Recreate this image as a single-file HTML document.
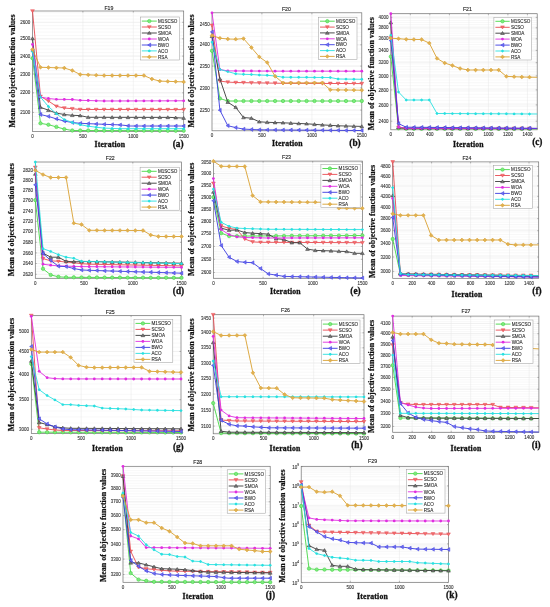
<!DOCTYPE html>
<html><head><meta charset="utf-8"><style>
html,body{margin:0;padding:0;background:#fff;width:550px;height:607px;overflow:hidden}
svg{display:block;filter:blur(0.3px)}
.tk{font-family:"Liberation Sans",Arial,sans-serif;font-size:4.5px;fill:#333;stroke:#333;stroke-width:0.1px}
.tt{font-family:"Liberation Sans",Arial,sans-serif;font-size:5.2px;fill:#222;stroke:#222;stroke-width:0.12px}
.lg{font-family:"Liberation Sans",Arial,sans-serif;font-size:4.6px;fill:#222;stroke:#222;stroke-width:0.08px}
.yl{font-family:"Liberation Serif","Times New Roman",serif;font-weight:bold;font-size:7.9px;fill:#111;stroke:#111;stroke-width:0.2px}
.xl{font-family:"Liberation Serif","Times New Roman",serif;font-weight:bold;font-size:7.7px;letter-spacing:0.2px;fill:#111;stroke:#111;stroke-width:0.3px}
.tag{font-family:"Liberation Serif","Times New Roman",serif;font-weight:bold;font-size:9.3px;fill:#111;stroke:#111;stroke-width:0.3px}
</style></head><body>
<svg width="550" height="607" viewBox="0 0 550 607">
<rect width="550" height="607" fill="#fff"/>
<line x1="32.5" x2="183.7" y1="128.8" y2="128.8" stroke="#f1f1f1" stroke-width="0.5"/>
<line x1="32.5" x2="183.7" y1="124.6" y2="124.6" stroke="#f1f1f1" stroke-width="0.5"/>
<line x1="32.5" x2="183.7" y1="120.5" y2="120.5" stroke="#f1f1f1" stroke-width="0.5"/>
<line x1="32.5" x2="183.7" y1="116.4" y2="116.4" stroke="#f1f1f1" stroke-width="0.5"/>
<line x1="32.5" x2="183.7" y1="112.4" y2="112.4" stroke="#f1f1f1" stroke-width="0.5"/>
<line x1="32.5" x2="183.7" y1="108.4" y2="108.4" stroke="#f1f1f1" stroke-width="0.5"/>
<line x1="32.5" x2="183.7" y1="104.4" y2="104.4" stroke="#f1f1f1" stroke-width="0.5"/>
<line x1="32.5" x2="183.7" y1="100.5" y2="100.5" stroke="#f1f1f1" stroke-width="0.5"/>
<line x1="32.5" x2="183.7" y1="96.6" y2="96.6" stroke="#f1f1f1" stroke-width="0.5"/>
<line x1="32.5" x2="183.7" y1="92.8" y2="92.8" stroke="#f1f1f1" stroke-width="0.5"/>
<line x1="32.5" x2="183.7" y1="89.0" y2="89.0" stroke="#f1f1f1" stroke-width="0.5"/>
<line x1="32.5" x2="183.7" y1="85.2" y2="85.2" stroke="#f1f1f1" stroke-width="0.5"/>
<line x1="32.5" x2="183.7" y1="81.4" y2="81.4" stroke="#f1f1f1" stroke-width="0.5"/>
<line x1="32.5" x2="183.7" y1="77.7" y2="77.7" stroke="#f1f1f1" stroke-width="0.5"/>
<line x1="32.5" x2="183.7" y1="74.0" y2="74.0" stroke="#f1f1f1" stroke-width="0.5"/>
<line x1="32.5" x2="183.7" y1="70.4" y2="70.4" stroke="#f1f1f1" stroke-width="0.5"/>
<line x1="32.5" x2="183.7" y1="66.7" y2="66.7" stroke="#f1f1f1" stroke-width="0.5"/>
<line x1="32.5" x2="183.7" y1="63.2" y2="63.2" stroke="#f1f1f1" stroke-width="0.5"/>
<line x1="32.5" x2="183.7" y1="59.6" y2="59.6" stroke="#f1f1f1" stroke-width="0.5"/>
<line x1="32.5" x2="183.7" y1="56.1" y2="56.1" stroke="#f1f1f1" stroke-width="0.5"/>
<line x1="32.5" x2="183.7" y1="52.6" y2="52.6" stroke="#f1f1f1" stroke-width="0.5"/>
<line x1="32.5" x2="183.7" y1="49.1" y2="49.1" stroke="#f1f1f1" stroke-width="0.5"/>
<line x1="32.5" x2="183.7" y1="45.7" y2="45.7" stroke="#f1f1f1" stroke-width="0.5"/>
<line x1="32.5" x2="183.7" y1="42.2" y2="42.2" stroke="#f1f1f1" stroke-width="0.5"/>
<line x1="32.5" x2="183.7" y1="38.8" y2="38.8" stroke="#f1f1f1" stroke-width="0.5"/>
<line x1="32.5" x2="183.7" y1="35.5" y2="35.5" stroke="#f1f1f1" stroke-width="0.5"/>
<line x1="32.5" x2="183.7" y1="32.1" y2="32.1" stroke="#f1f1f1" stroke-width="0.5"/>
<line x1="32.5" x2="183.7" y1="28.8" y2="28.8" stroke="#f1f1f1" stroke-width="0.5"/>
<line x1="32.5" x2="183.7" y1="25.6" y2="25.6" stroke="#f1f1f1" stroke-width="0.5"/>
<line x1="32.5" x2="183.7" y1="22.3" y2="22.3" stroke="#f1f1f1" stroke-width="0.5"/>
<line x1="32.5" x2="183.7" y1="19.1" y2="19.1" stroke="#f1f1f1" stroke-width="0.5"/>
<line x1="32.5" x2="183.7" y1="15.9" y2="15.9" stroke="#f1f1f1" stroke-width="0.5"/>
<line x1="32.5" x2="183.7" y1="12.7" y2="12.7" stroke="#f1f1f1" stroke-width="0.5"/>
<line x1="32.5" x2="183.7" y1="112.4" y2="112.4" stroke="#e6e6e6" stroke-width="0.5"/>
<line x1="32.5" x2="183.7" y1="92.8" y2="92.8" stroke="#e6e6e6" stroke-width="0.5"/>
<line x1="32.5" x2="183.7" y1="74.0" y2="74.0" stroke="#e6e6e6" stroke-width="0.5"/>
<line x1="32.5" x2="183.7" y1="56.1" y2="56.1" stroke="#e6e6e6" stroke-width="0.5"/>
<line x1="32.5" x2="183.7" y1="38.8" y2="38.8" stroke="#e6e6e6" stroke-width="0.5"/>
<line x1="32.5" x2="183.7" y1="22.3" y2="22.3" stroke="#e6e6e6" stroke-width="0.5"/>
<line x1="82.9" x2="82.9" y1="11" y2="131.5" stroke="#e6e6e6" stroke-width="0.5"/>
<line x1="133.3" x2="133.3" y1="11" y2="131.5" stroke="#e6e6e6" stroke-width="0.5"/>
<rect x="32.5" y="11" width="151.2" height="120.5" fill="none" stroke="#707070" stroke-width="0.7"/>
<line x1="32.5" x2="34.0" y1="112.4" y2="112.4" stroke="#777" stroke-width="0.5"/>
<line x1="182.2" x2="183.7" y1="112.4" y2="112.4" stroke="#777" stroke-width="0.5"/>
<text x="30.3" y="114.0" class="tk" text-anchor="end">2100</text>
<line x1="32.5" x2="34.0" y1="92.8" y2="92.8" stroke="#777" stroke-width="0.5"/>
<line x1="182.2" x2="183.7" y1="92.8" y2="92.8" stroke="#777" stroke-width="0.5"/>
<text x="30.3" y="94.4" class="tk" text-anchor="end">2200</text>
<line x1="32.5" x2="34.0" y1="74.0" y2="74.0" stroke="#777" stroke-width="0.5"/>
<line x1="182.2" x2="183.7" y1="74.0" y2="74.0" stroke="#777" stroke-width="0.5"/>
<text x="30.3" y="75.6" class="tk" text-anchor="end">2300</text>
<line x1="32.5" x2="34.0" y1="56.1" y2="56.1" stroke="#777" stroke-width="0.5"/>
<line x1="182.2" x2="183.7" y1="56.1" y2="56.1" stroke="#777" stroke-width="0.5"/>
<text x="30.3" y="57.7" class="tk" text-anchor="end">2400</text>
<line x1="32.5" x2="34.0" y1="38.8" y2="38.8" stroke="#777" stroke-width="0.5"/>
<line x1="182.2" x2="183.7" y1="38.8" y2="38.8" stroke="#777" stroke-width="0.5"/>
<text x="30.3" y="40.4" class="tk" text-anchor="end">2500</text>
<line x1="32.5" x2="34.0" y1="22.3" y2="22.3" stroke="#777" stroke-width="0.5"/>
<line x1="182.2" x2="183.7" y1="22.3" y2="22.3" stroke="#777" stroke-width="0.5"/>
<text x="30.3" y="23.9" class="tk" text-anchor="end">2600</text>
<text x="32.5" y="137.7" class="tk" text-anchor="middle">0</text>
<line x1="82.9" x2="82.9" y1="130.0" y2="131.5" stroke="#777" stroke-width="0.5"/>
<line x1="82.9" x2="82.9" y1="11" y2="12.5" stroke="#777" stroke-width="0.5"/>
<text x="82.9" y="137.7" class="tk" text-anchor="middle">500</text>
<line x1="133.3" x2="133.3" y1="130.0" y2="131.5" stroke="#777" stroke-width="0.5"/>
<line x1="133.3" x2="133.3" y1="11" y2="12.5" stroke="#777" stroke-width="0.5"/>
<text x="133.3" y="137.7" class="tk" text-anchor="middle">1000</text>
<text x="183.7" y="137.7" class="tk" text-anchor="middle">1500</text>
<clipPath id="clipa"><rect x="29.5" y="8" width="157.2" height="126.5"/></clipPath>
<g clip-path="url(#clipa)">
<path d="M32.5,58.2L40.5,123.3L48.4,124.7L56.4,126.9L64.3,129.1L72.3,130.5L183.7,130.7" fill="none" stroke="#45d845" stroke-width="0.9" stroke-linejoin="round"/>
<circle cx="32.5" cy="58.2" r="1.7" fill="#7ee87e" stroke="#45d845" stroke-width="0.6"/>
<circle cx="40.5" cy="123.3" r="1.7" fill="#7ee87e" stroke="#45d845" stroke-width="0.6"/>
<circle cx="48.4" cy="124.7" r="1.7" fill="#7ee87e" stroke="#45d845" stroke-width="0.6"/>
<circle cx="56.4" cy="126.9" r="1.7" fill="#7ee87e" stroke="#45d845" stroke-width="0.6"/>
<circle cx="64.3" cy="129.1" r="1.7" fill="#7ee87e" stroke="#45d845" stroke-width="0.6"/>
<circle cx="72.3" cy="130.5" r="1.7" fill="#7ee87e" stroke="#45d845" stroke-width="0.6"/>
<circle cx="80.2" cy="130.5" r="1.7" fill="#7ee87e" stroke="#45d845" stroke-width="0.6"/>
<circle cx="88.2" cy="130.5" r="1.7" fill="#7ee87e" stroke="#45d845" stroke-width="0.6"/>
<circle cx="96.2" cy="130.5" r="1.7" fill="#7ee87e" stroke="#45d845" stroke-width="0.6"/>
<circle cx="104.1" cy="130.6" r="1.7" fill="#7ee87e" stroke="#45d845" stroke-width="0.6"/>
<circle cx="112.1" cy="130.6" r="1.7" fill="#7ee87e" stroke="#45d845" stroke-width="0.6"/>
<circle cx="120.0" cy="130.6" r="1.7" fill="#7ee87e" stroke="#45d845" stroke-width="0.6"/>
<circle cx="128.0" cy="130.6" r="1.7" fill="#7ee87e" stroke="#45d845" stroke-width="0.6"/>
<circle cx="136.0" cy="130.6" r="1.7" fill="#7ee87e" stroke="#45d845" stroke-width="0.6"/>
<circle cx="143.9" cy="130.6" r="1.7" fill="#7ee87e" stroke="#45d845" stroke-width="0.6"/>
<circle cx="151.9" cy="130.6" r="1.7" fill="#7ee87e" stroke="#45d845" stroke-width="0.6"/>
<circle cx="159.8" cy="130.7" r="1.7" fill="#7ee87e" stroke="#45d845" stroke-width="0.6"/>
<circle cx="167.8" cy="130.7" r="1.7" fill="#7ee87e" stroke="#45d845" stroke-width="0.6"/>
<circle cx="175.7" cy="130.7" r="1.7" fill="#7ee87e" stroke="#45d845" stroke-width="0.6"/>
<circle cx="183.7" cy="130.7" r="1.7" fill="#7ee87e" stroke="#45d845" stroke-width="0.6"/>
<path d="M32.5,11.0L40.5,96.4L48.4,101.0L56.4,106.3L64.3,108.0L72.3,108.7L80.2,109.5L183.7,109.6" fill="none" stroke="#e84850" stroke-width="0.9" stroke-linejoin="round"/>
<path d="M30.6,9.7L34.4,9.7L32.5,12.7Z" fill="#f07070" stroke="#e84850" stroke-width="0.5"/>
<path d="M38.6,95.1L42.4,95.1L40.5,98.1Z" fill="#f07070" stroke="#e84850" stroke-width="0.5"/>
<path d="M46.5,99.7L50.3,99.7L48.4,102.7Z" fill="#f07070" stroke="#e84850" stroke-width="0.5"/>
<path d="M54.5,105.0L58.3,105.0L56.4,108.0Z" fill="#f07070" stroke="#e84850" stroke-width="0.5"/>
<path d="M62.4,106.7L66.2,106.7L64.3,109.7Z" fill="#f07070" stroke="#e84850" stroke-width="0.5"/>
<path d="M70.4,107.4L74.2,107.4L72.3,110.4Z" fill="#f07070" stroke="#e84850" stroke-width="0.5"/>
<path d="M78.3,108.2L82.1,108.2L80.2,111.2Z" fill="#f07070" stroke="#e84850" stroke-width="0.5"/>
<path d="M86.3,108.2L90.1,108.2L88.2,111.2Z" fill="#f07070" stroke="#e84850" stroke-width="0.5"/>
<path d="M94.3,108.2L98.1,108.2L96.2,111.2Z" fill="#f07070" stroke="#e84850" stroke-width="0.5"/>
<path d="M102.2,108.2L106.0,108.2L104.1,111.2Z" fill="#f07070" stroke="#e84850" stroke-width="0.5"/>
<path d="M110.2,108.2L114.0,108.2L112.1,111.2Z" fill="#f07070" stroke="#e84850" stroke-width="0.5"/>
<path d="M118.1,108.2L121.9,108.2L120.0,111.2Z" fill="#f07070" stroke="#e84850" stroke-width="0.5"/>
<path d="M126.1,108.2L129.9,108.2L128.0,111.3Z" fill="#f07070" stroke="#e84850" stroke-width="0.5"/>
<path d="M134.1,108.2L137.9,108.2L136.0,111.3Z" fill="#f07070" stroke="#e84850" stroke-width="0.5"/>
<path d="M142.0,108.2L145.8,108.2L143.9,111.3Z" fill="#f07070" stroke="#e84850" stroke-width="0.5"/>
<path d="M150.0,108.2L153.8,108.2L151.9,111.3Z" fill="#f07070" stroke="#e84850" stroke-width="0.5"/>
<path d="M157.9,108.2L161.7,108.2L159.8,111.3Z" fill="#f07070" stroke="#e84850" stroke-width="0.5"/>
<path d="M165.9,108.3L169.7,108.3L167.8,111.3Z" fill="#f07070" stroke="#e84850" stroke-width="0.5"/>
<path d="M173.8,108.3L177.6,108.3L175.7,111.3Z" fill="#f07070" stroke="#e84850" stroke-width="0.5"/>
<path d="M181.8,108.3L185.6,108.3L183.7,111.3Z" fill="#f07070" stroke="#e84850" stroke-width="0.5"/>
<path d="M32.5,38.5L40.5,107.3L48.4,110.2L56.4,113.1L64.3,114.5L72.3,115.3L80.2,115.6L88.2,117.3L170.0,117.4L183.7,118.1" fill="none" stroke="#3a3a3a" stroke-width="0.9" stroke-linejoin="round"/>
<path d="M30.6,39.8L34.4,39.8L32.5,36.8Z" fill="#777777" stroke="#3a3a3a" stroke-width="0.5"/>
<path d="M38.6,108.6L42.4,108.6L40.5,105.6Z" fill="#777777" stroke="#3a3a3a" stroke-width="0.5"/>
<path d="M46.5,111.5L50.3,111.5L48.4,108.5Z" fill="#777777" stroke="#3a3a3a" stroke-width="0.5"/>
<path d="M54.5,114.4L58.3,114.4L56.4,111.4Z" fill="#777777" stroke="#3a3a3a" stroke-width="0.5"/>
<path d="M62.4,115.8L66.2,115.8L64.3,112.8Z" fill="#777777" stroke="#3a3a3a" stroke-width="0.5"/>
<path d="M70.4,116.6L74.2,116.6L72.3,113.6Z" fill="#777777" stroke="#3a3a3a" stroke-width="0.5"/>
<path d="M78.3,116.9L82.1,116.9L80.2,113.9Z" fill="#777777" stroke="#3a3a3a" stroke-width="0.5"/>
<path d="M86.3,118.6L90.1,118.6L88.2,115.6Z" fill="#777777" stroke="#3a3a3a" stroke-width="0.5"/>
<path d="M94.3,118.6L98.1,118.6L96.2,115.6Z" fill="#777777" stroke="#3a3a3a" stroke-width="0.5"/>
<path d="M102.2,118.6L106.0,118.6L104.1,115.6Z" fill="#777777" stroke="#3a3a3a" stroke-width="0.5"/>
<path d="M110.2,118.7L114.0,118.7L112.1,115.6Z" fill="#777777" stroke="#3a3a3a" stroke-width="0.5"/>
<path d="M118.1,118.7L121.9,118.7L120.0,115.6Z" fill="#777777" stroke="#3a3a3a" stroke-width="0.5"/>
<path d="M126.1,118.7L129.9,118.7L128.0,115.6Z" fill="#777777" stroke="#3a3a3a" stroke-width="0.5"/>
<path d="M134.1,118.7L137.9,118.7L136.0,115.6Z" fill="#777777" stroke="#3a3a3a" stroke-width="0.5"/>
<path d="M142.0,118.7L145.8,118.7L143.9,115.7Z" fill="#777777" stroke="#3a3a3a" stroke-width="0.5"/>
<path d="M150.0,118.7L153.8,118.7L151.9,115.7Z" fill="#777777" stroke="#3a3a3a" stroke-width="0.5"/>
<path d="M157.9,118.7L161.7,118.7L159.8,115.7Z" fill="#777777" stroke="#3a3a3a" stroke-width="0.5"/>
<path d="M165.9,118.7L169.7,118.7L167.8,115.7Z" fill="#777777" stroke="#3a3a3a" stroke-width="0.5"/>
<path d="M173.8,119.0L177.6,119.0L175.7,116.0Z" fill="#777777" stroke="#3a3a3a" stroke-width="0.5"/>
<path d="M181.8,119.4L185.6,119.4L183.7,116.4Z" fill="#777777" stroke="#3a3a3a" stroke-width="0.5"/>
<path d="M32.5,44.4L40.5,97.1L48.4,98.5L56.4,99.3L72.3,99.5L80.2,100.3L104.1,101.0L183.7,100.8" fill="none" stroke="#e02ee0" stroke-width="0.9" stroke-linejoin="round"/>
<circle cx="32.5" cy="44.4" r="1.4" fill="#e02ee0"/>
<circle cx="40.5" cy="97.1" r="1.4" fill="#e02ee0"/>
<circle cx="48.4" cy="98.5" r="1.4" fill="#e02ee0"/>
<circle cx="56.4" cy="99.3" r="1.4" fill="#e02ee0"/>
<circle cx="64.3" cy="99.4" r="1.4" fill="#e02ee0"/>
<circle cx="72.3" cy="99.5" r="1.4" fill="#e02ee0"/>
<circle cx="80.2" cy="100.3" r="1.4" fill="#e02ee0"/>
<circle cx="88.2" cy="100.5" r="1.4" fill="#e02ee0"/>
<circle cx="96.2" cy="100.8" r="1.4" fill="#e02ee0"/>
<circle cx="104.1" cy="101.0" r="1.4" fill="#e02ee0"/>
<circle cx="112.1" cy="101.0" r="1.4" fill="#e02ee0"/>
<circle cx="120.0" cy="101.0" r="1.4" fill="#e02ee0"/>
<circle cx="128.0" cy="100.9" r="1.4" fill="#e02ee0"/>
<circle cx="136.0" cy="100.9" r="1.4" fill="#e02ee0"/>
<circle cx="143.9" cy="100.9" r="1.4" fill="#e02ee0"/>
<circle cx="151.9" cy="100.9" r="1.4" fill="#e02ee0"/>
<circle cx="159.8" cy="100.9" r="1.4" fill="#e02ee0"/>
<circle cx="167.8" cy="100.8" r="1.4" fill="#e02ee0"/>
<circle cx="175.7" cy="100.8" r="1.4" fill="#e02ee0"/>
<circle cx="183.7" cy="100.8" r="1.4" fill="#e02ee0"/>
<path d="M32.5,51.0L40.5,114.5L48.4,116.4L56.4,118.9L64.3,121.1L72.3,122.5L80.2,123.3L104.1,124.3L120.0,124.9L130.0,126.0L183.7,126.0" fill="none" stroke="#3a3ae0" stroke-width="0.9" stroke-linejoin="round"/>
<path d="M30.8,51.0L33.8,49.1L33.8,52.9Z" fill="#7070f0" stroke="#3a3ae0" stroke-width="0.5"/>
<path d="M38.7,114.5L41.8,112.6L41.8,116.4Z" fill="#7070f0" stroke="#3a3ae0" stroke-width="0.5"/>
<path d="M46.7,116.4L49.7,114.5L49.7,118.3Z" fill="#7070f0" stroke="#3a3ae0" stroke-width="0.5"/>
<path d="M54.7,118.9L57.7,117.0L57.7,120.8Z" fill="#7070f0" stroke="#3a3ae0" stroke-width="0.5"/>
<path d="M62.6,121.1L65.7,119.2L65.7,123.0Z" fill="#7070f0" stroke="#3a3ae0" stroke-width="0.5"/>
<path d="M70.6,122.5L73.6,120.6L73.6,124.4Z" fill="#7070f0" stroke="#3a3ae0" stroke-width="0.5"/>
<path d="M78.5,123.3L81.6,121.4L81.6,125.2Z" fill="#7070f0" stroke="#3a3ae0" stroke-width="0.5"/>
<path d="M86.5,123.6L89.5,121.7L89.5,125.5Z" fill="#7070f0" stroke="#3a3ae0" stroke-width="0.5"/>
<path d="M94.5,124.0L97.5,122.1L97.5,125.9Z" fill="#7070f0" stroke="#3a3ae0" stroke-width="0.5"/>
<path d="M102.4,124.3L105.5,122.4L105.5,126.2Z" fill="#7070f0" stroke="#3a3ae0" stroke-width="0.5"/>
<path d="M110.4,124.6L113.4,122.7L113.4,126.5Z" fill="#7070f0" stroke="#3a3ae0" stroke-width="0.5"/>
<path d="M118.3,124.9L121.4,123.0L121.4,126.8Z" fill="#7070f0" stroke="#3a3ae0" stroke-width="0.5"/>
<path d="M126.3,125.8L129.3,123.9L129.3,127.7Z" fill="#7070f0" stroke="#3a3ae0" stroke-width="0.5"/>
<path d="M134.2,126.0L137.3,124.1L137.3,127.9Z" fill="#7070f0" stroke="#3a3ae0" stroke-width="0.5"/>
<path d="M142.2,126.0L145.2,124.1L145.2,127.9Z" fill="#7070f0" stroke="#3a3ae0" stroke-width="0.5"/>
<path d="M150.2,126.0L153.2,124.1L153.2,127.9Z" fill="#7070f0" stroke="#3a3ae0" stroke-width="0.5"/>
<path d="M158.1,126.0L161.2,124.1L161.2,127.9Z" fill="#7070f0" stroke="#3a3ae0" stroke-width="0.5"/>
<path d="M166.1,126.0L169.1,124.1L169.1,127.9Z" fill="#7070f0" stroke="#3a3ae0" stroke-width="0.5"/>
<path d="M174.0,126.0L177.1,124.1L177.1,127.9Z" fill="#7070f0" stroke="#3a3ae0" stroke-width="0.5"/>
<path d="M182.0,126.0L185.0,124.1L185.0,127.9Z" fill="#7070f0" stroke="#3a3ae0" stroke-width="0.5"/>
<path d="M32.5,51.6L40.5,97.1L48.4,106.5L56.4,113.8L64.3,119.6L72.3,122.5L80.2,124.7L88.2,126.2L96.2,127.2L104.1,128.1L120.0,128.7L183.7,128.7" fill="none" stroke="#28e0e0" stroke-width="0.9" stroke-linejoin="round"/>
<circle cx="32.5" cy="51.6" r="1.2" fill="#28e0e0"/><path d="M31.0,51.6H34.0M32.5,50.1V53.1" stroke="#28e0e0" stroke-width="0.5"/>
<circle cx="40.5" cy="97.1" r="1.2" fill="#28e0e0"/><path d="M39.0,97.1H42.0M40.5,95.6V98.6" stroke="#28e0e0" stroke-width="0.5"/>
<circle cx="48.4" cy="106.5" r="1.2" fill="#28e0e0"/><path d="M46.9,106.5H49.9M48.4,105.0V108.0" stroke="#28e0e0" stroke-width="0.5"/>
<circle cx="56.4" cy="113.8" r="1.2" fill="#28e0e0"/><path d="M54.9,113.8H57.9M56.4,112.3V115.3" stroke="#28e0e0" stroke-width="0.5"/>
<circle cx="64.3" cy="119.6" r="1.2" fill="#28e0e0"/><path d="M62.8,119.6H65.8M64.3,118.1V121.1" stroke="#28e0e0" stroke-width="0.5"/>
<circle cx="72.3" cy="122.5" r="1.2" fill="#28e0e0"/><path d="M70.8,122.5H73.8M72.3,121.0V124.0" stroke="#28e0e0" stroke-width="0.5"/>
<circle cx="80.2" cy="124.7" r="1.2" fill="#28e0e0"/><path d="M78.7,124.7H81.7M80.2,123.2V126.2" stroke="#28e0e0" stroke-width="0.5"/>
<circle cx="88.2" cy="126.2" r="1.2" fill="#28e0e0"/><path d="M86.7,126.2H89.7M88.2,124.7V127.7" stroke="#28e0e0" stroke-width="0.5"/>
<circle cx="96.2" cy="127.2" r="1.2" fill="#28e0e0"/><path d="M94.7,127.2H97.7M96.2,125.7V128.7" stroke="#28e0e0" stroke-width="0.5"/>
<circle cx="104.1" cy="128.1" r="1.2" fill="#28e0e0"/><path d="M102.6,128.1H105.6M104.1,126.6V129.6" stroke="#28e0e0" stroke-width="0.5"/>
<circle cx="112.1" cy="128.4" r="1.2" fill="#28e0e0"/><path d="M110.6,128.4H113.6M112.1,126.9V129.9" stroke="#28e0e0" stroke-width="0.5"/>
<circle cx="120.0" cy="128.7" r="1.2" fill="#28e0e0"/><path d="M118.5,128.7H121.5M120.0,127.2V130.2" stroke="#28e0e0" stroke-width="0.5"/>
<circle cx="128.0" cy="128.7" r="1.2" fill="#28e0e0"/><path d="M126.5,128.7H129.5M128.0,127.2V130.2" stroke="#28e0e0" stroke-width="0.5"/>
<circle cx="136.0" cy="128.7" r="1.2" fill="#28e0e0"/><path d="M134.5,128.7H137.5M136.0,127.2V130.2" stroke="#28e0e0" stroke-width="0.5"/>
<circle cx="143.9" cy="128.7" r="1.2" fill="#28e0e0"/><path d="M142.4,128.7H145.4M143.9,127.2V130.2" stroke="#28e0e0" stroke-width="0.5"/>
<circle cx="151.9" cy="128.7" r="1.2" fill="#28e0e0"/><path d="M150.4,128.7H153.4M151.9,127.2V130.2" stroke="#28e0e0" stroke-width="0.5"/>
<circle cx="159.8" cy="128.7" r="1.2" fill="#28e0e0"/><path d="M158.3,128.7H161.3M159.8,127.2V130.2" stroke="#28e0e0" stroke-width="0.5"/>
<circle cx="167.8" cy="128.7" r="1.2" fill="#28e0e0"/><path d="M166.3,128.7H169.3M167.8,127.2V130.2" stroke="#28e0e0" stroke-width="0.5"/>
<circle cx="175.7" cy="128.7" r="1.2" fill="#28e0e0"/><path d="M174.2,128.7H177.2M175.7,127.2V130.2" stroke="#28e0e0" stroke-width="0.5"/>
<circle cx="183.7" cy="128.7" r="1.2" fill="#28e0e0"/><path d="M182.2,128.7H185.2M183.7,127.2V130.2" stroke="#28e0e0" stroke-width="0.5"/>
<path d="M32.5,49.5L40.5,67.3L64.3,68.0L72.3,70.5L80.2,74.5L104.1,75.5L143.9,75.5L151.9,79.0L159.8,81.1L183.7,81.9" fill="none" stroke="#d9a030" stroke-width="0.9" stroke-linejoin="round"/>
<path d="M30.6,49.5L32.5,47.6L34.4,49.5L32.5,51.4Z" fill="#e0b050" stroke="#d9a030" stroke-width="0.5"/>
<path d="M38.6,67.3L40.5,65.4L42.4,67.3L40.5,69.2Z" fill="#e0b050" stroke="#d9a030" stroke-width="0.5"/>
<path d="M46.5,67.5L48.4,65.6L50.3,67.5L48.4,69.4Z" fill="#e0b050" stroke="#d9a030" stroke-width="0.5"/>
<path d="M54.5,67.8L56.4,65.9L58.3,67.8L56.4,69.7Z" fill="#e0b050" stroke="#d9a030" stroke-width="0.5"/>
<path d="M62.4,68.0L64.3,66.1L66.2,68.0L64.3,69.9Z" fill="#e0b050" stroke="#d9a030" stroke-width="0.5"/>
<path d="M70.4,70.5L72.3,68.6L74.2,70.5L72.3,72.4Z" fill="#e0b050" stroke="#d9a030" stroke-width="0.5"/>
<path d="M78.3,74.5L80.2,72.6L82.1,74.5L80.2,76.4Z" fill="#e0b050" stroke="#d9a030" stroke-width="0.5"/>
<path d="M86.3,74.8L88.2,72.9L90.1,74.8L88.2,76.7Z" fill="#e0b050" stroke="#d9a030" stroke-width="0.5"/>
<path d="M94.3,75.2L96.2,73.3L98.1,75.2L96.2,77.1Z" fill="#e0b050" stroke="#d9a030" stroke-width="0.5"/>
<path d="M102.2,75.5L104.1,73.6L106.0,75.5L104.1,77.4Z" fill="#e0b050" stroke="#d9a030" stroke-width="0.5"/>
<path d="M110.2,75.5L112.1,73.6L114.0,75.5L112.1,77.4Z" fill="#e0b050" stroke="#d9a030" stroke-width="0.5"/>
<path d="M118.1,75.5L120.0,73.6L121.9,75.5L120.0,77.4Z" fill="#e0b050" stroke="#d9a030" stroke-width="0.5"/>
<path d="M126.1,75.5L128.0,73.6L129.9,75.5L128.0,77.4Z" fill="#e0b050" stroke="#d9a030" stroke-width="0.5"/>
<path d="M134.1,75.5L136.0,73.6L137.9,75.5L136.0,77.4Z" fill="#e0b050" stroke="#d9a030" stroke-width="0.5"/>
<path d="M142.0,75.5L143.9,73.6L145.8,75.5L143.9,77.4Z" fill="#e0b050" stroke="#d9a030" stroke-width="0.5"/>
<path d="M150.0,79.0L151.9,77.1L153.8,79.0L151.9,80.9Z" fill="#e0b050" stroke="#d9a030" stroke-width="0.5"/>
<path d="M157.9,81.1L159.8,79.2L161.7,81.1L159.8,83.0Z" fill="#e0b050" stroke="#d9a030" stroke-width="0.5"/>
<path d="M165.9,81.4L167.8,79.5L169.7,81.4L167.8,83.3Z" fill="#e0b050" stroke="#d9a030" stroke-width="0.5"/>
<path d="M173.8,81.6L175.7,79.7L177.6,81.6L175.7,83.5Z" fill="#e0b050" stroke="#d9a030" stroke-width="0.5"/>
<path d="M181.8,81.9L183.7,80.0L185.6,81.9L183.7,83.8Z" fill="#e0b050" stroke="#d9a030" stroke-width="0.5"/>
</g>
<text x="108.9" y="10.0" class="tt" text-anchor="middle">F19</text>
<rect x="140.3" y="17" width="39.39999999999998" height="43" fill="#fff" stroke="#9a9a9a" stroke-width="0.5"/>
<line x1="141.8" x2="156.8" y1="21.1" y2="21.1" stroke="#45d845" stroke-width="0.9"/>
<circle cx="149.3" cy="21.1" r="1.7" fill="#7ee87e" stroke="#45d845" stroke-width="0.6"/>
<text x="158.0" y="22.8" class="lg">M1SCSO</text>
<line x1="141.8" x2="156.8" y1="27.0" y2="27.0" stroke="#e84850" stroke-width="0.9"/>
<path d="M147.4,25.7L151.2,25.7L149.3,28.7Z" fill="#f07070" stroke="#e84850" stroke-width="0.5"/>
<text x="158.0" y="28.7" class="lg">SCSO</text>
<line x1="141.8" x2="156.8" y1="33.0" y2="33.0" stroke="#3a3a3a" stroke-width="0.9"/>
<path d="M147.4,34.3L151.2,34.3L149.3,31.3Z" fill="#777777" stroke="#3a3a3a" stroke-width="0.5"/>
<text x="158.0" y="34.7" class="lg">SMOA</text>
<line x1="141.8" x2="156.8" y1="39.0" y2="39.0" stroke="#e02ee0" stroke-width="0.9"/>
<circle cx="149.3" cy="39.0" r="1.4" fill="#e02ee0"/>
<text x="158.0" y="40.7" class="lg">WOA</text>
<line x1="141.8" x2="156.8" y1="45.0" y2="45.0" stroke="#3a3ae0" stroke-width="0.9"/>
<path d="M147.6,45.0L150.7,43.1L150.7,46.9Z" fill="#7070f0" stroke="#3a3ae0" stroke-width="0.5"/>
<text x="158.0" y="46.7" class="lg">BWO</text>
<line x1="141.8" x2="156.8" y1="50.9" y2="50.9" stroke="#28e0e0" stroke-width="0.9"/>
<circle cx="149.3" cy="50.9" r="1.2" fill="#28e0e0"/><path d="M147.8,50.9H150.8M149.3,49.4V52.4" stroke="#28e0e0" stroke-width="0.5"/>
<text x="158.0" y="52.6" class="lg">ACO</text>
<line x1="141.8" x2="156.8" y1="56.9" y2="56.9" stroke="#d9a030" stroke-width="0.9"/>
<path d="M147.4,56.9L149.3,55.0L151.2,56.9L149.3,58.8Z" fill="#e0b050" stroke="#d9a030" stroke-width="0.5"/>
<text x="158.0" y="58.6" class="lg">RSA</text>
<text transform="translate(15.2,70.9) scale(1.08,1) rotate(-90)" class="yl" text-anchor="middle">Mean of objective function values</text>
<text x="109.9" y="146.6" class="xl" text-anchor="middle">Iteration</text>
<text x="178.2" y="147.2" class="tag" text-anchor="middle">(a)</text>
<line x1="212" x2="361.8" y1="128.2" y2="128.2" stroke="#f1f1f1" stroke-width="0.5"/>
<line x1="212" x2="361.8" y1="123.7" y2="123.7" stroke="#f1f1f1" stroke-width="0.5"/>
<line x1="212" x2="361.8" y1="119.1" y2="119.1" stroke="#f1f1f1" stroke-width="0.5"/>
<line x1="212" x2="361.8" y1="114.6" y2="114.6" stroke="#f1f1f1" stroke-width="0.5"/>
<line x1="212" x2="361.8" y1="110.1" y2="110.1" stroke="#f1f1f1" stroke-width="0.5"/>
<line x1="212" x2="361.8" y1="105.6" y2="105.6" stroke="#f1f1f1" stroke-width="0.5"/>
<line x1="212" x2="361.8" y1="101.2" y2="101.2" stroke="#f1f1f1" stroke-width="0.5"/>
<line x1="212" x2="361.8" y1="96.7" y2="96.7" stroke="#f1f1f1" stroke-width="0.5"/>
<line x1="212" x2="361.8" y1="92.3" y2="92.3" stroke="#f1f1f1" stroke-width="0.5"/>
<line x1="212" x2="361.8" y1="87.9" y2="87.9" stroke="#f1f1f1" stroke-width="0.5"/>
<line x1="212" x2="361.8" y1="83.5" y2="83.5" stroke="#f1f1f1" stroke-width="0.5"/>
<line x1="212" x2="361.8" y1="79.1" y2="79.1" stroke="#f1f1f1" stroke-width="0.5"/>
<line x1="212" x2="361.8" y1="74.8" y2="74.8" stroke="#f1f1f1" stroke-width="0.5"/>
<line x1="212" x2="361.8" y1="70.4" y2="70.4" stroke="#f1f1f1" stroke-width="0.5"/>
<line x1="212" x2="361.8" y1="66.1" y2="66.1" stroke="#f1f1f1" stroke-width="0.5"/>
<line x1="212" x2="361.8" y1="61.8" y2="61.8" stroke="#f1f1f1" stroke-width="0.5"/>
<line x1="212" x2="361.8" y1="57.6" y2="57.6" stroke="#f1f1f1" stroke-width="0.5"/>
<line x1="212" x2="361.8" y1="53.3" y2="53.3" stroke="#f1f1f1" stroke-width="0.5"/>
<line x1="212" x2="361.8" y1="49.1" y2="49.1" stroke="#f1f1f1" stroke-width="0.5"/>
<line x1="212" x2="361.8" y1="44.8" y2="44.8" stroke="#f1f1f1" stroke-width="0.5"/>
<line x1="212" x2="361.8" y1="40.6" y2="40.6" stroke="#f1f1f1" stroke-width="0.5"/>
<line x1="212" x2="361.8" y1="36.5" y2="36.5" stroke="#f1f1f1" stroke-width="0.5"/>
<line x1="212" x2="361.8" y1="32.3" y2="32.3" stroke="#f1f1f1" stroke-width="0.5"/>
<line x1="212" x2="361.8" y1="28.1" y2="28.1" stroke="#f1f1f1" stroke-width="0.5"/>
<line x1="212" x2="361.8" y1="24.0" y2="24.0" stroke="#f1f1f1" stroke-width="0.5"/>
<line x1="212" x2="361.8" y1="19.9" y2="19.9" stroke="#f1f1f1" stroke-width="0.5"/>
<line x1="212" x2="361.8" y1="15.8" y2="15.8" stroke="#f1f1f1" stroke-width="0.5"/>
<line x1="212" x2="361.8" y1="110.1" y2="110.1" stroke="#e6e6e6" stroke-width="0.5"/>
<line x1="212" x2="361.8" y1="87.9" y2="87.9" stroke="#e6e6e6" stroke-width="0.5"/>
<line x1="212" x2="361.8" y1="66.1" y2="66.1" stroke="#e6e6e6" stroke-width="0.5"/>
<line x1="212" x2="361.8" y1="44.8" y2="44.8" stroke="#e6e6e6" stroke-width="0.5"/>
<line x1="212" x2="361.8" y1="24.0" y2="24.0" stroke="#e6e6e6" stroke-width="0.5"/>
<line x1="261.9" x2="261.9" y1="12.8" y2="130.8" stroke="#e6e6e6" stroke-width="0.5"/>
<line x1="311.9" x2="311.9" y1="12.8" y2="130.8" stroke="#e6e6e6" stroke-width="0.5"/>
<rect x="212" y="12.8" width="149.8" height="118.00000000000001" fill="none" stroke="#707070" stroke-width="0.7"/>
<line x1="212" x2="213.5" y1="110.1" y2="110.1" stroke="#777" stroke-width="0.5"/>
<line x1="360.3" x2="361.8" y1="110.1" y2="110.1" stroke="#777" stroke-width="0.5"/>
<text x="209.8" y="111.7" class="tk" text-anchor="end">2250</text>
<line x1="212" x2="213.5" y1="87.9" y2="87.9" stroke="#777" stroke-width="0.5"/>
<line x1="360.3" x2="361.8" y1="87.9" y2="87.9" stroke="#777" stroke-width="0.5"/>
<text x="209.8" y="89.5" class="tk" text-anchor="end">2300</text>
<line x1="212" x2="213.5" y1="66.1" y2="66.1" stroke="#777" stroke-width="0.5"/>
<line x1="360.3" x2="361.8" y1="66.1" y2="66.1" stroke="#777" stroke-width="0.5"/>
<text x="209.8" y="67.7" class="tk" text-anchor="end">2350</text>
<line x1="212" x2="213.5" y1="44.8" y2="44.8" stroke="#777" stroke-width="0.5"/>
<line x1="360.3" x2="361.8" y1="44.8" y2="44.8" stroke="#777" stroke-width="0.5"/>
<text x="209.8" y="46.4" class="tk" text-anchor="end">2400</text>
<line x1="212" x2="213.5" y1="24.0" y2="24.0" stroke="#777" stroke-width="0.5"/>
<line x1="360.3" x2="361.8" y1="24.0" y2="24.0" stroke="#777" stroke-width="0.5"/>
<text x="209.8" y="25.6" class="tk" text-anchor="end">2450</text>
<text x="212.0" y="137.0" class="tk" text-anchor="middle">0</text>
<line x1="261.9" x2="261.9" y1="129.3" y2="130.8" stroke="#777" stroke-width="0.5"/>
<line x1="261.9" x2="261.9" y1="12.8" y2="14.3" stroke="#777" stroke-width="0.5"/>
<text x="261.9" y="137.0" class="tk" text-anchor="middle">500</text>
<line x1="311.9" x2="311.9" y1="129.3" y2="130.8" stroke="#777" stroke-width="0.5"/>
<line x1="311.9" x2="311.9" y1="12.8" y2="14.3" stroke="#777" stroke-width="0.5"/>
<text x="311.9" y="137.0" class="tk" text-anchor="middle">1000</text>
<text x="361.8" y="137.0" class="tk" text-anchor="middle">1500</text>
<clipPath id="clipb"><rect x="209" y="9.8" width="155.8" height="124.00000000000001"/></clipPath>
<g clip-path="url(#clipb)">
<path d="M212.0,50.8L219.9,98.5L227.8,101.0L361.8,101.0" fill="none" stroke="#45d845" stroke-width="0.9" stroke-linejoin="round"/>
<circle cx="212.0" cy="50.8" r="1.7" fill="#7ee87e" stroke="#45d845" stroke-width="0.6"/>
<circle cx="219.9" cy="98.5" r="1.7" fill="#7ee87e" stroke="#45d845" stroke-width="0.6"/>
<circle cx="227.8" cy="101.0" r="1.7" fill="#7ee87e" stroke="#45d845" stroke-width="0.6"/>
<circle cx="235.7" cy="101.0" r="1.7" fill="#7ee87e" stroke="#45d845" stroke-width="0.6"/>
<circle cx="243.5" cy="101.0" r="1.7" fill="#7ee87e" stroke="#45d845" stroke-width="0.6"/>
<circle cx="251.4" cy="101.0" r="1.7" fill="#7ee87e" stroke="#45d845" stroke-width="0.6"/>
<circle cx="259.3" cy="101.0" r="1.7" fill="#7ee87e" stroke="#45d845" stroke-width="0.6"/>
<circle cx="267.2" cy="101.0" r="1.7" fill="#7ee87e" stroke="#45d845" stroke-width="0.6"/>
<circle cx="275.1" cy="101.0" r="1.7" fill="#7ee87e" stroke="#45d845" stroke-width="0.6"/>
<circle cx="283.0" cy="101.0" r="1.7" fill="#7ee87e" stroke="#45d845" stroke-width="0.6"/>
<circle cx="290.8" cy="101.0" r="1.7" fill="#7ee87e" stroke="#45d845" stroke-width="0.6"/>
<circle cx="298.7" cy="101.0" r="1.7" fill="#7ee87e" stroke="#45d845" stroke-width="0.6"/>
<circle cx="306.6" cy="101.0" r="1.7" fill="#7ee87e" stroke="#45d845" stroke-width="0.6"/>
<circle cx="314.5" cy="101.0" r="1.7" fill="#7ee87e" stroke="#45d845" stroke-width="0.6"/>
<circle cx="322.4" cy="101.0" r="1.7" fill="#7ee87e" stroke="#45d845" stroke-width="0.6"/>
<circle cx="330.3" cy="101.0" r="1.7" fill="#7ee87e" stroke="#45d845" stroke-width="0.6"/>
<circle cx="338.1" cy="101.0" r="1.7" fill="#7ee87e" stroke="#45d845" stroke-width="0.6"/>
<circle cx="346.0" cy="101.0" r="1.7" fill="#7ee87e" stroke="#45d845" stroke-width="0.6"/>
<circle cx="353.9" cy="101.0" r="1.7" fill="#7ee87e" stroke="#45d845" stroke-width="0.6"/>
<circle cx="361.8" cy="101.0" r="1.7" fill="#7ee87e" stroke="#45d845" stroke-width="0.6"/>
<path d="M212.0,25.4L219.9,81.1L227.8,82.1L235.7,82.5L283.0,83.3L361.8,83.6" fill="none" stroke="#e84850" stroke-width="0.9" stroke-linejoin="round"/>
<path d="M210.1,24.1L213.9,24.1L212.0,27.1Z" fill="#f07070" stroke="#e84850" stroke-width="0.5"/>
<path d="M218.0,79.8L221.8,79.8L219.9,82.8Z" fill="#f07070" stroke="#e84850" stroke-width="0.5"/>
<path d="M225.9,80.8L229.7,80.8L227.8,83.8Z" fill="#f07070" stroke="#e84850" stroke-width="0.5"/>
<path d="M233.8,81.2L237.6,81.2L235.7,84.2Z" fill="#f07070" stroke="#e84850" stroke-width="0.5"/>
<path d="M241.6,81.3L245.4,81.3L243.5,84.3Z" fill="#f07070" stroke="#e84850" stroke-width="0.5"/>
<path d="M249.5,81.4L253.3,81.4L251.4,84.5Z" fill="#f07070" stroke="#e84850" stroke-width="0.5"/>
<path d="M257.4,81.6L261.2,81.6L259.3,84.6Z" fill="#f07070" stroke="#e84850" stroke-width="0.5"/>
<path d="M265.3,81.7L269.1,81.7L267.2,84.7Z" fill="#f07070" stroke="#e84850" stroke-width="0.5"/>
<path d="M273.2,81.8L277.0,81.8L275.1,84.9Z" fill="#f07070" stroke="#e84850" stroke-width="0.5"/>
<path d="M281.1,82.0L284.9,82.0L283.0,85.0Z" fill="#f07070" stroke="#e84850" stroke-width="0.5"/>
<path d="M288.9,82.0L292.7,82.0L290.8,85.0Z" fill="#f07070" stroke="#e84850" stroke-width="0.5"/>
<path d="M296.8,82.0L300.6,82.0L298.7,85.1Z" fill="#f07070" stroke="#e84850" stroke-width="0.5"/>
<path d="M304.7,82.1L308.5,82.1L306.6,85.1Z" fill="#f07070" stroke="#e84850" stroke-width="0.5"/>
<path d="M312.6,82.1L316.4,82.1L314.5,85.1Z" fill="#f07070" stroke="#e84850" stroke-width="0.5"/>
<path d="M320.5,82.1L324.3,82.1L322.4,85.2Z" fill="#f07070" stroke="#e84850" stroke-width="0.5"/>
<path d="M328.4,82.1L332.2,82.1L330.3,85.2Z" fill="#f07070" stroke="#e84850" stroke-width="0.5"/>
<path d="M336.2,82.2L340.0,82.2L338.1,85.2Z" fill="#f07070" stroke="#e84850" stroke-width="0.5"/>
<path d="M344.1,82.2L347.9,82.2L346.0,85.2Z" fill="#f07070" stroke="#e84850" stroke-width="0.5"/>
<path d="M352.0,82.2L355.8,82.2L353.9,85.3Z" fill="#f07070" stroke="#e84850" stroke-width="0.5"/>
<path d="M359.9,82.3L363.7,82.3L361.8,85.3Z" fill="#f07070" stroke="#e84850" stroke-width="0.5"/>
<path d="M212.0,36.3L219.9,78.9L227.8,102.2L235.7,107.3L243.5,117.5L251.4,118.2L259.3,121.8L267.2,122.3L283.0,122.8L306.6,123.8L322.4,124.9L338.1,125.8L361.8,126.4" fill="none" stroke="#3a3a3a" stroke-width="0.9" stroke-linejoin="round"/>
<path d="M210.1,37.6L213.9,37.6L212.0,34.6Z" fill="#777777" stroke="#3a3a3a" stroke-width="0.5"/>
<path d="M218.0,80.2L221.8,80.2L219.9,77.2Z" fill="#777777" stroke="#3a3a3a" stroke-width="0.5"/>
<path d="M225.9,103.5L229.7,103.5L227.8,100.5Z" fill="#777777" stroke="#3a3a3a" stroke-width="0.5"/>
<path d="M233.8,108.6L237.6,108.6L235.7,105.6Z" fill="#777777" stroke="#3a3a3a" stroke-width="0.5"/>
<path d="M241.6,118.8L245.4,118.8L243.5,115.8Z" fill="#777777" stroke="#3a3a3a" stroke-width="0.5"/>
<path d="M249.5,119.5L253.3,119.5L251.4,116.5Z" fill="#777777" stroke="#3a3a3a" stroke-width="0.5"/>
<path d="M257.4,123.1L261.2,123.1L259.3,120.1Z" fill="#777777" stroke="#3a3a3a" stroke-width="0.5"/>
<path d="M265.3,123.6L269.1,123.6L267.2,120.6Z" fill="#777777" stroke="#3a3a3a" stroke-width="0.5"/>
<path d="M273.2,123.9L277.0,123.9L275.1,120.8Z" fill="#777777" stroke="#3a3a3a" stroke-width="0.5"/>
<path d="M281.1,124.1L284.9,124.1L283.0,121.1Z" fill="#777777" stroke="#3a3a3a" stroke-width="0.5"/>
<path d="M288.9,124.5L292.7,124.5L290.8,121.4Z" fill="#777777" stroke="#3a3a3a" stroke-width="0.5"/>
<path d="M296.8,124.8L300.6,124.8L298.7,121.8Z" fill="#777777" stroke="#3a3a3a" stroke-width="0.5"/>
<path d="M304.7,125.1L308.5,125.1L306.6,122.1Z" fill="#777777" stroke="#3a3a3a" stroke-width="0.5"/>
<path d="M312.6,125.7L316.4,125.7L314.5,122.6Z" fill="#777777" stroke="#3a3a3a" stroke-width="0.5"/>
<path d="M320.5,126.2L324.3,126.2L322.4,123.2Z" fill="#777777" stroke="#3a3a3a" stroke-width="0.5"/>
<path d="M328.4,126.7L332.2,126.7L330.3,123.6Z" fill="#777777" stroke="#3a3a3a" stroke-width="0.5"/>
<path d="M336.2,127.1L340.0,127.1L338.1,124.1Z" fill="#777777" stroke="#3a3a3a" stroke-width="0.5"/>
<path d="M344.1,127.3L347.9,127.3L346.0,124.3Z" fill="#777777" stroke="#3a3a3a" stroke-width="0.5"/>
<path d="M352.0,127.5L355.8,127.5L353.9,124.5Z" fill="#777777" stroke="#3a3a3a" stroke-width="0.5"/>
<path d="M359.9,127.7L363.7,127.7L361.8,124.7Z" fill="#777777" stroke="#3a3a3a" stroke-width="0.5"/>
<path d="M212.0,12.8L219.9,69.5L227.8,70.9L283.0,71.2L361.8,71.2" fill="none" stroke="#e02ee0" stroke-width="0.9" stroke-linejoin="round"/>
<circle cx="212.0" cy="12.8" r="1.4" fill="#e02ee0"/>
<circle cx="219.9" cy="69.5" r="1.4" fill="#e02ee0"/>
<circle cx="227.8" cy="70.9" r="1.4" fill="#e02ee0"/>
<circle cx="235.7" cy="70.9" r="1.4" fill="#e02ee0"/>
<circle cx="243.5" cy="71.0" r="1.4" fill="#e02ee0"/>
<circle cx="251.4" cy="71.0" r="1.4" fill="#e02ee0"/>
<circle cx="259.3" cy="71.1" r="1.4" fill="#e02ee0"/>
<circle cx="267.2" cy="71.1" r="1.4" fill="#e02ee0"/>
<circle cx="275.1" cy="71.2" r="1.4" fill="#e02ee0"/>
<circle cx="283.0" cy="71.2" r="1.4" fill="#e02ee0"/>
<circle cx="290.8" cy="71.2" r="1.4" fill="#e02ee0"/>
<circle cx="298.7" cy="71.2" r="1.4" fill="#e02ee0"/>
<circle cx="306.6" cy="71.2" r="1.4" fill="#e02ee0"/>
<circle cx="314.5" cy="71.2" r="1.4" fill="#e02ee0"/>
<circle cx="322.4" cy="71.2" r="1.4" fill="#e02ee0"/>
<circle cx="330.3" cy="71.2" r="1.4" fill="#e02ee0"/>
<circle cx="338.1" cy="71.2" r="1.4" fill="#e02ee0"/>
<circle cx="346.0" cy="71.2" r="1.4" fill="#e02ee0"/>
<circle cx="353.9" cy="71.2" r="1.4" fill="#e02ee0"/>
<circle cx="361.8" cy="71.2" r="1.4" fill="#e02ee0"/>
<path d="M212.0,31.9L219.9,110.2L227.8,125.7L235.7,127.6L243.5,129.1L251.4,129.5L259.3,129.8L361.8,130.5" fill="none" stroke="#3a3ae0" stroke-width="0.9" stroke-linejoin="round"/>
<path d="M210.3,31.9L213.3,30.0L213.3,33.8Z" fill="#7070f0" stroke="#3a3ae0" stroke-width="0.5"/>
<path d="M218.2,110.2L221.2,108.3L221.2,112.1Z" fill="#7070f0" stroke="#3a3ae0" stroke-width="0.5"/>
<path d="M226.1,125.7L229.1,123.8L229.1,127.6Z" fill="#7070f0" stroke="#3a3ae0" stroke-width="0.5"/>
<path d="M233.9,127.6L237.0,125.7L237.0,129.5Z" fill="#7070f0" stroke="#3a3ae0" stroke-width="0.5"/>
<path d="M241.8,129.1L244.9,127.2L244.9,131.0Z" fill="#7070f0" stroke="#3a3ae0" stroke-width="0.5"/>
<path d="M249.7,129.5L252.8,127.6L252.8,131.4Z" fill="#7070f0" stroke="#3a3ae0" stroke-width="0.5"/>
<path d="M257.6,129.8L260.6,127.9L260.6,131.7Z" fill="#7070f0" stroke="#3a3ae0" stroke-width="0.5"/>
<path d="M265.5,129.9L268.5,128.0L268.5,131.8Z" fill="#7070f0" stroke="#3a3ae0" stroke-width="0.5"/>
<path d="M273.4,129.9L276.4,128.0L276.4,131.8Z" fill="#7070f0" stroke="#3a3ae0" stroke-width="0.5"/>
<path d="M281.2,130.0L284.3,128.1L284.3,131.9Z" fill="#7070f0" stroke="#3a3ae0" stroke-width="0.5"/>
<path d="M289.1,130.0L292.2,128.1L292.2,131.9Z" fill="#7070f0" stroke="#3a3ae0" stroke-width="0.5"/>
<path d="M297.0,130.1L300.1,128.2L300.1,132.0Z" fill="#7070f0" stroke="#3a3ae0" stroke-width="0.5"/>
<path d="M304.9,130.1L307.9,128.2L307.9,132.0Z" fill="#7070f0" stroke="#3a3ae0" stroke-width="0.5"/>
<path d="M312.8,130.2L315.8,128.3L315.8,132.1Z" fill="#7070f0" stroke="#3a3ae0" stroke-width="0.5"/>
<path d="M320.7,130.2L323.7,128.3L323.7,132.1Z" fill="#7070f0" stroke="#3a3ae0" stroke-width="0.5"/>
<path d="M328.6,130.3L331.6,128.4L331.6,132.2Z" fill="#7070f0" stroke="#3a3ae0" stroke-width="0.5"/>
<path d="M336.4,130.3L339.5,128.4L339.5,132.2Z" fill="#7070f0" stroke="#3a3ae0" stroke-width="0.5"/>
<path d="M344.3,130.4L347.4,128.5L347.4,132.3Z" fill="#7070f0" stroke="#3a3ae0" stroke-width="0.5"/>
<path d="M352.2,130.4L355.2,128.5L355.2,132.3Z" fill="#7070f0" stroke="#3a3ae0" stroke-width="0.5"/>
<path d="M360.1,130.5L363.1,128.6L363.1,132.4Z" fill="#7070f0" stroke="#3a3ae0" stroke-width="0.5"/>
<path d="M212.0,42.1L219.9,69.5L227.8,71.6L235.7,73.8L243.5,74.3L251.4,74.5L259.3,75.0L267.2,75.3L275.1,76.0L283.0,77.2L330.3,77.5L338.1,79.0L361.8,79.3" fill="none" stroke="#28e0e0" stroke-width="0.9" stroke-linejoin="round"/>
<circle cx="212.0" cy="42.1" r="1.2" fill="#28e0e0"/><path d="M210.5,42.1H213.5M212.0,40.6V43.6" stroke="#28e0e0" stroke-width="0.5"/>
<circle cx="219.9" cy="69.5" r="1.2" fill="#28e0e0"/><path d="M218.4,69.5H221.4M219.9,68.0V71.0" stroke="#28e0e0" stroke-width="0.5"/>
<circle cx="227.8" cy="71.6" r="1.2" fill="#28e0e0"/><path d="M226.3,71.6H229.3M227.8,70.1V73.1" stroke="#28e0e0" stroke-width="0.5"/>
<circle cx="235.7" cy="73.8" r="1.2" fill="#28e0e0"/><path d="M234.2,73.8H237.2M235.7,72.3V75.3" stroke="#28e0e0" stroke-width="0.5"/>
<circle cx="243.5" cy="74.3" r="1.2" fill="#28e0e0"/><path d="M242.0,74.3H245.0M243.5,72.8V75.8" stroke="#28e0e0" stroke-width="0.5"/>
<circle cx="251.4" cy="74.5" r="1.2" fill="#28e0e0"/><path d="M249.9,74.5H252.9M251.4,73.0V76.0" stroke="#28e0e0" stroke-width="0.5"/>
<circle cx="259.3" cy="75.0" r="1.2" fill="#28e0e0"/><path d="M257.8,75.0H260.8M259.3,73.5V76.5" stroke="#28e0e0" stroke-width="0.5"/>
<circle cx="267.2" cy="75.3" r="1.2" fill="#28e0e0"/><path d="M265.7,75.3H268.7M267.2,73.8V76.8" stroke="#28e0e0" stroke-width="0.5"/>
<circle cx="275.1" cy="76.0" r="1.2" fill="#28e0e0"/><path d="M273.6,76.0H276.6M275.1,74.5V77.5" stroke="#28e0e0" stroke-width="0.5"/>
<circle cx="283.0" cy="77.2" r="1.2" fill="#28e0e0"/><path d="M281.5,77.2H284.5M283.0,75.7V78.7" stroke="#28e0e0" stroke-width="0.5"/>
<circle cx="290.8" cy="77.2" r="1.2" fill="#28e0e0"/><path d="M289.3,77.2H292.3M290.8,75.8V78.8" stroke="#28e0e0" stroke-width="0.5"/>
<circle cx="298.7" cy="77.3" r="1.2" fill="#28e0e0"/><path d="M297.2,77.3H300.2M298.7,75.8V78.8" stroke="#28e0e0" stroke-width="0.5"/>
<circle cx="306.6" cy="77.3" r="1.2" fill="#28e0e0"/><path d="M305.1,77.3H308.1M306.6,75.8V78.8" stroke="#28e0e0" stroke-width="0.5"/>
<circle cx="314.5" cy="77.4" r="1.2" fill="#28e0e0"/><path d="M313.0,77.4H316.0M314.5,75.9V78.9" stroke="#28e0e0" stroke-width="0.5"/>
<circle cx="322.4" cy="77.5" r="1.2" fill="#28e0e0"/><path d="M320.9,77.5H323.9M322.4,76.0V79.0" stroke="#28e0e0" stroke-width="0.5"/>
<circle cx="330.3" cy="77.5" r="1.2" fill="#28e0e0"/><path d="M328.8,77.5H331.8M330.3,76.0V79.0" stroke="#28e0e0" stroke-width="0.5"/>
<circle cx="338.1" cy="79.0" r="1.2" fill="#28e0e0"/><path d="M336.6,79.0H339.6M338.1,77.5V80.5" stroke="#28e0e0" stroke-width="0.5"/>
<circle cx="346.0" cy="79.1" r="1.2" fill="#28e0e0"/><path d="M344.5,79.1H347.5M346.0,77.6V80.6" stroke="#28e0e0" stroke-width="0.5"/>
<circle cx="353.9" cy="79.2" r="1.2" fill="#28e0e0"/><path d="M352.4,79.2H355.4M353.9,77.7V80.7" stroke="#28e0e0" stroke-width="0.5"/>
<circle cx="361.8" cy="79.3" r="1.2" fill="#28e0e0"/><path d="M360.3,79.3H363.3M361.8,77.8V80.8" stroke="#28e0e0" stroke-width="0.5"/>
<path d="M212.0,35.5L219.9,38.2L227.8,39.0L235.7,39.2L243.5,38.6L251.4,47.5L259.3,56.9L267.2,62.5L275.1,76.3L283.0,83.0L322.4,82.8L330.3,89.8L361.8,90.2" fill="none" stroke="#d9a030" stroke-width="0.9" stroke-linejoin="round"/>
<path d="M210.1,35.5L212.0,33.6L213.9,35.5L212.0,37.4Z" fill="#e0b050" stroke="#d9a030" stroke-width="0.5"/>
<path d="M218.0,38.2L219.9,36.3L221.8,38.2L219.9,40.1Z" fill="#e0b050" stroke="#d9a030" stroke-width="0.5"/>
<path d="M225.9,39.0L227.8,37.1L229.7,39.0L227.8,40.9Z" fill="#e0b050" stroke="#d9a030" stroke-width="0.5"/>
<path d="M233.8,39.2L235.7,37.3L237.6,39.2L235.7,41.1Z" fill="#e0b050" stroke="#d9a030" stroke-width="0.5"/>
<path d="M241.6,38.6L243.5,36.7L245.4,38.6L243.5,40.5Z" fill="#e0b050" stroke="#d9a030" stroke-width="0.5"/>
<path d="M249.5,47.5L251.4,45.6L253.3,47.5L251.4,49.4Z" fill="#e0b050" stroke="#d9a030" stroke-width="0.5"/>
<path d="M257.4,56.9L259.3,55.0L261.2,56.9L259.3,58.8Z" fill="#e0b050" stroke="#d9a030" stroke-width="0.5"/>
<path d="M265.3,62.5L267.2,60.6L269.1,62.5L267.2,64.4Z" fill="#e0b050" stroke="#d9a030" stroke-width="0.5"/>
<path d="M273.2,76.3L275.1,74.4L277.0,76.3L275.1,78.2Z" fill="#e0b050" stroke="#d9a030" stroke-width="0.5"/>
<path d="M281.1,83.0L283.0,81.1L284.9,83.0L283.0,84.9Z" fill="#e0b050" stroke="#d9a030" stroke-width="0.5"/>
<path d="M288.9,83.0L290.8,81.1L292.7,83.0L290.8,84.9Z" fill="#e0b050" stroke="#d9a030" stroke-width="0.5"/>
<path d="M296.8,82.9L298.7,81.0L300.6,82.9L298.7,84.8Z" fill="#e0b050" stroke="#d9a030" stroke-width="0.5"/>
<path d="M304.7,82.9L306.6,81.0L308.5,82.9L306.6,84.8Z" fill="#e0b050" stroke="#d9a030" stroke-width="0.5"/>
<path d="M312.6,82.8L314.5,80.9L316.4,82.8L314.5,84.7Z" fill="#e0b050" stroke="#d9a030" stroke-width="0.5"/>
<path d="M320.5,82.8L322.4,80.9L324.3,82.8L322.4,84.7Z" fill="#e0b050" stroke="#d9a030" stroke-width="0.5"/>
<path d="M328.4,89.8L330.3,87.9L332.2,89.8L330.3,91.7Z" fill="#e0b050" stroke="#d9a030" stroke-width="0.5"/>
<path d="M336.2,89.9L338.1,88.0L340.0,89.9L338.1,91.8Z" fill="#e0b050" stroke="#d9a030" stroke-width="0.5"/>
<path d="M344.1,90.0L346.0,88.1L347.9,90.0L346.0,91.9Z" fill="#e0b050" stroke="#d9a030" stroke-width="0.5"/>
<path d="M352.0,90.1L353.9,88.2L355.8,90.1L353.9,92.0Z" fill="#e0b050" stroke="#d9a030" stroke-width="0.5"/>
<path d="M359.9,90.2L361.8,88.3L363.7,90.2L361.8,92.1Z" fill="#e0b050" stroke="#d9a030" stroke-width="0.5"/>
</g>
<text x="286.4" y="10.6" class="tt" text-anchor="middle">F20</text>
<rect x="318.5" y="17.2" width="38.5" height="42.3" fill="#fff" stroke="#9a9a9a" stroke-width="0.5"/>
<line x1="320.0" x2="334.7" y1="21.2" y2="21.2" stroke="#45d845" stroke-width="0.9"/>
<circle cx="327.3" cy="21.2" r="1.7" fill="#7ee87e" stroke="#45d845" stroke-width="0.6"/>
<text x="335.9" y="22.9" class="lg">M1SCSO</text>
<line x1="320.0" x2="334.7" y1="27.1" y2="27.1" stroke="#e84850" stroke-width="0.9"/>
<path d="M325.4,25.7L329.2,25.7L327.3,28.8Z" fill="#f07070" stroke="#e84850" stroke-width="0.5"/>
<text x="335.9" y="28.8" class="lg">SCSO</text>
<line x1="320.0" x2="334.7" y1="32.9" y2="32.9" stroke="#3a3a3a" stroke-width="0.9"/>
<path d="M325.4,34.3L329.2,34.3L327.3,31.2Z" fill="#777777" stroke="#3a3a3a" stroke-width="0.5"/>
<text x="335.9" y="34.6" class="lg">SMOA</text>
<line x1="320.0" x2="334.7" y1="38.8" y2="38.8" stroke="#e02ee0" stroke-width="0.9"/>
<circle cx="327.3" cy="38.8" r="1.4" fill="#e02ee0"/>
<text x="335.9" y="40.5" class="lg">WOA</text>
<line x1="320.0" x2="334.7" y1="44.7" y2="44.7" stroke="#3a3ae0" stroke-width="0.9"/>
<path d="M325.6,44.7L328.7,42.8L328.7,46.6Z" fill="#7070f0" stroke="#3a3ae0" stroke-width="0.5"/>
<text x="335.9" y="46.4" class="lg">BWO</text>
<line x1="320.0" x2="334.7" y1="50.6" y2="50.6" stroke="#28e0e0" stroke-width="0.9"/>
<circle cx="327.3" cy="50.6" r="1.2" fill="#28e0e0"/><path d="M325.8,50.6H328.8M327.3,49.1V52.1" stroke="#28e0e0" stroke-width="0.5"/>
<text x="335.9" y="52.3" class="lg">ACO</text>
<line x1="320.0" x2="334.7" y1="56.4" y2="56.4" stroke="#d9a030" stroke-width="0.9"/>
<path d="M325.4,56.4L327.3,54.5L329.2,56.4L327.3,58.3Z" fill="#e0b050" stroke="#d9a030" stroke-width="0.5"/>
<text x="335.9" y="58.1" class="lg">RSA</text>
<text transform="translate(194.0,70.9) scale(1.08,1) rotate(-90)" class="yl" text-anchor="middle">Mean of objective function values</text>
<text x="287.4" y="146.4" class="xl" text-anchor="middle">Iteration</text>
<text x="355" y="146" class="tag" text-anchor="middle">(b)</text>
<line x1="390.8" x2="537.2" y1="126.3" y2="126.3" stroke="#f1f1f1" stroke-width="0.5"/>
<line x1="390.8" x2="537.2" y1="122.9" y2="122.9" stroke="#f1f1f1" stroke-width="0.5"/>
<line x1="390.8" x2="537.2" y1="119.5" y2="119.5" stroke="#f1f1f1" stroke-width="0.5"/>
<line x1="390.8" x2="537.2" y1="116.2" y2="116.2" stroke="#f1f1f1" stroke-width="0.5"/>
<line x1="390.8" x2="537.2" y1="112.9" y2="112.9" stroke="#f1f1f1" stroke-width="0.5"/>
<line x1="390.8" x2="537.2" y1="109.7" y2="109.7" stroke="#f1f1f1" stroke-width="0.5"/>
<line x1="390.8" x2="537.2" y1="106.5" y2="106.5" stroke="#f1f1f1" stroke-width="0.5"/>
<line x1="390.8" x2="537.2" y1="103.4" y2="103.4" stroke="#f1f1f1" stroke-width="0.5"/>
<line x1="390.8" x2="537.2" y1="100.3" y2="100.3" stroke="#f1f1f1" stroke-width="0.5"/>
<line x1="390.8" x2="537.2" y1="97.3" y2="97.3" stroke="#f1f1f1" stroke-width="0.5"/>
<line x1="390.8" x2="537.2" y1="94.3" y2="94.3" stroke="#f1f1f1" stroke-width="0.5"/>
<line x1="390.8" x2="537.2" y1="91.3" y2="91.3" stroke="#f1f1f1" stroke-width="0.5"/>
<line x1="390.8" x2="537.2" y1="88.4" y2="88.4" stroke="#f1f1f1" stroke-width="0.5"/>
<line x1="390.8" x2="537.2" y1="85.6" y2="85.6" stroke="#f1f1f1" stroke-width="0.5"/>
<line x1="390.8" x2="537.2" y1="82.7" y2="82.7" stroke="#f1f1f1" stroke-width="0.5"/>
<line x1="390.8" x2="537.2" y1="80.0" y2="80.0" stroke="#f1f1f1" stroke-width="0.5"/>
<line x1="390.8" x2="537.2" y1="77.2" y2="77.2" stroke="#f1f1f1" stroke-width="0.5"/>
<line x1="390.8" x2="537.2" y1="74.5" y2="74.5" stroke="#f1f1f1" stroke-width="0.5"/>
<line x1="390.8" x2="537.2" y1="71.8" y2="71.8" stroke="#f1f1f1" stroke-width="0.5"/>
<line x1="390.8" x2="537.2" y1="69.2" y2="69.2" stroke="#f1f1f1" stroke-width="0.5"/>
<line x1="390.8" x2="537.2" y1="66.6" y2="66.6" stroke="#f1f1f1" stroke-width="0.5"/>
<line x1="390.8" x2="537.2" y1="64.0" y2="64.0" stroke="#f1f1f1" stroke-width="0.5"/>
<line x1="390.8" x2="537.2" y1="61.5" y2="61.5" stroke="#f1f1f1" stroke-width="0.5"/>
<line x1="390.8" x2="537.2" y1="59.0" y2="59.0" stroke="#f1f1f1" stroke-width="0.5"/>
<line x1="390.8" x2="537.2" y1="56.5" y2="56.5" stroke="#f1f1f1" stroke-width="0.5"/>
<line x1="390.8" x2="537.2" y1="54.0" y2="54.0" stroke="#f1f1f1" stroke-width="0.5"/>
<line x1="390.8" x2="537.2" y1="51.6" y2="51.6" stroke="#f1f1f1" stroke-width="0.5"/>
<line x1="390.8" x2="537.2" y1="49.2" y2="49.2" stroke="#f1f1f1" stroke-width="0.5"/>
<line x1="390.8" x2="537.2" y1="46.9" y2="46.9" stroke="#f1f1f1" stroke-width="0.5"/>
<line x1="390.8" x2="537.2" y1="44.5" y2="44.5" stroke="#f1f1f1" stroke-width="0.5"/>
<line x1="390.8" x2="537.2" y1="42.2" y2="42.2" stroke="#f1f1f1" stroke-width="0.5"/>
<line x1="390.8" x2="537.2" y1="39.9" y2="39.9" stroke="#f1f1f1" stroke-width="0.5"/>
<line x1="390.8" x2="537.2" y1="37.7" y2="37.7" stroke="#f1f1f1" stroke-width="0.5"/>
<line x1="390.8" x2="537.2" y1="35.5" y2="35.5" stroke="#f1f1f1" stroke-width="0.5"/>
<line x1="390.8" x2="537.2" y1="33.2" y2="33.2" stroke="#f1f1f1" stroke-width="0.5"/>
<line x1="390.8" x2="537.2" y1="31.1" y2="31.1" stroke="#f1f1f1" stroke-width="0.5"/>
<line x1="390.8" x2="537.2" y1="28.9" y2="28.9" stroke="#f1f1f1" stroke-width="0.5"/>
<line x1="390.8" x2="537.2" y1="26.8" y2="26.8" stroke="#f1f1f1" stroke-width="0.5"/>
<line x1="390.8" x2="537.2" y1="24.6" y2="24.6" stroke="#f1f1f1" stroke-width="0.5"/>
<line x1="390.8" x2="537.2" y1="22.5" y2="22.5" stroke="#f1f1f1" stroke-width="0.5"/>
<line x1="390.8" x2="537.2" y1="20.5" y2="20.5" stroke="#f1f1f1" stroke-width="0.5"/>
<line x1="390.8" x2="537.2" y1="18.4" y2="18.4" stroke="#f1f1f1" stroke-width="0.5"/>
<line x1="390.8" x2="537.2" y1="16.4" y2="16.4" stroke="#f1f1f1" stroke-width="0.5"/>
<line x1="390.8" x2="537.2" y1="14.4" y2="14.4" stroke="#f1f1f1" stroke-width="0.5"/>
<line x1="390.8" x2="537.2" y1="121.2" y2="121.2" stroke="#e6e6e6" stroke-width="0.5"/>
<line x1="390.8" x2="537.2" y1="104.9" y2="104.9" stroke="#e6e6e6" stroke-width="0.5"/>
<line x1="390.8" x2="537.2" y1="89.9" y2="89.9" stroke="#e6e6e6" stroke-width="0.5"/>
<line x1="390.8" x2="537.2" y1="75.9" y2="75.9" stroke="#e6e6e6" stroke-width="0.5"/>
<line x1="390.8" x2="537.2" y1="62.7" y2="62.7" stroke="#e6e6e6" stroke-width="0.5"/>
<line x1="390.8" x2="537.2" y1="50.4" y2="50.4" stroke="#e6e6e6" stroke-width="0.5"/>
<line x1="390.8" x2="537.2" y1="38.8" y2="38.8" stroke="#e6e6e6" stroke-width="0.5"/>
<line x1="390.8" x2="537.2" y1="27.8" y2="27.8" stroke="#e6e6e6" stroke-width="0.5"/>
<line x1="390.8" x2="537.2" y1="17.4" y2="17.4" stroke="#e6e6e6" stroke-width="0.5"/>
<line x1="410.3" x2="410.3" y1="13.7" y2="129.8" stroke="#e6e6e6" stroke-width="0.5"/>
<line x1="429.8" x2="429.8" y1="13.7" y2="129.8" stroke="#e6e6e6" stroke-width="0.5"/>
<line x1="449.4" x2="449.4" y1="13.7" y2="129.8" stroke="#e6e6e6" stroke-width="0.5"/>
<line x1="468.9" x2="468.9" y1="13.7" y2="129.8" stroke="#e6e6e6" stroke-width="0.5"/>
<line x1="488.4" x2="488.4" y1="13.7" y2="129.8" stroke="#e6e6e6" stroke-width="0.5"/>
<line x1="507.9" x2="507.9" y1="13.7" y2="129.8" stroke="#e6e6e6" stroke-width="0.5"/>
<line x1="527.4" x2="527.4" y1="13.7" y2="129.8" stroke="#e6e6e6" stroke-width="0.5"/>
<rect x="390.8" y="13.7" width="146.40000000000003" height="116.10000000000001" fill="none" stroke="#707070" stroke-width="0.7"/>
<line x1="390.8" x2="392.3" y1="121.2" y2="121.2" stroke="#777" stroke-width="0.5"/>
<line x1="535.7" x2="537.2" y1="121.2" y2="121.2" stroke="#777" stroke-width="0.5"/>
<text x="388.6" y="122.8" class="tk" text-anchor="end">2400</text>
<line x1="390.8" x2="392.3" y1="104.9" y2="104.9" stroke="#777" stroke-width="0.5"/>
<line x1="535.7" x2="537.2" y1="104.9" y2="104.9" stroke="#777" stroke-width="0.5"/>
<text x="388.6" y="106.5" class="tk" text-anchor="end">2600</text>
<line x1="390.8" x2="392.3" y1="89.9" y2="89.9" stroke="#777" stroke-width="0.5"/>
<line x1="535.7" x2="537.2" y1="89.9" y2="89.9" stroke="#777" stroke-width="0.5"/>
<text x="388.6" y="91.5" class="tk" text-anchor="end">2800</text>
<line x1="390.8" x2="392.3" y1="75.9" y2="75.9" stroke="#777" stroke-width="0.5"/>
<line x1="535.7" x2="537.2" y1="75.9" y2="75.9" stroke="#777" stroke-width="0.5"/>
<text x="388.6" y="77.5" class="tk" text-anchor="end">3000</text>
<line x1="390.8" x2="392.3" y1="62.7" y2="62.7" stroke="#777" stroke-width="0.5"/>
<line x1="535.7" x2="537.2" y1="62.7" y2="62.7" stroke="#777" stroke-width="0.5"/>
<text x="388.6" y="64.3" class="tk" text-anchor="end">3200</text>
<line x1="390.8" x2="392.3" y1="50.4" y2="50.4" stroke="#777" stroke-width="0.5"/>
<line x1="535.7" x2="537.2" y1="50.4" y2="50.4" stroke="#777" stroke-width="0.5"/>
<text x="388.6" y="52.0" class="tk" text-anchor="end">3400</text>
<line x1="390.8" x2="392.3" y1="38.8" y2="38.8" stroke="#777" stroke-width="0.5"/>
<line x1="535.7" x2="537.2" y1="38.8" y2="38.8" stroke="#777" stroke-width="0.5"/>
<text x="388.6" y="40.4" class="tk" text-anchor="end">3600</text>
<line x1="390.8" x2="392.3" y1="27.8" y2="27.8" stroke="#777" stroke-width="0.5"/>
<line x1="535.7" x2="537.2" y1="27.8" y2="27.8" stroke="#777" stroke-width="0.5"/>
<text x="388.6" y="29.4" class="tk" text-anchor="end">3800</text>
<line x1="390.8" x2="392.3" y1="17.4" y2="17.4" stroke="#777" stroke-width="0.5"/>
<line x1="535.7" x2="537.2" y1="17.4" y2="17.4" stroke="#777" stroke-width="0.5"/>
<text x="388.6" y="19.0" class="tk" text-anchor="end">4000</text>
<text x="390.8" y="136.0" class="tk" text-anchor="middle">0</text>
<line x1="410.3" x2="410.3" y1="128.3" y2="129.8" stroke="#777" stroke-width="0.5"/>
<line x1="410.3" x2="410.3" y1="13.7" y2="15.2" stroke="#777" stroke-width="0.5"/>
<text x="410.3" y="136.0" class="tk" text-anchor="middle">200</text>
<line x1="429.8" x2="429.8" y1="128.3" y2="129.8" stroke="#777" stroke-width="0.5"/>
<line x1="429.8" x2="429.8" y1="13.7" y2="15.2" stroke="#777" stroke-width="0.5"/>
<text x="429.8" y="136.0" class="tk" text-anchor="middle">400</text>
<line x1="449.4" x2="449.4" y1="128.3" y2="129.8" stroke="#777" stroke-width="0.5"/>
<line x1="449.4" x2="449.4" y1="13.7" y2="15.2" stroke="#777" stroke-width="0.5"/>
<text x="449.4" y="136.0" class="tk" text-anchor="middle">600</text>
<line x1="468.9" x2="468.9" y1="128.3" y2="129.8" stroke="#777" stroke-width="0.5"/>
<line x1="468.9" x2="468.9" y1="13.7" y2="15.2" stroke="#777" stroke-width="0.5"/>
<text x="468.9" y="136.0" class="tk" text-anchor="middle">800</text>
<line x1="488.4" x2="488.4" y1="128.3" y2="129.8" stroke="#777" stroke-width="0.5"/>
<line x1="488.4" x2="488.4" y1="13.7" y2="15.2" stroke="#777" stroke-width="0.5"/>
<text x="488.4" y="136.0" class="tk" text-anchor="middle">1000</text>
<line x1="507.9" x2="507.9" y1="128.3" y2="129.8" stroke="#777" stroke-width="0.5"/>
<line x1="507.9" x2="507.9" y1="13.7" y2="15.2" stroke="#777" stroke-width="0.5"/>
<text x="507.9" y="136.0" class="tk" text-anchor="middle">1200</text>
<line x1="527.4" x2="527.4" y1="128.3" y2="129.8" stroke="#777" stroke-width="0.5"/>
<line x1="527.4" x2="527.4" y1="13.7" y2="15.2" stroke="#777" stroke-width="0.5"/>
<text x="527.4" y="136.0" class="tk" text-anchor="middle">1400</text>
<clipPath id="clipc"><rect x="387.8" y="10.7" width="152.40000000000003" height="122.10000000000001"/></clipPath>
<g clip-path="url(#clipc)">
<path d="M390.8,56.6L398.5,128.3L406.2,128.7L537.2,128.8" fill="none" stroke="#45d845" stroke-width="0.9" stroke-linejoin="round"/>
<circle cx="390.8" cy="56.6" r="1.7" fill="#7ee87e" stroke="#45d845" stroke-width="0.6"/>
<circle cx="398.5" cy="128.3" r="1.7" fill="#7ee87e" stroke="#45d845" stroke-width="0.6"/>
<circle cx="406.2" cy="128.7" r="1.7" fill="#7ee87e" stroke="#45d845" stroke-width="0.6"/>
<circle cx="413.9" cy="128.7" r="1.7" fill="#7ee87e" stroke="#45d845" stroke-width="0.6"/>
<circle cx="421.6" cy="128.7" r="1.7" fill="#7ee87e" stroke="#45d845" stroke-width="0.6"/>
<circle cx="429.3" cy="128.7" r="1.7" fill="#7ee87e" stroke="#45d845" stroke-width="0.6"/>
<circle cx="437.0" cy="128.7" r="1.7" fill="#7ee87e" stroke="#45d845" stroke-width="0.6"/>
<circle cx="444.7" cy="128.7" r="1.7" fill="#7ee87e" stroke="#45d845" stroke-width="0.6"/>
<circle cx="452.4" cy="128.7" r="1.7" fill="#7ee87e" stroke="#45d845" stroke-width="0.6"/>
<circle cx="460.1" cy="128.7" r="1.7" fill="#7ee87e" stroke="#45d845" stroke-width="0.6"/>
<circle cx="467.9" cy="128.7" r="1.7" fill="#7ee87e" stroke="#45d845" stroke-width="0.6"/>
<circle cx="475.6" cy="128.8" r="1.7" fill="#7ee87e" stroke="#45d845" stroke-width="0.6"/>
<circle cx="483.3" cy="128.8" r="1.7" fill="#7ee87e" stroke="#45d845" stroke-width="0.6"/>
<circle cx="491.0" cy="128.8" r="1.7" fill="#7ee87e" stroke="#45d845" stroke-width="0.6"/>
<circle cx="498.7" cy="128.8" r="1.7" fill="#7ee87e" stroke="#45d845" stroke-width="0.6"/>
<circle cx="506.4" cy="128.8" r="1.7" fill="#7ee87e" stroke="#45d845" stroke-width="0.6"/>
<circle cx="514.1" cy="128.8" r="1.7" fill="#7ee87e" stroke="#45d845" stroke-width="0.6"/>
<circle cx="521.8" cy="128.8" r="1.7" fill="#7ee87e" stroke="#45d845" stroke-width="0.6"/>
<circle cx="529.5" cy="128.8" r="1.7" fill="#7ee87e" stroke="#45d845" stroke-width="0.6"/>
<path d="M390.8,38.0L398.5,127.5L406.2,128.3L537.2,128.5" fill="none" stroke="#e84850" stroke-width="0.9" stroke-linejoin="round"/>
<path d="M388.9,36.7L392.7,36.7L390.8,39.7Z" fill="#f07070" stroke="#e84850" stroke-width="0.5"/>
<path d="M396.6,126.2L400.4,126.2L398.5,129.2Z" fill="#f07070" stroke="#e84850" stroke-width="0.5"/>
<path d="M404.3,127.0L408.1,127.0L406.2,130.0Z" fill="#f07070" stroke="#e84850" stroke-width="0.5"/>
<path d="M412.0,127.0L415.8,127.0L413.9,130.0Z" fill="#f07070" stroke="#e84850" stroke-width="0.5"/>
<path d="M419.7,127.0L423.5,127.0L421.6,130.0Z" fill="#f07070" stroke="#e84850" stroke-width="0.5"/>
<path d="M427.4,127.0L431.2,127.0L429.3,130.0Z" fill="#f07070" stroke="#e84850" stroke-width="0.5"/>
<path d="M435.1,127.0L438.9,127.0L437.0,130.1Z" fill="#f07070" stroke="#e84850" stroke-width="0.5"/>
<path d="M442.8,127.0L446.6,127.0L444.7,130.1Z" fill="#f07070" stroke="#e84850" stroke-width="0.5"/>
<path d="M450.5,127.0L454.3,127.0L452.4,130.1Z" fill="#f07070" stroke="#e84850" stroke-width="0.5"/>
<path d="M458.2,127.1L462.0,127.1L460.1,130.1Z" fill="#f07070" stroke="#e84850" stroke-width="0.5"/>
<path d="M466.0,127.1L469.8,127.1L467.9,130.1Z" fill="#f07070" stroke="#e84850" stroke-width="0.5"/>
<path d="M473.7,127.1L477.5,127.1L475.6,130.1Z" fill="#f07070" stroke="#e84850" stroke-width="0.5"/>
<path d="M481.4,127.1L485.2,127.1L483.3,130.1Z" fill="#f07070" stroke="#e84850" stroke-width="0.5"/>
<path d="M489.1,127.1L492.9,127.1L491.0,130.1Z" fill="#f07070" stroke="#e84850" stroke-width="0.5"/>
<path d="M496.8,127.1L500.6,127.1L498.7,130.2Z" fill="#f07070" stroke="#e84850" stroke-width="0.5"/>
<path d="M504.5,127.1L508.3,127.1L506.4,130.2Z" fill="#f07070" stroke="#e84850" stroke-width="0.5"/>
<path d="M512.2,127.1L516.0,127.1L514.1,130.2Z" fill="#f07070" stroke="#e84850" stroke-width="0.5"/>
<path d="M519.9,127.1L523.7,127.1L521.8,130.2Z" fill="#f07070" stroke="#e84850" stroke-width="0.5"/>
<path d="M527.6,127.2L531.4,127.2L529.5,130.2Z" fill="#f07070" stroke="#e84850" stroke-width="0.5"/>
<path d="M390.8,22.5L398.5,127.5L406.2,128.3L537.2,128.5" fill="none" stroke="#3a3a3a" stroke-width="0.9" stroke-linejoin="round"/>
<path d="M388.9,23.8L392.7,23.8L390.8,20.8Z" fill="#777777" stroke="#3a3a3a" stroke-width="0.5"/>
<path d="M396.6,128.8L400.4,128.8L398.5,125.8Z" fill="#777777" stroke="#3a3a3a" stroke-width="0.5"/>
<path d="M404.3,129.6L408.1,129.6L406.2,126.6Z" fill="#777777" stroke="#3a3a3a" stroke-width="0.5"/>
<path d="M412.0,129.6L415.8,129.6L413.9,126.6Z" fill="#777777" stroke="#3a3a3a" stroke-width="0.5"/>
<path d="M419.7,129.7L423.5,129.7L421.6,126.6Z" fill="#777777" stroke="#3a3a3a" stroke-width="0.5"/>
<path d="M427.4,129.7L431.2,129.7L429.3,126.6Z" fill="#777777" stroke="#3a3a3a" stroke-width="0.5"/>
<path d="M435.1,129.7L438.9,129.7L437.0,126.6Z" fill="#777777" stroke="#3a3a3a" stroke-width="0.5"/>
<path d="M442.8,129.7L446.6,129.7L444.7,126.6Z" fill="#777777" stroke="#3a3a3a" stroke-width="0.5"/>
<path d="M450.5,129.7L454.3,129.7L452.4,126.7Z" fill="#777777" stroke="#3a3a3a" stroke-width="0.5"/>
<path d="M458.2,129.7L462.0,129.7L460.1,126.7Z" fill="#777777" stroke="#3a3a3a" stroke-width="0.5"/>
<path d="M466.0,129.7L469.8,129.7L467.9,126.7Z" fill="#777777" stroke="#3a3a3a" stroke-width="0.5"/>
<path d="M473.7,129.7L477.5,129.7L475.6,126.7Z" fill="#777777" stroke="#3a3a3a" stroke-width="0.5"/>
<path d="M481.4,129.7L485.2,129.7L483.3,126.7Z" fill="#777777" stroke="#3a3a3a" stroke-width="0.5"/>
<path d="M489.1,129.8L492.9,129.8L491.0,126.7Z" fill="#777777" stroke="#3a3a3a" stroke-width="0.5"/>
<path d="M496.8,129.8L500.6,129.8L498.7,126.7Z" fill="#777777" stroke="#3a3a3a" stroke-width="0.5"/>
<path d="M504.5,129.8L508.3,129.8L506.4,126.7Z" fill="#777777" stroke="#3a3a3a" stroke-width="0.5"/>
<path d="M512.2,129.8L516.0,129.8L514.1,126.8Z" fill="#777777" stroke="#3a3a3a" stroke-width="0.5"/>
<path d="M519.9,129.8L523.7,129.8L521.8,126.8Z" fill="#777777" stroke="#3a3a3a" stroke-width="0.5"/>
<path d="M527.6,129.8L531.4,129.8L529.5,126.8Z" fill="#777777" stroke="#3a3a3a" stroke-width="0.5"/>
<path d="M390.8,13.7L398.5,127.2L406.2,128.3L537.2,128.5" fill="none" stroke="#e02ee0" stroke-width="0.9" stroke-linejoin="round"/>
<circle cx="390.8" cy="13.7" r="1.4" fill="#e02ee0"/>
<circle cx="398.5" cy="127.2" r="1.4" fill="#e02ee0"/>
<circle cx="406.2" cy="128.3" r="1.4" fill="#e02ee0"/>
<circle cx="413.9" cy="128.3" r="1.4" fill="#e02ee0"/>
<circle cx="421.6" cy="128.3" r="1.4" fill="#e02ee0"/>
<circle cx="429.3" cy="128.3" r="1.4" fill="#e02ee0"/>
<circle cx="437.0" cy="128.3" r="1.4" fill="#e02ee0"/>
<circle cx="444.7" cy="128.4" r="1.4" fill="#e02ee0"/>
<circle cx="452.4" cy="128.4" r="1.4" fill="#e02ee0"/>
<circle cx="460.1" cy="128.4" r="1.4" fill="#e02ee0"/>
<circle cx="467.9" cy="128.4" r="1.4" fill="#e02ee0"/>
<circle cx="475.6" cy="128.4" r="1.4" fill="#e02ee0"/>
<circle cx="483.3" cy="128.4" r="1.4" fill="#e02ee0"/>
<circle cx="491.0" cy="128.4" r="1.4" fill="#e02ee0"/>
<circle cx="498.7" cy="128.4" r="1.4" fill="#e02ee0"/>
<circle cx="506.4" cy="128.5" r="1.4" fill="#e02ee0"/>
<circle cx="514.1" cy="128.5" r="1.4" fill="#e02ee0"/>
<circle cx="521.8" cy="128.5" r="1.4" fill="#e02ee0"/>
<circle cx="529.5" cy="128.5" r="1.4" fill="#e02ee0"/>
<path d="M390.8,40.6L398.5,123.6L406.2,127.2L537.2,128.3" fill="none" stroke="#3a3ae0" stroke-width="0.9" stroke-linejoin="round"/>
<path d="M389.1,40.6L392.1,38.7L392.1,42.5Z" fill="#7070f0" stroke="#3a3ae0" stroke-width="0.5"/>
<path d="M396.8,123.6L399.8,121.7L399.8,125.5Z" fill="#7070f0" stroke="#3a3ae0" stroke-width="0.5"/>
<path d="M404.5,127.2L407.5,125.3L407.5,129.1Z" fill="#7070f0" stroke="#3a3ae0" stroke-width="0.5"/>
<path d="M412.2,127.3L415.2,125.4L415.2,129.2Z" fill="#7070f0" stroke="#3a3ae0" stroke-width="0.5"/>
<path d="M419.9,127.3L423.0,125.4L423.0,129.2Z" fill="#7070f0" stroke="#3a3ae0" stroke-width="0.5"/>
<path d="M427.6,127.4L430.7,125.5L430.7,129.3Z" fill="#7070f0" stroke="#3a3ae0" stroke-width="0.5"/>
<path d="M435.3,127.5L438.4,125.6L438.4,129.4Z" fill="#7070f0" stroke="#3a3ae0" stroke-width="0.5"/>
<path d="M443.0,127.5L446.1,125.6L446.1,129.4Z" fill="#7070f0" stroke="#3a3ae0" stroke-width="0.5"/>
<path d="M450.7,127.6L453.8,125.7L453.8,129.5Z" fill="#7070f0" stroke="#3a3ae0" stroke-width="0.5"/>
<path d="M458.4,127.7L461.5,125.8L461.5,129.6Z" fill="#7070f0" stroke="#3a3ae0" stroke-width="0.5"/>
<path d="M466.1,127.7L469.2,125.8L469.2,129.6Z" fill="#7070f0" stroke="#3a3ae0" stroke-width="0.5"/>
<path d="M473.8,127.8L476.9,125.9L476.9,129.7Z" fill="#7070f0" stroke="#3a3ae0" stroke-width="0.5"/>
<path d="M481.6,127.8L484.6,125.9L484.6,129.7Z" fill="#7070f0" stroke="#3a3ae0" stroke-width="0.5"/>
<path d="M489.3,127.9L492.3,126.0L492.3,129.8Z" fill="#7070f0" stroke="#3a3ae0" stroke-width="0.5"/>
<path d="M497.0,128.0L500.0,126.1L500.0,129.9Z" fill="#7070f0" stroke="#3a3ae0" stroke-width="0.5"/>
<path d="M504.7,128.0L507.7,126.1L507.7,129.9Z" fill="#7070f0" stroke="#3a3ae0" stroke-width="0.5"/>
<path d="M512.4,128.1L515.4,126.2L515.4,130.0Z" fill="#7070f0" stroke="#3a3ae0" stroke-width="0.5"/>
<path d="M520.1,128.2L523.1,126.3L523.1,130.1Z" fill="#7070f0" stroke="#3a3ae0" stroke-width="0.5"/>
<path d="M527.8,128.2L530.8,126.3L530.8,130.1Z" fill="#7070f0" stroke="#3a3ae0" stroke-width="0.5"/>
<path d="M390.8,35.3L398.5,92.0L406.2,100.0L429.3,100.0L437.0,113.5L537.2,114.0" fill="none" stroke="#28e0e0" stroke-width="0.9" stroke-linejoin="round"/>
<circle cx="390.8" cy="35.3" r="1.2" fill="#28e0e0"/><path d="M389.3,35.3H392.3M390.8,33.8V36.8" stroke="#28e0e0" stroke-width="0.5"/>
<circle cx="398.5" cy="92.0" r="1.2" fill="#28e0e0"/><path d="M397.0,92.0H400.0M398.5,90.5V93.5" stroke="#28e0e0" stroke-width="0.5"/>
<circle cx="406.2" cy="100.0" r="1.2" fill="#28e0e0"/><path d="M404.7,100.0H407.7M406.2,98.5V101.5" stroke="#28e0e0" stroke-width="0.5"/>
<circle cx="413.9" cy="100.0" r="1.2" fill="#28e0e0"/><path d="M412.4,100.0H415.4M413.9,98.5V101.5" stroke="#28e0e0" stroke-width="0.5"/>
<circle cx="421.6" cy="100.0" r="1.2" fill="#28e0e0"/><path d="M420.1,100.0H423.1M421.6,98.5V101.5" stroke="#28e0e0" stroke-width="0.5"/>
<circle cx="429.3" cy="100.0" r="1.2" fill="#28e0e0"/><path d="M427.8,100.0H430.8M429.3,98.5V101.5" stroke="#28e0e0" stroke-width="0.5"/>
<circle cx="437.0" cy="113.5" r="1.2" fill="#28e0e0"/><path d="M435.5,113.5H438.5M437.0,112.0V115.0" stroke="#28e0e0" stroke-width="0.5"/>
<circle cx="444.7" cy="113.5" r="1.2" fill="#28e0e0"/><path d="M443.2,113.5H446.2M444.7,112.0V115.0" stroke="#28e0e0" stroke-width="0.5"/>
<circle cx="452.4" cy="113.6" r="1.2" fill="#28e0e0"/><path d="M450.9,113.6H453.9M452.4,112.1V115.1" stroke="#28e0e0" stroke-width="0.5"/>
<circle cx="460.1" cy="113.6" r="1.2" fill="#28e0e0"/><path d="M458.6,113.6H461.6M460.1,112.1V115.1" stroke="#28e0e0" stroke-width="0.5"/>
<circle cx="467.9" cy="113.7" r="1.2" fill="#28e0e0"/><path d="M466.4,113.7H469.4M467.9,112.2V115.2" stroke="#28e0e0" stroke-width="0.5"/>
<circle cx="475.6" cy="113.7" r="1.2" fill="#28e0e0"/><path d="M474.1,113.7H477.1M475.6,112.2V115.2" stroke="#28e0e0" stroke-width="0.5"/>
<circle cx="483.3" cy="113.7" r="1.2" fill="#28e0e0"/><path d="M481.8,113.7H484.8M483.3,112.2V115.2" stroke="#28e0e0" stroke-width="0.5"/>
<circle cx="491.0" cy="113.8" r="1.2" fill="#28e0e0"/><path d="M489.5,113.8H492.5M491.0,112.3V115.3" stroke="#28e0e0" stroke-width="0.5"/>
<circle cx="498.7" cy="113.8" r="1.2" fill="#28e0e0"/><path d="M497.2,113.8H500.2M498.7,112.3V115.3" stroke="#28e0e0" stroke-width="0.5"/>
<circle cx="506.4" cy="113.8" r="1.2" fill="#28e0e0"/><path d="M504.9,113.8H507.9M506.4,112.3V115.3" stroke="#28e0e0" stroke-width="0.5"/>
<circle cx="514.1" cy="113.9" r="1.2" fill="#28e0e0"/><path d="M512.6,113.9H515.6M514.1,112.4V115.4" stroke="#28e0e0" stroke-width="0.5"/>
<circle cx="521.8" cy="113.9" r="1.2" fill="#28e0e0"/><path d="M520.3,113.9H523.3M521.8,112.4V115.4" stroke="#28e0e0" stroke-width="0.5"/>
<circle cx="529.5" cy="114.0" r="1.2" fill="#28e0e0"/><path d="M528.0,114.0H531.0M529.5,112.5V115.5" stroke="#28e0e0" stroke-width="0.5"/>
<path d="M390.8,38.2L398.5,38.7L406.2,39.3L413.9,39.5L421.6,39.5L429.3,43.1L437.0,58.4L444.7,63.0L452.4,65.5L460.1,68.5L467.9,70.0L498.7,70.0L506.4,76.4L514.1,76.7L521.8,77.0L537.2,77.3" fill="none" stroke="#d9a030" stroke-width="0.9" stroke-linejoin="round"/>
<path d="M388.9,38.2L390.8,36.3L392.7,38.2L390.8,40.1Z" fill="#e0b050" stroke="#d9a030" stroke-width="0.5"/>
<path d="M396.6,38.7L398.5,36.8L400.4,38.7L398.5,40.6Z" fill="#e0b050" stroke="#d9a030" stroke-width="0.5"/>
<path d="M404.3,39.3L406.2,37.4L408.1,39.3L406.2,41.2Z" fill="#e0b050" stroke="#d9a030" stroke-width="0.5"/>
<path d="M412.0,39.5L413.9,37.6L415.8,39.5L413.9,41.4Z" fill="#e0b050" stroke="#d9a030" stroke-width="0.5"/>
<path d="M419.7,39.5L421.6,37.6L423.5,39.5L421.6,41.4Z" fill="#e0b050" stroke="#d9a030" stroke-width="0.5"/>
<path d="M427.4,43.1L429.3,41.2L431.2,43.1L429.3,45.0Z" fill="#e0b050" stroke="#d9a030" stroke-width="0.5"/>
<path d="M435.1,58.4L437.0,56.5L438.9,58.4L437.0,60.3Z" fill="#e0b050" stroke="#d9a030" stroke-width="0.5"/>
<path d="M442.8,63.0L444.7,61.1L446.6,63.0L444.7,64.9Z" fill="#e0b050" stroke="#d9a030" stroke-width="0.5"/>
<path d="M450.5,65.5L452.4,63.6L454.3,65.5L452.4,67.4Z" fill="#e0b050" stroke="#d9a030" stroke-width="0.5"/>
<path d="M458.2,68.5L460.1,66.6L462.0,68.5L460.1,70.4Z" fill="#e0b050" stroke="#d9a030" stroke-width="0.5"/>
<path d="M466.0,70.0L467.9,68.1L469.8,70.0L467.9,71.9Z" fill="#e0b050" stroke="#d9a030" stroke-width="0.5"/>
<path d="M473.7,70.0L475.6,68.1L477.5,70.0L475.6,71.9Z" fill="#e0b050" stroke="#d9a030" stroke-width="0.5"/>
<path d="M481.4,70.0L483.3,68.1L485.2,70.0L483.3,71.9Z" fill="#e0b050" stroke="#d9a030" stroke-width="0.5"/>
<path d="M489.1,70.0L491.0,68.1L492.9,70.0L491.0,71.9Z" fill="#e0b050" stroke="#d9a030" stroke-width="0.5"/>
<path d="M496.8,70.0L498.7,68.1L500.6,70.0L498.7,71.9Z" fill="#e0b050" stroke="#d9a030" stroke-width="0.5"/>
<path d="M504.5,76.4L506.4,74.5L508.3,76.4L506.4,78.3Z" fill="#e0b050" stroke="#d9a030" stroke-width="0.5"/>
<path d="M512.2,76.7L514.1,74.8L516.0,76.7L514.1,78.6Z" fill="#e0b050" stroke="#d9a030" stroke-width="0.5"/>
<path d="M519.9,77.0L521.8,75.1L523.7,77.0L521.8,78.9Z" fill="#e0b050" stroke="#d9a030" stroke-width="0.5"/>
<path d="M527.6,77.2L529.5,75.2L531.4,77.2L529.5,79.1Z" fill="#e0b050" stroke="#d9a030" stroke-width="0.5"/>
</g>
<text x="467.4" y="10.9" class="tt" text-anchor="middle">F21</text>
<rect x="493.9" y="17.3" width="37.60000000000002" height="42.7" fill="#fff" stroke="#9a9a9a" stroke-width="0.5"/>
<line x1="495.4" x2="509.7" y1="21.3" y2="21.3" stroke="#45d845" stroke-width="0.9"/>
<circle cx="502.5" cy="21.3" r="1.7" fill="#7ee87e" stroke="#45d845" stroke-width="0.6"/>
<text x="510.9" y="23.0" class="lg">M1SCSO</text>
<line x1="495.4" x2="509.7" y1="27.3" y2="27.3" stroke="#e84850" stroke-width="0.9"/>
<path d="M500.6,25.9L504.4,25.9L502.5,29.0Z" fill="#f07070" stroke="#e84850" stroke-width="0.5"/>
<text x="510.9" y="29.0" class="lg">SCSO</text>
<line x1="495.4" x2="509.7" y1="33.2" y2="33.2" stroke="#3a3a3a" stroke-width="0.9"/>
<path d="M500.6,34.5L504.4,34.5L502.5,31.5Z" fill="#777777" stroke="#3a3a3a" stroke-width="0.5"/>
<text x="510.9" y="34.9" class="lg">SMOA</text>
<line x1="495.4" x2="509.7" y1="39.1" y2="39.1" stroke="#e02ee0" stroke-width="0.9"/>
<circle cx="502.5" cy="39.1" r="1.4" fill="#e02ee0"/>
<text x="510.9" y="40.8" class="lg">WOA</text>
<line x1="495.4" x2="509.7" y1="45.1" y2="45.1" stroke="#3a3ae0" stroke-width="0.9"/>
<path d="M500.8,45.1L503.9,43.2L503.9,47.0Z" fill="#7070f0" stroke="#3a3ae0" stroke-width="0.5"/>
<text x="510.9" y="46.8" class="lg">BWO</text>
<line x1="495.4" x2="509.7" y1="51.0" y2="51.0" stroke="#28e0e0" stroke-width="0.9"/>
<circle cx="502.5" cy="51.0" r="1.2" fill="#28e0e0"/><path d="M501.0,51.0H504.0M502.5,49.5V52.5" stroke="#28e0e0" stroke-width="0.5"/>
<text x="510.9" y="52.7" class="lg">ACO</text>
<line x1="495.4" x2="509.7" y1="56.9" y2="56.9" stroke="#d9a030" stroke-width="0.9"/>
<path d="M500.6,56.9L502.5,55.0L504.4,56.9L502.5,58.8Z" fill="#e0b050" stroke="#d9a030" stroke-width="0.5"/>
<text x="510.9" y="58.6" class="lg">RSA</text>
<text transform="translate(374.0,73.7) scale(1.08,1) rotate(-90)" class="yl" text-anchor="middle">Mean of objective function values</text>
<text x="468.4" y="147.2" class="xl" text-anchor="middle">Iteration</text>
<text x="537.3" y="145.2" class="tag" text-anchor="middle">(c)</text>
<line x1="35.3" x2="181.5" y1="277.0" y2="277.0" stroke="#f1f1f1" stroke-width="0.5"/>
<line x1="35.3" x2="181.5" y1="274.3" y2="274.3" stroke="#f1f1f1" stroke-width="0.5"/>
<line x1="35.3" x2="181.5" y1="271.6" y2="271.6" stroke="#f1f1f1" stroke-width="0.5"/>
<line x1="35.3" x2="181.5" y1="268.9" y2="268.9" stroke="#f1f1f1" stroke-width="0.5"/>
<line x1="35.3" x2="181.5" y1="266.2" y2="266.2" stroke="#f1f1f1" stroke-width="0.5"/>
<line x1="35.3" x2="181.5" y1="263.5" y2="263.5" stroke="#f1f1f1" stroke-width="0.5"/>
<line x1="35.3" x2="181.5" y1="260.9" y2="260.9" stroke="#f1f1f1" stroke-width="0.5"/>
<line x1="35.3" x2="181.5" y1="258.2" y2="258.2" stroke="#f1f1f1" stroke-width="0.5"/>
<line x1="35.3" x2="181.5" y1="255.5" y2="255.5" stroke="#f1f1f1" stroke-width="0.5"/>
<line x1="35.3" x2="181.5" y1="252.9" y2="252.9" stroke="#f1f1f1" stroke-width="0.5"/>
<line x1="35.3" x2="181.5" y1="250.2" y2="250.2" stroke="#f1f1f1" stroke-width="0.5"/>
<line x1="35.3" x2="181.5" y1="247.6" y2="247.6" stroke="#f1f1f1" stroke-width="0.5"/>
<line x1="35.3" x2="181.5" y1="244.9" y2="244.9" stroke="#f1f1f1" stroke-width="0.5"/>
<line x1="35.3" x2="181.5" y1="242.3" y2="242.3" stroke="#f1f1f1" stroke-width="0.5"/>
<line x1="35.3" x2="181.5" y1="239.7" y2="239.7" stroke="#f1f1f1" stroke-width="0.5"/>
<line x1="35.3" x2="181.5" y1="237.0" y2="237.0" stroke="#f1f1f1" stroke-width="0.5"/>
<line x1="35.3" x2="181.5" y1="234.4" y2="234.4" stroke="#f1f1f1" stroke-width="0.5"/>
<line x1="35.3" x2="181.5" y1="231.8" y2="231.8" stroke="#f1f1f1" stroke-width="0.5"/>
<line x1="35.3" x2="181.5" y1="229.2" y2="229.2" stroke="#f1f1f1" stroke-width="0.5"/>
<line x1="35.3" x2="181.5" y1="226.6" y2="226.6" stroke="#f1f1f1" stroke-width="0.5"/>
<line x1="35.3" x2="181.5" y1="223.9" y2="223.9" stroke="#f1f1f1" stroke-width="0.5"/>
<line x1="35.3" x2="181.5" y1="221.3" y2="221.3" stroke="#f1f1f1" stroke-width="0.5"/>
<line x1="35.3" x2="181.5" y1="218.7" y2="218.7" stroke="#f1f1f1" stroke-width="0.5"/>
<line x1="35.3" x2="181.5" y1="216.2" y2="216.2" stroke="#f1f1f1" stroke-width="0.5"/>
<line x1="35.3" x2="181.5" y1="213.6" y2="213.6" stroke="#f1f1f1" stroke-width="0.5"/>
<line x1="35.3" x2="181.5" y1="211.0" y2="211.0" stroke="#f1f1f1" stroke-width="0.5"/>
<line x1="35.3" x2="181.5" y1="208.4" y2="208.4" stroke="#f1f1f1" stroke-width="0.5"/>
<line x1="35.3" x2="181.5" y1="205.8" y2="205.8" stroke="#f1f1f1" stroke-width="0.5"/>
<line x1="35.3" x2="181.5" y1="203.3" y2="203.3" stroke="#f1f1f1" stroke-width="0.5"/>
<line x1="35.3" x2="181.5" y1="200.7" y2="200.7" stroke="#f1f1f1" stroke-width="0.5"/>
<line x1="35.3" x2="181.5" y1="198.1" y2="198.1" stroke="#f1f1f1" stroke-width="0.5"/>
<line x1="35.3" x2="181.5" y1="195.6" y2="195.6" stroke="#f1f1f1" stroke-width="0.5"/>
<line x1="35.3" x2="181.5" y1="193.0" y2="193.0" stroke="#f1f1f1" stroke-width="0.5"/>
<line x1="35.3" x2="181.5" y1="190.5" y2="190.5" stroke="#f1f1f1" stroke-width="0.5"/>
<line x1="35.3" x2="181.5" y1="188.0" y2="188.0" stroke="#f1f1f1" stroke-width="0.5"/>
<line x1="35.3" x2="181.5" y1="185.4" y2="185.4" stroke="#f1f1f1" stroke-width="0.5"/>
<line x1="35.3" x2="181.5" y1="182.9" y2="182.9" stroke="#f1f1f1" stroke-width="0.5"/>
<line x1="35.3" x2="181.5" y1="180.4" y2="180.4" stroke="#f1f1f1" stroke-width="0.5"/>
<line x1="35.3" x2="181.5" y1="177.8" y2="177.8" stroke="#f1f1f1" stroke-width="0.5"/>
<line x1="35.3" x2="181.5" y1="175.3" y2="175.3" stroke="#f1f1f1" stroke-width="0.5"/>
<line x1="35.3" x2="181.5" y1="172.8" y2="172.8" stroke="#f1f1f1" stroke-width="0.5"/>
<line x1="35.3" x2="181.5" y1="170.3" y2="170.3" stroke="#f1f1f1" stroke-width="0.5"/>
<line x1="35.3" x2="181.5" y1="167.8" y2="167.8" stroke="#f1f1f1" stroke-width="0.5"/>
<line x1="35.3" x2="181.5" y1="165.3" y2="165.3" stroke="#f1f1f1" stroke-width="0.5"/>
<line x1="35.3" x2="181.5" y1="162.8" y2="162.8" stroke="#f1f1f1" stroke-width="0.5"/>
<line x1="35.3" x2="181.5" y1="274.3" y2="274.3" stroke="#e6e6e6" stroke-width="0.5"/>
<line x1="35.3" x2="181.5" y1="263.5" y2="263.5" stroke="#e6e6e6" stroke-width="0.5"/>
<line x1="35.3" x2="181.5" y1="252.9" y2="252.9" stroke="#e6e6e6" stroke-width="0.5"/>
<line x1="35.3" x2="181.5" y1="242.3" y2="242.3" stroke="#e6e6e6" stroke-width="0.5"/>
<line x1="35.3" x2="181.5" y1="231.8" y2="231.8" stroke="#e6e6e6" stroke-width="0.5"/>
<line x1="35.3" x2="181.5" y1="221.3" y2="221.3" stroke="#e6e6e6" stroke-width="0.5"/>
<line x1="35.3" x2="181.5" y1="211.0" y2="211.0" stroke="#e6e6e6" stroke-width="0.5"/>
<line x1="35.3" x2="181.5" y1="200.7" y2="200.7" stroke="#e6e6e6" stroke-width="0.5"/>
<line x1="35.3" x2="181.5" y1="190.5" y2="190.5" stroke="#e6e6e6" stroke-width="0.5"/>
<line x1="35.3" x2="181.5" y1="180.4" y2="180.4" stroke="#e6e6e6" stroke-width="0.5"/>
<line x1="35.3" x2="181.5" y1="170.3" y2="170.3" stroke="#e6e6e6" stroke-width="0.5"/>
<line x1="84.0" x2="84.0" y1="162" y2="278.3" stroke="#e6e6e6" stroke-width="0.5"/>
<line x1="132.8" x2="132.8" y1="162" y2="278.3" stroke="#e6e6e6" stroke-width="0.5"/>
<rect x="35.3" y="162" width="146.2" height="116.30000000000001" fill="none" stroke="#707070" stroke-width="0.7"/>
<line x1="35.3" x2="36.8" y1="274.3" y2="274.3" stroke="#777" stroke-width="0.5"/>
<line x1="180.0" x2="181.5" y1="274.3" y2="274.3" stroke="#777" stroke-width="0.5"/>
<text x="33.1" y="275.9" class="tk" text-anchor="end">2620</text>
<line x1="35.3" x2="36.8" y1="263.5" y2="263.5" stroke="#777" stroke-width="0.5"/>
<line x1="180.0" x2="181.5" y1="263.5" y2="263.5" stroke="#777" stroke-width="0.5"/>
<text x="33.1" y="265.1" class="tk" text-anchor="end">2640</text>
<line x1="35.3" x2="36.8" y1="252.9" y2="252.9" stroke="#777" stroke-width="0.5"/>
<line x1="180.0" x2="181.5" y1="252.9" y2="252.9" stroke="#777" stroke-width="0.5"/>
<text x="33.1" y="254.5" class="tk" text-anchor="end">2660</text>
<line x1="35.3" x2="36.8" y1="242.3" y2="242.3" stroke="#777" stroke-width="0.5"/>
<line x1="180.0" x2="181.5" y1="242.3" y2="242.3" stroke="#777" stroke-width="0.5"/>
<text x="33.1" y="243.9" class="tk" text-anchor="end">2680</text>
<line x1="35.3" x2="36.8" y1="231.8" y2="231.8" stroke="#777" stroke-width="0.5"/>
<line x1="180.0" x2="181.5" y1="231.8" y2="231.8" stroke="#777" stroke-width="0.5"/>
<text x="33.1" y="233.4" class="tk" text-anchor="end">2700</text>
<line x1="35.3" x2="36.8" y1="221.3" y2="221.3" stroke="#777" stroke-width="0.5"/>
<line x1="180.0" x2="181.5" y1="221.3" y2="221.3" stroke="#777" stroke-width="0.5"/>
<text x="33.1" y="222.9" class="tk" text-anchor="end">2720</text>
<line x1="35.3" x2="36.8" y1="211.0" y2="211.0" stroke="#777" stroke-width="0.5"/>
<line x1="180.0" x2="181.5" y1="211.0" y2="211.0" stroke="#777" stroke-width="0.5"/>
<text x="33.1" y="212.6" class="tk" text-anchor="end">2740</text>
<line x1="35.3" x2="36.8" y1="200.7" y2="200.7" stroke="#777" stroke-width="0.5"/>
<line x1="180.0" x2="181.5" y1="200.7" y2="200.7" stroke="#777" stroke-width="0.5"/>
<text x="33.1" y="202.3" class="tk" text-anchor="end">2760</text>
<line x1="35.3" x2="36.8" y1="190.5" y2="190.5" stroke="#777" stroke-width="0.5"/>
<line x1="180.0" x2="181.5" y1="190.5" y2="190.5" stroke="#777" stroke-width="0.5"/>
<text x="33.1" y="192.1" class="tk" text-anchor="end">2780</text>
<line x1="35.3" x2="36.8" y1="180.4" y2="180.4" stroke="#777" stroke-width="0.5"/>
<line x1="180.0" x2="181.5" y1="180.4" y2="180.4" stroke="#777" stroke-width="0.5"/>
<text x="33.1" y="182.0" class="tk" text-anchor="end">2800</text>
<line x1="35.3" x2="36.8" y1="170.3" y2="170.3" stroke="#777" stroke-width="0.5"/>
<line x1="180.0" x2="181.5" y1="170.3" y2="170.3" stroke="#777" stroke-width="0.5"/>
<text x="33.1" y="171.9" class="tk" text-anchor="end">2820</text>
<text x="35.3" y="284.5" class="tk" text-anchor="middle">0</text>
<line x1="84.0" x2="84.0" y1="276.8" y2="278.3" stroke="#777" stroke-width="0.5"/>
<line x1="84.0" x2="84.0" y1="162" y2="163.5" stroke="#777" stroke-width="0.5"/>
<text x="84.0" y="284.5" class="tk" text-anchor="middle">500</text>
<line x1="132.8" x2="132.8" y1="276.8" y2="278.3" stroke="#777" stroke-width="0.5"/>
<line x1="132.8" x2="132.8" y1="162" y2="163.5" stroke="#777" stroke-width="0.5"/>
<text x="132.8" y="284.5" class="tk" text-anchor="middle">1000</text>
<text x="181.5" y="284.5" class="tk" text-anchor="middle">1500</text>
<clipPath id="clipd"><rect x="32.3" y="159" width="152.2" height="122.30000000000001"/></clipPath>
<g clip-path="url(#clipd)">
<path d="M35.3,200.1L43.0,268.8L50.7,274.9L58.4,276.8L66.1,277.3L181.5,277.8" fill="none" stroke="#45d845" stroke-width="0.9" stroke-linejoin="round"/>
<circle cx="35.3" cy="200.1" r="1.7" fill="#7ee87e" stroke="#45d845" stroke-width="0.6"/>
<circle cx="43.0" cy="268.8" r="1.7" fill="#7ee87e" stroke="#45d845" stroke-width="0.6"/>
<circle cx="50.7" cy="274.9" r="1.7" fill="#7ee87e" stroke="#45d845" stroke-width="0.6"/>
<circle cx="58.4" cy="276.8" r="1.7" fill="#7ee87e" stroke="#45d845" stroke-width="0.6"/>
<circle cx="66.1" cy="277.3" r="1.7" fill="#7ee87e" stroke="#45d845" stroke-width="0.6"/>
<circle cx="73.8" cy="277.3" r="1.7" fill="#7ee87e" stroke="#45d845" stroke-width="0.6"/>
<circle cx="81.5" cy="277.4" r="1.7" fill="#7ee87e" stroke="#45d845" stroke-width="0.6"/>
<circle cx="89.2" cy="277.4" r="1.7" fill="#7ee87e" stroke="#45d845" stroke-width="0.6"/>
<circle cx="96.9" cy="277.4" r="1.7" fill="#7ee87e" stroke="#45d845" stroke-width="0.6"/>
<circle cx="104.6" cy="277.5" r="1.7" fill="#7ee87e" stroke="#45d845" stroke-width="0.6"/>
<circle cx="112.2" cy="277.5" r="1.7" fill="#7ee87e" stroke="#45d845" stroke-width="0.6"/>
<circle cx="119.9" cy="277.5" r="1.7" fill="#7ee87e" stroke="#45d845" stroke-width="0.6"/>
<circle cx="127.6" cy="277.6" r="1.7" fill="#7ee87e" stroke="#45d845" stroke-width="0.6"/>
<circle cx="135.3" cy="277.6" r="1.7" fill="#7ee87e" stroke="#45d845" stroke-width="0.6"/>
<circle cx="143.0" cy="277.6" r="1.7" fill="#7ee87e" stroke="#45d845" stroke-width="0.6"/>
<circle cx="150.7" cy="277.7" r="1.7" fill="#7ee87e" stroke="#45d845" stroke-width="0.6"/>
<circle cx="158.4" cy="277.7" r="1.7" fill="#7ee87e" stroke="#45d845" stroke-width="0.6"/>
<circle cx="166.1" cy="277.7" r="1.7" fill="#7ee87e" stroke="#45d845" stroke-width="0.6"/>
<circle cx="173.8" cy="277.8" r="1.7" fill="#7ee87e" stroke="#45d845" stroke-width="0.6"/>
<circle cx="181.5" cy="277.8" r="1.7" fill="#7ee87e" stroke="#45d845" stroke-width="0.6"/>
<path d="M35.3,167.4L43.0,258.6L50.7,260.8L58.4,261.3L73.8,262.7L81.5,263.7L89.2,264.2L181.5,265.9" fill="none" stroke="#e84850" stroke-width="0.9" stroke-linejoin="round"/>
<path d="M33.4,166.1L37.2,166.1L35.3,169.1Z" fill="#f07070" stroke="#e84850" stroke-width="0.5"/>
<path d="M41.1,257.3L44.9,257.3L43.0,260.3Z" fill="#f07070" stroke="#e84850" stroke-width="0.5"/>
<path d="M48.8,259.5L52.6,259.5L50.7,262.5Z" fill="#f07070" stroke="#e84850" stroke-width="0.5"/>
<path d="M56.5,260.0L60.3,260.0L58.4,263.0Z" fill="#f07070" stroke="#e84850" stroke-width="0.5"/>
<path d="M64.2,260.7L68.0,260.7L66.1,263.7Z" fill="#f07070" stroke="#e84850" stroke-width="0.5"/>
<path d="M71.9,261.4L75.7,261.4L73.8,264.4Z" fill="#f07070" stroke="#e84850" stroke-width="0.5"/>
<path d="M79.6,262.4L83.4,262.4L81.5,265.4Z" fill="#f07070" stroke="#e84850" stroke-width="0.5"/>
<path d="M87.3,262.9L91.1,262.9L89.2,265.9Z" fill="#f07070" stroke="#e84850" stroke-width="0.5"/>
<path d="M95.0,263.0L98.8,263.0L96.9,266.1Z" fill="#f07070" stroke="#e84850" stroke-width="0.5"/>
<path d="M102.7,263.2L106.5,263.2L104.6,266.2Z" fill="#f07070" stroke="#e84850" stroke-width="0.5"/>
<path d="M110.3,263.3L114.1,263.3L112.2,266.3Z" fill="#f07070" stroke="#e84850" stroke-width="0.5"/>
<path d="M118.0,263.4L121.8,263.4L119.9,266.5Z" fill="#f07070" stroke="#e84850" stroke-width="0.5"/>
<path d="M125.7,263.6L129.5,263.6L127.6,266.6Z" fill="#f07070" stroke="#e84850" stroke-width="0.5"/>
<path d="M133.4,263.7L137.2,263.7L135.3,266.8Z" fill="#f07070" stroke="#e84850" stroke-width="0.5"/>
<path d="M141.1,263.9L144.9,263.9L143.0,266.9Z" fill="#f07070" stroke="#e84850" stroke-width="0.5"/>
<path d="M148.8,264.0L152.6,264.0L150.7,267.0Z" fill="#f07070" stroke="#e84850" stroke-width="0.5"/>
<path d="M156.5,264.1L160.3,264.1L158.4,267.2Z" fill="#f07070" stroke="#e84850" stroke-width="0.5"/>
<path d="M164.2,264.3L168.0,264.3L166.1,267.3Z" fill="#f07070" stroke="#e84850" stroke-width="0.5"/>
<path d="M171.9,264.4L175.7,264.4L173.8,267.5Z" fill="#f07070" stroke="#e84850" stroke-width="0.5"/>
<path d="M179.6,264.6L183.4,264.6L181.5,267.6Z" fill="#f07070" stroke="#e84850" stroke-width="0.5"/>
<path d="M35.3,174.0L43.0,253.1L50.7,257.2L58.4,257.2L66.1,261.3L73.8,261.8L89.2,261.5L181.5,263.2" fill="none" stroke="#3a3a3a" stroke-width="0.9" stroke-linejoin="round"/>
<path d="M33.4,175.3L37.2,175.3L35.3,172.3Z" fill="#777777" stroke="#3a3a3a" stroke-width="0.5"/>
<path d="M41.1,254.4L44.9,254.4L43.0,251.4Z" fill="#777777" stroke="#3a3a3a" stroke-width="0.5"/>
<path d="M48.8,258.5L52.6,258.5L50.7,255.5Z" fill="#777777" stroke="#3a3a3a" stroke-width="0.5"/>
<path d="M56.5,258.5L60.3,258.5L58.4,255.5Z" fill="#777777" stroke="#3a3a3a" stroke-width="0.5"/>
<path d="M64.2,262.6L68.0,262.6L66.1,259.6Z" fill="#777777" stroke="#3a3a3a" stroke-width="0.5"/>
<path d="M71.9,263.1L75.7,263.1L73.8,260.1Z" fill="#777777" stroke="#3a3a3a" stroke-width="0.5"/>
<path d="M79.6,263.0L83.4,263.0L81.5,259.9Z" fill="#777777" stroke="#3a3a3a" stroke-width="0.5"/>
<path d="M87.3,262.8L91.1,262.8L89.2,259.8Z" fill="#777777" stroke="#3a3a3a" stroke-width="0.5"/>
<path d="M95.0,263.0L98.8,263.0L96.9,259.9Z" fill="#777777" stroke="#3a3a3a" stroke-width="0.5"/>
<path d="M102.7,263.1L106.5,263.1L104.6,260.1Z" fill="#777777" stroke="#3a3a3a" stroke-width="0.5"/>
<path d="M110.3,263.3L114.1,263.3L112.2,260.2Z" fill="#777777" stroke="#3a3a3a" stroke-width="0.5"/>
<path d="M118.0,263.4L121.8,263.4L119.9,260.4Z" fill="#777777" stroke="#3a3a3a" stroke-width="0.5"/>
<path d="M125.7,263.5L129.5,263.5L127.6,260.5Z" fill="#777777" stroke="#3a3a3a" stroke-width="0.5"/>
<path d="M133.4,263.7L137.2,263.7L135.3,260.6Z" fill="#777777" stroke="#3a3a3a" stroke-width="0.5"/>
<path d="M141.1,263.8L144.9,263.8L143.0,260.8Z" fill="#777777" stroke="#3a3a3a" stroke-width="0.5"/>
<path d="M148.8,264.0L152.6,264.0L150.7,260.9Z" fill="#777777" stroke="#3a3a3a" stroke-width="0.5"/>
<path d="M156.5,264.1L160.3,264.1L158.4,261.1Z" fill="#777777" stroke="#3a3a3a" stroke-width="0.5"/>
<path d="M164.2,264.2L168.0,264.2L166.1,261.2Z" fill="#777777" stroke="#3a3a3a" stroke-width="0.5"/>
<path d="M171.9,264.4L175.7,264.4L173.8,261.3Z" fill="#777777" stroke="#3a3a3a" stroke-width="0.5"/>
<path d="M179.6,264.5L183.4,264.5L181.5,261.5Z" fill="#777777" stroke="#3a3a3a" stroke-width="0.5"/>
<path d="M35.3,170.0L43.0,264.2L50.7,265.2L58.4,265.9L81.5,266.6L181.5,267.4" fill="none" stroke="#e02ee0" stroke-width="0.9" stroke-linejoin="round"/>
<circle cx="35.3" cy="170.0" r="1.4" fill="#e02ee0"/>
<circle cx="43.0" cy="264.2" r="1.4" fill="#e02ee0"/>
<circle cx="50.7" cy="265.2" r="1.4" fill="#e02ee0"/>
<circle cx="58.4" cy="265.9" r="1.4" fill="#e02ee0"/>
<circle cx="66.1" cy="266.1" r="1.4" fill="#e02ee0"/>
<circle cx="73.8" cy="266.4" r="1.4" fill="#e02ee0"/>
<circle cx="81.5" cy="266.6" r="1.4" fill="#e02ee0"/>
<circle cx="89.2" cy="266.7" r="1.4" fill="#e02ee0"/>
<circle cx="96.9" cy="266.7" r="1.4" fill="#e02ee0"/>
<circle cx="104.6" cy="266.8" r="1.4" fill="#e02ee0"/>
<circle cx="112.2" cy="266.8" r="1.4" fill="#e02ee0"/>
<circle cx="119.9" cy="266.9" r="1.4" fill="#e02ee0"/>
<circle cx="127.6" cy="267.0" r="1.4" fill="#e02ee0"/>
<circle cx="135.3" cy="267.0" r="1.4" fill="#e02ee0"/>
<circle cx="143.0" cy="267.1" r="1.4" fill="#e02ee0"/>
<circle cx="150.7" cy="267.2" r="1.4" fill="#e02ee0"/>
<circle cx="158.4" cy="267.2" r="1.4" fill="#e02ee0"/>
<circle cx="166.1" cy="267.3" r="1.4" fill="#e02ee0"/>
<circle cx="173.8" cy="267.3" r="1.4" fill="#e02ee0"/>
<circle cx="181.5" cy="267.4" r="1.4" fill="#e02ee0"/>
<path d="M35.3,184.8L43.0,253.5L50.7,260.4L58.4,266.2L66.1,266.6L73.8,268.5L81.5,270.0L89.2,270.3L181.5,273.2" fill="none" stroke="#3a3ae0" stroke-width="0.9" stroke-linejoin="round"/>
<path d="M33.6,184.8L36.6,182.9L36.6,186.7Z" fill="#7070f0" stroke="#3a3ae0" stroke-width="0.5"/>
<path d="M41.3,253.5L44.3,251.6L44.3,255.4Z" fill="#7070f0" stroke="#3a3ae0" stroke-width="0.5"/>
<path d="M49.0,260.4L52.0,258.5L52.0,262.3Z" fill="#7070f0" stroke="#3a3ae0" stroke-width="0.5"/>
<path d="M56.7,266.2L59.7,264.3L59.7,268.1Z" fill="#7070f0" stroke="#3a3ae0" stroke-width="0.5"/>
<path d="M64.4,266.6L67.4,264.7L67.4,268.5Z" fill="#7070f0" stroke="#3a3ae0" stroke-width="0.5"/>
<path d="M72.1,268.5L75.1,266.6L75.1,270.4Z" fill="#7070f0" stroke="#3a3ae0" stroke-width="0.5"/>
<path d="M79.8,270.0L82.8,268.1L82.8,271.9Z" fill="#7070f0" stroke="#3a3ae0" stroke-width="0.5"/>
<path d="M87.5,270.3L90.5,268.4L90.5,272.2Z" fill="#7070f0" stroke="#3a3ae0" stroke-width="0.5"/>
<path d="M95.1,270.5L98.2,268.6L98.2,272.4Z" fill="#7070f0" stroke="#3a3ae0" stroke-width="0.5"/>
<path d="M102.8,270.8L105.9,268.9L105.9,272.7Z" fill="#7070f0" stroke="#3a3ae0" stroke-width="0.5"/>
<path d="M110.5,271.0L113.6,269.1L113.6,272.9Z" fill="#7070f0" stroke="#3a3ae0" stroke-width="0.5"/>
<path d="M118.2,271.3L121.3,269.4L121.3,273.2Z" fill="#7070f0" stroke="#3a3ae0" stroke-width="0.5"/>
<path d="M125.9,271.5L129.0,269.6L129.0,273.4Z" fill="#7070f0" stroke="#3a3ae0" stroke-width="0.5"/>
<path d="M133.6,271.8L136.7,269.9L136.7,273.6Z" fill="#7070f0" stroke="#3a3ae0" stroke-width="0.5"/>
<path d="M141.3,272.0L144.4,270.1L144.4,273.9Z" fill="#7070f0" stroke="#3a3ae0" stroke-width="0.5"/>
<path d="M149.0,272.2L152.1,270.3L152.1,274.1Z" fill="#7070f0" stroke="#3a3ae0" stroke-width="0.5"/>
<path d="M156.7,272.5L159.7,270.6L159.7,274.4Z" fill="#7070f0" stroke="#3a3ae0" stroke-width="0.5"/>
<path d="M164.4,272.7L167.4,270.8L167.4,274.6Z" fill="#7070f0" stroke="#3a3ae0" stroke-width="0.5"/>
<path d="M172.1,273.0L175.1,271.1L175.1,274.9Z" fill="#7070f0" stroke="#3a3ae0" stroke-width="0.5"/>
<path d="M179.8,273.2L182.8,271.3L182.8,275.1Z" fill="#7070f0" stroke="#3a3ae0" stroke-width="0.5"/>
<path d="M35.3,162.0L43.0,248.7L50.7,251.4L58.4,254.7L66.1,257.2L73.8,258.3L81.5,261.3L89.2,261.5L181.5,263.7" fill="none" stroke="#28e0e0" stroke-width="0.9" stroke-linejoin="round"/>
<circle cx="35.3" cy="162.0" r="1.2" fill="#28e0e0"/><path d="M33.8,162.0H36.8M35.3,160.5V163.5" stroke="#28e0e0" stroke-width="0.5"/>
<circle cx="43.0" cy="248.7" r="1.2" fill="#28e0e0"/><path d="M41.5,248.7H44.5M43.0,247.2V250.2" stroke="#28e0e0" stroke-width="0.5"/>
<circle cx="50.7" cy="251.4" r="1.2" fill="#28e0e0"/><path d="M49.2,251.4H52.2M50.7,249.9V252.9" stroke="#28e0e0" stroke-width="0.5"/>
<circle cx="58.4" cy="254.7" r="1.2" fill="#28e0e0"/><path d="M56.9,254.7H59.9M58.4,253.2V256.2" stroke="#28e0e0" stroke-width="0.5"/>
<circle cx="66.1" cy="257.2" r="1.2" fill="#28e0e0"/><path d="M64.6,257.2H67.6M66.1,255.7V258.7" stroke="#28e0e0" stroke-width="0.5"/>
<circle cx="73.8" cy="258.3" r="1.2" fill="#28e0e0"/><path d="M72.3,258.3H75.3M73.8,256.8V259.8" stroke="#28e0e0" stroke-width="0.5"/>
<circle cx="81.5" cy="261.3" r="1.2" fill="#28e0e0"/><path d="M80.0,261.3H83.0M81.5,259.8V262.8" stroke="#28e0e0" stroke-width="0.5"/>
<circle cx="89.2" cy="261.5" r="1.2" fill="#28e0e0"/><path d="M87.7,261.5H90.7M89.2,260.0V263.0" stroke="#28e0e0" stroke-width="0.5"/>
<circle cx="96.9" cy="261.7" r="1.2" fill="#28e0e0"/><path d="M95.4,261.7H98.4M96.9,260.2V263.2" stroke="#28e0e0" stroke-width="0.5"/>
<circle cx="104.6" cy="261.9" r="1.2" fill="#28e0e0"/><path d="M103.1,261.9H106.1M104.6,260.4V263.4" stroke="#28e0e0" stroke-width="0.5"/>
<circle cx="112.2" cy="262.1" r="1.2" fill="#28e0e0"/><path d="M110.7,262.1H113.7M112.2,260.6V263.6" stroke="#28e0e0" stroke-width="0.5"/>
<circle cx="119.9" cy="262.2" r="1.2" fill="#28e0e0"/><path d="M118.4,262.2H121.4M119.9,260.7V263.7" stroke="#28e0e0" stroke-width="0.5"/>
<circle cx="127.6" cy="262.4" r="1.2" fill="#28e0e0"/><path d="M126.1,262.4H129.1M127.6,260.9V263.9" stroke="#28e0e0" stroke-width="0.5"/>
<circle cx="135.3" cy="262.6" r="1.2" fill="#28e0e0"/><path d="M133.8,262.6H136.8M135.3,261.1V264.1" stroke="#28e0e0" stroke-width="0.5"/>
<circle cx="143.0" cy="262.8" r="1.2" fill="#28e0e0"/><path d="M141.5,262.8H144.5M143.0,261.3V264.3" stroke="#28e0e0" stroke-width="0.5"/>
<circle cx="150.7" cy="263.0" r="1.2" fill="#28e0e0"/><path d="M149.2,263.0H152.2M150.7,261.5V264.5" stroke="#28e0e0" stroke-width="0.5"/>
<circle cx="158.4" cy="263.1" r="1.2" fill="#28e0e0"/><path d="M156.9,263.1H159.9M158.4,261.6V264.6" stroke="#28e0e0" stroke-width="0.5"/>
<circle cx="166.1" cy="263.3" r="1.2" fill="#28e0e0"/><path d="M164.6,263.3H167.6M166.1,261.8V264.8" stroke="#28e0e0" stroke-width="0.5"/>
<circle cx="173.8" cy="263.5" r="1.2" fill="#28e0e0"/><path d="M172.3,263.5H175.3M173.8,262.0V265.0" stroke="#28e0e0" stroke-width="0.5"/>
<circle cx="181.5" cy="263.7" r="1.2" fill="#28e0e0"/><path d="M180.0,263.7H183.0M181.5,262.2V265.2" stroke="#28e0e0" stroke-width="0.5"/>
<path d="M35.3,170.3L43.0,174.6L50.7,177.5L66.1,177.5L73.8,223.2L81.5,224.5L89.2,230.3L143.0,230.5L150.7,235.0L158.4,236.5L181.5,236.5" fill="none" stroke="#d9a030" stroke-width="0.9" stroke-linejoin="round"/>
<path d="M33.4,170.3L35.3,168.4L37.2,170.3L35.3,172.2Z" fill="#e0b050" stroke="#d9a030" stroke-width="0.5"/>
<path d="M41.1,174.6L43.0,172.7L44.9,174.6L43.0,176.5Z" fill="#e0b050" stroke="#d9a030" stroke-width="0.5"/>
<path d="M48.8,177.5L50.7,175.6L52.6,177.5L50.7,179.4Z" fill="#e0b050" stroke="#d9a030" stroke-width="0.5"/>
<path d="M56.5,177.5L58.4,175.6L60.3,177.5L58.4,179.4Z" fill="#e0b050" stroke="#d9a030" stroke-width="0.5"/>
<path d="M64.2,177.5L66.1,175.6L68.0,177.5L66.1,179.4Z" fill="#e0b050" stroke="#d9a030" stroke-width="0.5"/>
<path d="M71.9,223.2L73.8,221.3L75.7,223.2L73.8,225.1Z" fill="#e0b050" stroke="#d9a030" stroke-width="0.5"/>
<path d="M79.6,224.5L81.5,222.6L83.4,224.5L81.5,226.4Z" fill="#e0b050" stroke="#d9a030" stroke-width="0.5"/>
<path d="M87.3,230.3L89.2,228.4L91.1,230.3L89.2,232.2Z" fill="#e0b050" stroke="#d9a030" stroke-width="0.5"/>
<path d="M95.0,230.3L96.9,228.4L98.8,230.3L96.9,232.2Z" fill="#e0b050" stroke="#d9a030" stroke-width="0.5"/>
<path d="M102.7,230.4L104.6,228.5L106.5,230.4L104.6,232.3Z" fill="#e0b050" stroke="#d9a030" stroke-width="0.5"/>
<path d="M110.3,230.4L112.2,228.5L114.1,230.4L112.2,232.3Z" fill="#e0b050" stroke="#d9a030" stroke-width="0.5"/>
<path d="M118.0,230.4L119.9,228.5L121.8,230.4L119.9,232.3Z" fill="#e0b050" stroke="#d9a030" stroke-width="0.5"/>
<path d="M125.7,230.4L127.6,228.5L129.5,230.4L127.6,232.3Z" fill="#e0b050" stroke="#d9a030" stroke-width="0.5"/>
<path d="M133.4,230.5L135.3,228.6L137.2,230.5L135.3,232.4Z" fill="#e0b050" stroke="#d9a030" stroke-width="0.5"/>
<path d="M141.1,230.5L143.0,228.6L144.9,230.5L143.0,232.4Z" fill="#e0b050" stroke="#d9a030" stroke-width="0.5"/>
<path d="M148.8,235.0L150.7,233.1L152.6,235.0L150.7,236.9Z" fill="#e0b050" stroke="#d9a030" stroke-width="0.5"/>
<path d="M156.5,236.5L158.4,234.6L160.3,236.5L158.4,238.4Z" fill="#e0b050" stroke="#d9a030" stroke-width="0.5"/>
<path d="M164.2,236.5L166.1,234.6L168.0,236.5L166.1,238.4Z" fill="#e0b050" stroke="#d9a030" stroke-width="0.5"/>
<path d="M171.9,236.5L173.8,234.6L175.7,236.5L173.8,238.4Z" fill="#e0b050" stroke="#d9a030" stroke-width="0.5"/>
<path d="M179.6,236.5L181.5,234.6L183.4,236.5L181.5,238.4Z" fill="#e0b050" stroke="#d9a030" stroke-width="0.5"/>
</g>
<text x="110.2" y="159.8" class="tt" text-anchor="middle">F22</text>
<rect x="140.1" y="167.2" width="39.599999999999994" height="43.0" fill="#fff" stroke="#9a9a9a" stroke-width="0.5"/>
<line x1="141.6" x2="156.7" y1="171.3" y2="171.3" stroke="#45d845" stroke-width="0.9"/>
<circle cx="149.2" cy="171.3" r="1.7" fill="#7ee87e" stroke="#45d845" stroke-width="0.6"/>
<text x="157.9" y="173.0" class="lg">M1SCSO</text>
<line x1="141.6" x2="156.7" y1="177.2" y2="177.2" stroke="#e84850" stroke-width="0.9"/>
<path d="M147.3,175.9L151.1,175.9L149.2,178.9Z" fill="#f07070" stroke="#e84850" stroke-width="0.5"/>
<text x="157.9" y="178.9" class="lg">SCSO</text>
<line x1="141.6" x2="156.7" y1="183.2" y2="183.2" stroke="#3a3a3a" stroke-width="0.9"/>
<path d="M147.3,184.5L151.1,184.5L149.2,181.5Z" fill="#777777" stroke="#3a3a3a" stroke-width="0.5"/>
<text x="157.9" y="184.9" class="lg">SMOA</text>
<line x1="141.6" x2="156.7" y1="189.2" y2="189.2" stroke="#e02ee0" stroke-width="0.9"/>
<circle cx="149.2" cy="189.2" r="1.4" fill="#e02ee0"/>
<text x="157.9" y="190.9" class="lg">WOA</text>
<line x1="141.6" x2="156.7" y1="195.1" y2="195.1" stroke="#3a3ae0" stroke-width="0.9"/>
<path d="M147.5,195.1L150.5,193.2L150.5,197.0Z" fill="#7070f0" stroke="#3a3ae0" stroke-width="0.5"/>
<text x="157.9" y="196.8" class="lg">BWO</text>
<line x1="141.6" x2="156.7" y1="201.1" y2="201.1" stroke="#28e0e0" stroke-width="0.9"/>
<circle cx="149.2" cy="201.1" r="1.2" fill="#28e0e0"/><path d="M147.7,201.1H150.7M149.2,199.6V202.6" stroke="#28e0e0" stroke-width="0.5"/>
<text x="157.9" y="202.8" class="lg">ACO</text>
<line x1="141.6" x2="156.7" y1="207.1" y2="207.1" stroke="#d9a030" stroke-width="0.9"/>
<path d="M147.3,207.1L149.2,205.2L151.1,207.1L149.2,209.0Z" fill="#e0b050" stroke="#d9a030" stroke-width="0.5"/>
<text x="157.9" y="208.8" class="lg">RSA</text>
<text transform="translate(13.9,219.7) scale(1.08,1) rotate(-90)" class="yl" text-anchor="middle">Mean of objective function values</text>
<text x="109.8" y="293.6" class="xl" text-anchor="middle">Iteration</text>
<text x="178.5" y="293.6" class="tag" text-anchor="middle">(d)</text>
<line x1="213.4" x2="362.4" y1="277.8" y2="277.8" stroke="#f1f1f1" stroke-width="0.5"/>
<line x1="213.4" x2="362.4" y1="275.2" y2="275.2" stroke="#f1f1f1" stroke-width="0.5"/>
<line x1="213.4" x2="362.4" y1="272.5" y2="272.5" stroke="#f1f1f1" stroke-width="0.5"/>
<line x1="213.4" x2="362.4" y1="269.8" y2="269.8" stroke="#f1f1f1" stroke-width="0.5"/>
<line x1="213.4" x2="362.4" y1="267.2" y2="267.2" stroke="#f1f1f1" stroke-width="0.5"/>
<line x1="213.4" x2="362.4" y1="264.6" y2="264.6" stroke="#f1f1f1" stroke-width="0.5"/>
<line x1="213.4" x2="362.4" y1="262.0" y2="262.0" stroke="#f1f1f1" stroke-width="0.5"/>
<line x1="213.4" x2="362.4" y1="259.3" y2="259.3" stroke="#f1f1f1" stroke-width="0.5"/>
<line x1="213.4" x2="362.4" y1="256.7" y2="256.7" stroke="#f1f1f1" stroke-width="0.5"/>
<line x1="213.4" x2="362.4" y1="254.1" y2="254.1" stroke="#f1f1f1" stroke-width="0.5"/>
<line x1="213.4" x2="362.4" y1="251.6" y2="251.6" stroke="#f1f1f1" stroke-width="0.5"/>
<line x1="213.4" x2="362.4" y1="249.0" y2="249.0" stroke="#f1f1f1" stroke-width="0.5"/>
<line x1="213.4" x2="362.4" y1="246.4" y2="246.4" stroke="#f1f1f1" stroke-width="0.5"/>
<line x1="213.4" x2="362.4" y1="243.9" y2="243.9" stroke="#f1f1f1" stroke-width="0.5"/>
<line x1="213.4" x2="362.4" y1="241.3" y2="241.3" stroke="#f1f1f1" stroke-width="0.5"/>
<line x1="213.4" x2="362.4" y1="238.8" y2="238.8" stroke="#f1f1f1" stroke-width="0.5"/>
<line x1="213.4" x2="362.4" y1="236.3" y2="236.3" stroke="#f1f1f1" stroke-width="0.5"/>
<line x1="213.4" x2="362.4" y1="233.7" y2="233.7" stroke="#f1f1f1" stroke-width="0.5"/>
<line x1="213.4" x2="362.4" y1="231.2" y2="231.2" stroke="#f1f1f1" stroke-width="0.5"/>
<line x1="213.4" x2="362.4" y1="228.7" y2="228.7" stroke="#f1f1f1" stroke-width="0.5"/>
<line x1="213.4" x2="362.4" y1="226.2" y2="226.2" stroke="#f1f1f1" stroke-width="0.5"/>
<line x1="213.4" x2="362.4" y1="223.8" y2="223.8" stroke="#f1f1f1" stroke-width="0.5"/>
<line x1="213.4" x2="362.4" y1="221.3" y2="221.3" stroke="#f1f1f1" stroke-width="0.5"/>
<line x1="213.4" x2="362.4" y1="218.8" y2="218.8" stroke="#f1f1f1" stroke-width="0.5"/>
<line x1="213.4" x2="362.4" y1="216.4" y2="216.4" stroke="#f1f1f1" stroke-width="0.5"/>
<line x1="213.4" x2="362.4" y1="213.9" y2="213.9" stroke="#f1f1f1" stroke-width="0.5"/>
<line x1="213.4" x2="362.4" y1="211.5" y2="211.5" stroke="#f1f1f1" stroke-width="0.5"/>
<line x1="213.4" x2="362.4" y1="209.1" y2="209.1" stroke="#f1f1f1" stroke-width="0.5"/>
<line x1="213.4" x2="362.4" y1="206.6" y2="206.6" stroke="#f1f1f1" stroke-width="0.5"/>
<line x1="213.4" x2="362.4" y1="204.2" y2="204.2" stroke="#f1f1f1" stroke-width="0.5"/>
<line x1="213.4" x2="362.4" y1="201.8" y2="201.8" stroke="#f1f1f1" stroke-width="0.5"/>
<line x1="213.4" x2="362.4" y1="199.4" y2="199.4" stroke="#f1f1f1" stroke-width="0.5"/>
<line x1="213.4" x2="362.4" y1="197.0" y2="197.0" stroke="#f1f1f1" stroke-width="0.5"/>
<line x1="213.4" x2="362.4" y1="194.7" y2="194.7" stroke="#f1f1f1" stroke-width="0.5"/>
<line x1="213.4" x2="362.4" y1="192.3" y2="192.3" stroke="#f1f1f1" stroke-width="0.5"/>
<line x1="213.4" x2="362.4" y1="189.9" y2="189.9" stroke="#f1f1f1" stroke-width="0.5"/>
<line x1="213.4" x2="362.4" y1="187.6" y2="187.6" stroke="#f1f1f1" stroke-width="0.5"/>
<line x1="213.4" x2="362.4" y1="185.2" y2="185.2" stroke="#f1f1f1" stroke-width="0.5"/>
<line x1="213.4" x2="362.4" y1="182.9" y2="182.9" stroke="#f1f1f1" stroke-width="0.5"/>
<line x1="213.4" x2="362.4" y1="180.6" y2="180.6" stroke="#f1f1f1" stroke-width="0.5"/>
<line x1="213.4" x2="362.4" y1="178.2" y2="178.2" stroke="#f1f1f1" stroke-width="0.5"/>
<line x1="213.4" x2="362.4" y1="175.9" y2="175.9" stroke="#f1f1f1" stroke-width="0.5"/>
<line x1="213.4" x2="362.4" y1="173.6" y2="173.6" stroke="#f1f1f1" stroke-width="0.5"/>
<line x1="213.4" x2="362.4" y1="171.3" y2="171.3" stroke="#f1f1f1" stroke-width="0.5"/>
<line x1="213.4" x2="362.4" y1="169.0" y2="169.0" stroke="#f1f1f1" stroke-width="0.5"/>
<line x1="213.4" x2="362.4" y1="166.7" y2="166.7" stroke="#f1f1f1" stroke-width="0.5"/>
<line x1="213.4" x2="362.4" y1="164.5" y2="164.5" stroke="#f1f1f1" stroke-width="0.5"/>
<line x1="213.4" x2="362.4" y1="162.2" y2="162.2" stroke="#f1f1f1" stroke-width="0.5"/>
<line x1="213.4" x2="362.4" y1="272.5" y2="272.5" stroke="#e6e6e6" stroke-width="0.5"/>
<line x1="213.4" x2="362.4" y1="259.3" y2="259.3" stroke="#e6e6e6" stroke-width="0.5"/>
<line x1="213.4" x2="362.4" y1="246.4" y2="246.4" stroke="#e6e6e6" stroke-width="0.5"/>
<line x1="213.4" x2="362.4" y1="233.7" y2="233.7" stroke="#e6e6e6" stroke-width="0.5"/>
<line x1="213.4" x2="362.4" y1="221.3" y2="221.3" stroke="#e6e6e6" stroke-width="0.5"/>
<line x1="213.4" x2="362.4" y1="209.1" y2="209.1" stroke="#e6e6e6" stroke-width="0.5"/>
<line x1="213.4" x2="362.4" y1="197.0" y2="197.0" stroke="#e6e6e6" stroke-width="0.5"/>
<line x1="213.4" x2="362.4" y1="185.2" y2="185.2" stroke="#e6e6e6" stroke-width="0.5"/>
<line x1="213.4" x2="362.4" y1="173.6" y2="173.6" stroke="#e6e6e6" stroke-width="0.5"/>
<line x1="213.4" x2="362.4" y1="162.2" y2="162.2" stroke="#e6e6e6" stroke-width="0.5"/>
<line x1="263.1" x2="263.1" y1="161.1" y2="278.3" stroke="#e6e6e6" stroke-width="0.5"/>
<line x1="312.7" x2="312.7" y1="161.1" y2="278.3" stroke="#e6e6e6" stroke-width="0.5"/>
<rect x="213.4" y="161.1" width="148.99999999999997" height="117.20000000000002" fill="none" stroke="#707070" stroke-width="0.7"/>
<line x1="213.4" x2="214.9" y1="272.5" y2="272.5" stroke="#777" stroke-width="0.5"/>
<line x1="360.9" x2="362.4" y1="272.5" y2="272.5" stroke="#777" stroke-width="0.5"/>
<text x="211.2" y="274.1" class="tk" text-anchor="end">2600</text>
<line x1="213.4" x2="214.9" y1="259.3" y2="259.3" stroke="#777" stroke-width="0.5"/>
<line x1="360.9" x2="362.4" y1="259.3" y2="259.3" stroke="#777" stroke-width="0.5"/>
<text x="211.2" y="260.9" class="tk" text-anchor="end">2650</text>
<line x1="213.4" x2="214.9" y1="246.4" y2="246.4" stroke="#777" stroke-width="0.5"/>
<line x1="360.9" x2="362.4" y1="246.4" y2="246.4" stroke="#777" stroke-width="0.5"/>
<text x="211.2" y="248.0" class="tk" text-anchor="end">2700</text>
<line x1="213.4" x2="214.9" y1="233.7" y2="233.7" stroke="#777" stroke-width="0.5"/>
<line x1="360.9" x2="362.4" y1="233.7" y2="233.7" stroke="#777" stroke-width="0.5"/>
<text x="211.2" y="235.3" class="tk" text-anchor="end">2750</text>
<line x1="213.4" x2="214.9" y1="221.3" y2="221.3" stroke="#777" stroke-width="0.5"/>
<line x1="360.9" x2="362.4" y1="221.3" y2="221.3" stroke="#777" stroke-width="0.5"/>
<text x="211.2" y="222.9" class="tk" text-anchor="end">2800</text>
<line x1="213.4" x2="214.9" y1="209.1" y2="209.1" stroke="#777" stroke-width="0.5"/>
<line x1="360.9" x2="362.4" y1="209.1" y2="209.1" stroke="#777" stroke-width="0.5"/>
<text x="211.2" y="210.7" class="tk" text-anchor="end">2850</text>
<line x1="213.4" x2="214.9" y1="197.0" y2="197.0" stroke="#777" stroke-width="0.5"/>
<line x1="360.9" x2="362.4" y1="197.0" y2="197.0" stroke="#777" stroke-width="0.5"/>
<text x="211.2" y="198.6" class="tk" text-anchor="end">2900</text>
<line x1="213.4" x2="214.9" y1="185.2" y2="185.2" stroke="#777" stroke-width="0.5"/>
<line x1="360.9" x2="362.4" y1="185.2" y2="185.2" stroke="#777" stroke-width="0.5"/>
<text x="211.2" y="186.8" class="tk" text-anchor="end">2950</text>
<line x1="213.4" x2="214.9" y1="173.6" y2="173.6" stroke="#777" stroke-width="0.5"/>
<line x1="360.9" x2="362.4" y1="173.6" y2="173.6" stroke="#777" stroke-width="0.5"/>
<text x="211.2" y="175.2" class="tk" text-anchor="end">3000</text>
<line x1="213.4" x2="214.9" y1="162.2" y2="162.2" stroke="#777" stroke-width="0.5"/>
<line x1="360.9" x2="362.4" y1="162.2" y2="162.2" stroke="#777" stroke-width="0.5"/>
<text x="211.2" y="163.8" class="tk" text-anchor="end">3050</text>
<text x="213.4" y="284.5" class="tk" text-anchor="middle">0</text>
<line x1="263.1" x2="263.1" y1="276.8" y2="278.3" stroke="#777" stroke-width="0.5"/>
<line x1="263.1" x2="263.1" y1="161.1" y2="162.6" stroke="#777" stroke-width="0.5"/>
<text x="263.1" y="284.5" class="tk" text-anchor="middle">500</text>
<line x1="312.7" x2="312.7" y1="276.8" y2="278.3" stroke="#777" stroke-width="0.5"/>
<line x1="312.7" x2="312.7" y1="161.1" y2="162.6" stroke="#777" stroke-width="0.5"/>
<text x="312.7" y="284.5" class="tk" text-anchor="middle">1000</text>
<text x="362.4" y="284.5" class="tk" text-anchor="middle">1500</text>
<clipPath id="clipe"><rect x="210.4" y="158.1" width="154.99999999999997" height="123.20000000000002"/></clipPath>
<g clip-path="url(#clipe)">
<path d="M213.4,197.1L221.2,233.2L229.1,236.1L362.4,235.5" fill="none" stroke="#45d845" stroke-width="0.9" stroke-linejoin="round"/>
<circle cx="213.4" cy="197.1" r="1.7" fill="#7ee87e" stroke="#45d845" stroke-width="0.6"/>
<circle cx="221.2" cy="233.2" r="1.7" fill="#7ee87e" stroke="#45d845" stroke-width="0.6"/>
<circle cx="229.1" cy="236.1" r="1.7" fill="#7ee87e" stroke="#45d845" stroke-width="0.6"/>
<circle cx="236.9" cy="236.1" r="1.7" fill="#7ee87e" stroke="#45d845" stroke-width="0.6"/>
<circle cx="244.8" cy="236.0" r="1.7" fill="#7ee87e" stroke="#45d845" stroke-width="0.6"/>
<circle cx="252.6" cy="236.0" r="1.7" fill="#7ee87e" stroke="#45d845" stroke-width="0.6"/>
<circle cx="260.5" cy="236.0" r="1.7" fill="#7ee87e" stroke="#45d845" stroke-width="0.6"/>
<circle cx="268.3" cy="235.9" r="1.7" fill="#7ee87e" stroke="#45d845" stroke-width="0.6"/>
<circle cx="276.1" cy="235.9" r="1.7" fill="#7ee87e" stroke="#45d845" stroke-width="0.6"/>
<circle cx="284.0" cy="235.9" r="1.7" fill="#7ee87e" stroke="#45d845" stroke-width="0.6"/>
<circle cx="291.8" cy="235.8" r="1.7" fill="#7ee87e" stroke="#45d845" stroke-width="0.6"/>
<circle cx="299.7" cy="235.8" r="1.7" fill="#7ee87e" stroke="#45d845" stroke-width="0.6"/>
<circle cx="307.5" cy="235.7" r="1.7" fill="#7ee87e" stroke="#45d845" stroke-width="0.6"/>
<circle cx="315.3" cy="235.7" r="1.7" fill="#7ee87e" stroke="#45d845" stroke-width="0.6"/>
<circle cx="323.2" cy="235.7" r="1.7" fill="#7ee87e" stroke="#45d845" stroke-width="0.6"/>
<circle cx="331.0" cy="235.6" r="1.7" fill="#7ee87e" stroke="#45d845" stroke-width="0.6"/>
<circle cx="338.9" cy="235.6" r="1.7" fill="#7ee87e" stroke="#45d845" stroke-width="0.6"/>
<circle cx="346.7" cy="235.6" r="1.7" fill="#7ee87e" stroke="#45d845" stroke-width="0.6"/>
<circle cx="354.6" cy="235.5" r="1.7" fill="#7ee87e" stroke="#45d845" stroke-width="0.6"/>
<circle cx="362.4" cy="235.5" r="1.7" fill="#7ee87e" stroke="#45d845" stroke-width="0.6"/>
<path d="M213.4,183.3L221.2,225.9L229.1,228.4L236.9,229.5L244.8,239.0L252.6,241.9L260.5,242.3L362.4,242.7" fill="none" stroke="#e84850" stroke-width="0.9" stroke-linejoin="round"/>
<path d="M211.5,182.0L215.3,182.0L213.4,185.0Z" fill="#f07070" stroke="#e84850" stroke-width="0.5"/>
<path d="M219.3,224.6L223.1,224.6L221.2,227.6Z" fill="#f07070" stroke="#e84850" stroke-width="0.5"/>
<path d="M227.2,227.1L231.0,227.1L229.1,230.1Z" fill="#f07070" stroke="#e84850" stroke-width="0.5"/>
<path d="M235.0,228.2L238.8,228.2L236.9,231.2Z" fill="#f07070" stroke="#e84850" stroke-width="0.5"/>
<path d="M242.9,237.7L246.7,237.7L244.8,240.7Z" fill="#f07070" stroke="#e84850" stroke-width="0.5"/>
<path d="M250.7,240.6L254.5,240.6L252.6,243.6Z" fill="#f07070" stroke="#e84850" stroke-width="0.5"/>
<path d="M258.6,241.0L262.4,241.0L260.5,244.0Z" fill="#f07070" stroke="#e84850" stroke-width="0.5"/>
<path d="M266.4,241.0L270.2,241.0L268.3,244.0Z" fill="#f07070" stroke="#e84850" stroke-width="0.5"/>
<path d="M274.2,241.0L278.0,241.0L276.1,244.1Z" fill="#f07070" stroke="#e84850" stroke-width="0.5"/>
<path d="M282.1,241.1L285.9,241.1L284.0,244.1Z" fill="#f07070" stroke="#e84850" stroke-width="0.5"/>
<path d="M289.9,241.1L293.7,241.1L291.8,244.1Z" fill="#f07070" stroke="#e84850" stroke-width="0.5"/>
<path d="M297.8,241.1L301.6,241.1L299.7,244.2Z" fill="#f07070" stroke="#e84850" stroke-width="0.5"/>
<path d="M305.6,241.2L309.4,241.2L307.5,244.2Z" fill="#f07070" stroke="#e84850" stroke-width="0.5"/>
<path d="M313.4,241.2L317.2,241.2L315.3,244.2Z" fill="#f07070" stroke="#e84850" stroke-width="0.5"/>
<path d="M321.3,241.2L325.1,241.2L323.2,244.3Z" fill="#f07070" stroke="#e84850" stroke-width="0.5"/>
<path d="M329.1,241.2L332.9,241.2L331.0,244.3Z" fill="#f07070" stroke="#e84850" stroke-width="0.5"/>
<path d="M337.0,241.3L340.8,241.3L338.9,244.3Z" fill="#f07070" stroke="#e84850" stroke-width="0.5"/>
<path d="M344.8,241.3L348.6,241.3L346.7,244.3Z" fill="#f07070" stroke="#e84850" stroke-width="0.5"/>
<path d="M352.7,241.3L356.5,241.3L354.6,244.4Z" fill="#f07070" stroke="#e84850" stroke-width="0.5"/>
<path d="M360.5,241.4L364.3,241.4L362.4,244.4Z" fill="#f07070" stroke="#e84850" stroke-width="0.5"/>
<path d="M213.4,192.0L221.2,228.1L229.1,230.3L236.9,230.0L244.8,232.5L252.6,233.2L260.5,233.6L268.3,234.2L276.1,238.7L284.0,239.5L291.8,242.7L299.7,242.7L307.5,249.1L315.3,250.4L331.0,250.9L338.9,251.3L346.7,251.5L354.6,253.3L362.4,253.3" fill="none" stroke="#3a3a3a" stroke-width="0.9" stroke-linejoin="round"/>
<path d="M211.5,193.3L215.3,193.3L213.4,190.3Z" fill="#777777" stroke="#3a3a3a" stroke-width="0.5"/>
<path d="M219.3,229.4L223.1,229.4L221.2,226.4Z" fill="#777777" stroke="#3a3a3a" stroke-width="0.5"/>
<path d="M227.2,231.6L231.0,231.6L229.1,228.6Z" fill="#777777" stroke="#3a3a3a" stroke-width="0.5"/>
<path d="M235.0,231.3L238.8,231.3L236.9,228.3Z" fill="#777777" stroke="#3a3a3a" stroke-width="0.5"/>
<path d="M242.9,233.8L246.7,233.8L244.8,230.8Z" fill="#777777" stroke="#3a3a3a" stroke-width="0.5"/>
<path d="M250.7,234.5L254.5,234.5L252.6,231.5Z" fill="#777777" stroke="#3a3a3a" stroke-width="0.5"/>
<path d="M258.6,234.9L262.4,234.9L260.5,231.9Z" fill="#777777" stroke="#3a3a3a" stroke-width="0.5"/>
<path d="M266.4,235.5L270.2,235.5L268.3,232.5Z" fill="#777777" stroke="#3a3a3a" stroke-width="0.5"/>
<path d="M274.2,240.0L278.0,240.0L276.1,237.0Z" fill="#777777" stroke="#3a3a3a" stroke-width="0.5"/>
<path d="M282.1,240.8L285.9,240.8L284.0,237.8Z" fill="#777777" stroke="#3a3a3a" stroke-width="0.5"/>
<path d="M289.9,244.0L293.7,244.0L291.8,241.0Z" fill="#777777" stroke="#3a3a3a" stroke-width="0.5"/>
<path d="M297.8,244.0L301.6,244.0L299.7,241.0Z" fill="#777777" stroke="#3a3a3a" stroke-width="0.5"/>
<path d="M305.6,250.4L309.4,250.4L307.5,247.4Z" fill="#777777" stroke="#3a3a3a" stroke-width="0.5"/>
<path d="M313.4,251.7L317.2,251.7L315.3,248.7Z" fill="#777777" stroke="#3a3a3a" stroke-width="0.5"/>
<path d="M321.3,252.0L325.1,252.0L323.2,248.9Z" fill="#777777" stroke="#3a3a3a" stroke-width="0.5"/>
<path d="M329.1,252.2L332.9,252.2L331.0,249.2Z" fill="#777777" stroke="#3a3a3a" stroke-width="0.5"/>
<path d="M337.0,252.6L340.8,252.6L338.9,249.6Z" fill="#777777" stroke="#3a3a3a" stroke-width="0.5"/>
<path d="M344.8,252.8L348.6,252.8L346.7,249.8Z" fill="#777777" stroke="#3a3a3a" stroke-width="0.5"/>
<path d="M352.7,254.6L356.5,254.6L354.6,251.6Z" fill="#777777" stroke="#3a3a3a" stroke-width="0.5"/>
<path d="M360.5,254.6L364.3,254.6L362.4,251.6Z" fill="#777777" stroke="#3a3a3a" stroke-width="0.5"/>
<path d="M213.4,178.6L221.2,229.5L229.1,234.6L236.9,236.8L244.8,237.5L268.3,238.0L362.4,237.8" fill="none" stroke="#e02ee0" stroke-width="0.9" stroke-linejoin="round"/>
<circle cx="213.4" cy="178.6" r="1.4" fill="#e02ee0"/>
<circle cx="221.2" cy="229.5" r="1.4" fill="#e02ee0"/>
<circle cx="229.1" cy="234.6" r="1.4" fill="#e02ee0"/>
<circle cx="236.9" cy="236.8" r="1.4" fill="#e02ee0"/>
<circle cx="244.8" cy="237.5" r="1.4" fill="#e02ee0"/>
<circle cx="252.6" cy="237.7" r="1.4" fill="#e02ee0"/>
<circle cx="260.5" cy="237.8" r="1.4" fill="#e02ee0"/>
<circle cx="268.3" cy="238.0" r="1.4" fill="#e02ee0"/>
<circle cx="276.1" cy="238.0" r="1.4" fill="#e02ee0"/>
<circle cx="284.0" cy="238.0" r="1.4" fill="#e02ee0"/>
<circle cx="291.8" cy="237.9" r="1.4" fill="#e02ee0"/>
<circle cx="299.7" cy="237.9" r="1.4" fill="#e02ee0"/>
<circle cx="307.5" cy="237.9" r="1.4" fill="#e02ee0"/>
<circle cx="315.3" cy="237.9" r="1.4" fill="#e02ee0"/>
<circle cx="323.2" cy="237.9" r="1.4" fill="#e02ee0"/>
<circle cx="331.0" cy="237.9" r="1.4" fill="#e02ee0"/>
<circle cx="338.9" cy="237.9" r="1.4" fill="#e02ee0"/>
<circle cx="346.7" cy="237.8" r="1.4" fill="#e02ee0"/>
<circle cx="354.6" cy="237.8" r="1.4" fill="#e02ee0"/>
<circle cx="362.4" cy="237.8" r="1.4" fill="#e02ee0"/>
<path d="M213.4,200.7L221.2,245.5L229.1,257.2L236.9,261.5L244.8,262.3L252.6,262.7L260.5,268.5L268.3,273.9L276.1,275.1L284.0,276.4L362.4,278.0" fill="none" stroke="#3a3ae0" stroke-width="0.9" stroke-linejoin="round"/>
<path d="M211.7,200.7L214.7,198.8L214.7,202.6Z" fill="#7070f0" stroke="#3a3ae0" stroke-width="0.5"/>
<path d="M219.5,245.5L222.6,243.6L222.6,247.4Z" fill="#7070f0" stroke="#3a3ae0" stroke-width="0.5"/>
<path d="M227.4,257.2L230.4,255.3L230.4,259.1Z" fill="#7070f0" stroke="#3a3ae0" stroke-width="0.5"/>
<path d="M235.2,261.5L238.3,259.6L238.3,263.4Z" fill="#7070f0" stroke="#3a3ae0" stroke-width="0.5"/>
<path d="M243.1,262.3L246.1,260.4L246.1,264.2Z" fill="#7070f0" stroke="#3a3ae0" stroke-width="0.5"/>
<path d="M250.9,262.7L253.9,260.8L253.9,264.6Z" fill="#7070f0" stroke="#3a3ae0" stroke-width="0.5"/>
<path d="M258.7,268.5L261.8,266.6L261.8,270.4Z" fill="#7070f0" stroke="#3a3ae0" stroke-width="0.5"/>
<path d="M266.6,273.9L269.6,272.0L269.6,275.8Z" fill="#7070f0" stroke="#3a3ae0" stroke-width="0.5"/>
<path d="M274.4,275.1L277.5,273.2L277.5,277.0Z" fill="#7070f0" stroke="#3a3ae0" stroke-width="0.5"/>
<path d="M282.3,276.4L285.3,274.5L285.3,278.3Z" fill="#7070f0" stroke="#3a3ae0" stroke-width="0.5"/>
<path d="M290.1,276.6L293.2,274.7L293.2,278.5Z" fill="#7070f0" stroke="#3a3ae0" stroke-width="0.5"/>
<path d="M298.0,276.7L301.0,274.8L301.0,278.6Z" fill="#7070f0" stroke="#3a3ae0" stroke-width="0.5"/>
<path d="M305.8,276.9L308.8,275.0L308.8,278.8Z" fill="#7070f0" stroke="#3a3ae0" stroke-width="0.5"/>
<path d="M313.6,277.0L316.7,275.1L316.7,278.9Z" fill="#7070f0" stroke="#3a3ae0" stroke-width="0.5"/>
<path d="M321.5,277.2L324.5,275.3L324.5,279.1Z" fill="#7070f0" stroke="#3a3ae0" stroke-width="0.5"/>
<path d="M329.3,277.4L332.4,275.5L332.4,279.3Z" fill="#7070f0" stroke="#3a3ae0" stroke-width="0.5"/>
<path d="M337.2,277.5L340.2,275.6L340.2,279.4Z" fill="#7070f0" stroke="#3a3ae0" stroke-width="0.5"/>
<path d="M345.0,277.7L348.0,275.8L348.0,279.6Z" fill="#7070f0" stroke="#3a3ae0" stroke-width="0.5"/>
<path d="M352.8,277.8L355.9,275.9L355.9,279.7Z" fill="#7070f0" stroke="#3a3ae0" stroke-width="0.5"/>
<path d="M360.7,278.0L363.7,276.1L363.7,279.9Z" fill="#7070f0" stroke="#3a3ae0" stroke-width="0.5"/>
<path d="M213.4,189.1L221.2,222.3L229.1,226.3L236.9,228.1L244.8,228.5L268.3,229.3L362.4,229.6" fill="none" stroke="#28e0e0" stroke-width="0.9" stroke-linejoin="round"/>
<circle cx="213.4" cy="189.1" r="1.2" fill="#28e0e0"/><path d="M211.9,189.1H214.9M213.4,187.6V190.6" stroke="#28e0e0" stroke-width="0.5"/>
<circle cx="221.2" cy="222.3" r="1.2" fill="#28e0e0"/><path d="M219.7,222.3H222.7M221.2,220.8V223.8" stroke="#28e0e0" stroke-width="0.5"/>
<circle cx="229.1" cy="226.3" r="1.2" fill="#28e0e0"/><path d="M227.6,226.3H230.6M229.1,224.8V227.8" stroke="#28e0e0" stroke-width="0.5"/>
<circle cx="236.9" cy="228.1" r="1.2" fill="#28e0e0"/><path d="M235.4,228.1H238.4M236.9,226.6V229.6" stroke="#28e0e0" stroke-width="0.5"/>
<circle cx="244.8" cy="228.5" r="1.2" fill="#28e0e0"/><path d="M243.3,228.5H246.3M244.8,227.0V230.0" stroke="#28e0e0" stroke-width="0.5"/>
<circle cx="252.6" cy="228.8" r="1.2" fill="#28e0e0"/><path d="M251.1,228.8H254.1M252.6,227.3V230.3" stroke="#28e0e0" stroke-width="0.5"/>
<circle cx="260.5" cy="229.0" r="1.2" fill="#28e0e0"/><path d="M259.0,229.0H262.0M260.5,227.5V230.5" stroke="#28e0e0" stroke-width="0.5"/>
<circle cx="268.3" cy="229.3" r="1.2" fill="#28e0e0"/><path d="M266.8,229.3H269.8M268.3,227.8V230.8" stroke="#28e0e0" stroke-width="0.5"/>
<circle cx="276.1" cy="229.3" r="1.2" fill="#28e0e0"/><path d="M274.6,229.3H277.6M276.1,227.8V230.8" stroke="#28e0e0" stroke-width="0.5"/>
<circle cx="284.0" cy="229.3" r="1.2" fill="#28e0e0"/><path d="M282.5,229.3H285.5M284.0,227.8V230.8" stroke="#28e0e0" stroke-width="0.5"/>
<circle cx="291.8" cy="229.4" r="1.2" fill="#28e0e0"/><path d="M290.3,229.4H293.3M291.8,227.9V230.9" stroke="#28e0e0" stroke-width="0.5"/>
<circle cx="299.7" cy="229.4" r="1.2" fill="#28e0e0"/><path d="M298.2,229.4H301.2M299.7,227.9V230.9" stroke="#28e0e0" stroke-width="0.5"/>
<circle cx="307.5" cy="229.4" r="1.2" fill="#28e0e0"/><path d="M306.0,229.4H309.0M307.5,227.9V230.9" stroke="#28e0e0" stroke-width="0.5"/>
<circle cx="315.3" cy="229.4" r="1.2" fill="#28e0e0"/><path d="M313.8,229.4H316.8M315.3,227.9V230.9" stroke="#28e0e0" stroke-width="0.5"/>
<circle cx="323.2" cy="229.5" r="1.2" fill="#28e0e0"/><path d="M321.7,229.5H324.7M323.2,228.0V231.0" stroke="#28e0e0" stroke-width="0.5"/>
<circle cx="331.0" cy="229.5" r="1.2" fill="#28e0e0"/><path d="M329.5,229.5H332.5M331.0,228.0V231.0" stroke="#28e0e0" stroke-width="0.5"/>
<circle cx="338.9" cy="229.5" r="1.2" fill="#28e0e0"/><path d="M337.4,229.5H340.4M338.9,228.0V231.0" stroke="#28e0e0" stroke-width="0.5"/>
<circle cx="346.7" cy="229.6" r="1.2" fill="#28e0e0"/><path d="M345.2,229.6H348.2M346.7,228.1V231.1" stroke="#28e0e0" stroke-width="0.5"/>
<circle cx="354.6" cy="229.6" r="1.2" fill="#28e0e0"/><path d="M353.1,229.6H356.1M354.6,228.1V231.1" stroke="#28e0e0" stroke-width="0.5"/>
<circle cx="362.4" cy="229.6" r="1.2" fill="#28e0e0"/><path d="M360.9,229.6H363.9M362.4,228.1V231.1" stroke="#28e0e0" stroke-width="0.5"/>
<path d="M213.4,161.2L221.2,166.3L244.8,166.5L252.6,195.6L260.5,201.9L331.0,202.3L338.9,208.2L362.4,208.3" fill="none" stroke="#d9a030" stroke-width="0.9" stroke-linejoin="round"/>
<path d="M211.5,161.2L213.4,159.3L215.3,161.2L213.4,163.1Z" fill="#e0b050" stroke="#d9a030" stroke-width="0.5"/>
<path d="M219.3,166.3L221.2,164.4L223.1,166.3L221.2,168.2Z" fill="#e0b050" stroke="#d9a030" stroke-width="0.5"/>
<path d="M227.2,166.4L229.1,164.5L231.0,166.4L229.1,168.3Z" fill="#e0b050" stroke="#d9a030" stroke-width="0.5"/>
<path d="M235.0,166.4L236.9,164.5L238.8,166.4L236.9,168.3Z" fill="#e0b050" stroke="#d9a030" stroke-width="0.5"/>
<path d="M242.9,166.5L244.8,164.6L246.7,166.5L244.8,168.4Z" fill="#e0b050" stroke="#d9a030" stroke-width="0.5"/>
<path d="M250.7,195.6L252.6,193.7L254.5,195.6L252.6,197.5Z" fill="#e0b050" stroke="#d9a030" stroke-width="0.5"/>
<path d="M258.6,201.9L260.5,200.0L262.4,201.9L260.5,203.8Z" fill="#e0b050" stroke="#d9a030" stroke-width="0.5"/>
<path d="M266.4,201.9L268.3,200.0L270.2,201.9L268.3,203.8Z" fill="#e0b050" stroke="#d9a030" stroke-width="0.5"/>
<path d="M274.2,202.0L276.1,200.1L278.0,202.0L276.1,203.9Z" fill="#e0b050" stroke="#d9a030" stroke-width="0.5"/>
<path d="M282.1,202.0L284.0,200.1L285.9,202.0L284.0,203.9Z" fill="#e0b050" stroke="#d9a030" stroke-width="0.5"/>
<path d="M289.9,202.1L291.8,200.2L293.7,202.1L291.8,204.0Z" fill="#e0b050" stroke="#d9a030" stroke-width="0.5"/>
<path d="M297.8,202.1L299.7,200.2L301.6,202.1L299.7,204.0Z" fill="#e0b050" stroke="#d9a030" stroke-width="0.5"/>
<path d="M305.6,202.2L307.5,200.3L309.4,202.2L307.5,204.1Z" fill="#e0b050" stroke="#d9a030" stroke-width="0.5"/>
<path d="M313.4,202.2L315.3,200.3L317.2,202.2L315.3,204.1Z" fill="#e0b050" stroke="#d9a030" stroke-width="0.5"/>
<path d="M321.3,202.3L323.2,200.4L325.1,202.3L323.2,204.2Z" fill="#e0b050" stroke="#d9a030" stroke-width="0.5"/>
<path d="M329.1,202.3L331.0,200.4L332.9,202.3L331.0,204.2Z" fill="#e0b050" stroke="#d9a030" stroke-width="0.5"/>
<path d="M337.0,208.2L338.9,206.3L340.8,208.2L338.9,210.1Z" fill="#e0b050" stroke="#d9a030" stroke-width="0.5"/>
<path d="M344.8,208.2L346.7,206.3L348.6,208.2L346.7,210.1Z" fill="#e0b050" stroke="#d9a030" stroke-width="0.5"/>
<path d="M352.7,208.3L354.6,206.4L356.5,208.3L354.6,210.2Z" fill="#e0b050" stroke="#d9a030" stroke-width="0.5"/>
<path d="M360.5,208.3L362.4,206.4L364.3,208.3L362.4,210.2Z" fill="#e0b050" stroke="#d9a030" stroke-width="0.5"/>
</g>
<text x="286.5" y="158.9" class="tt" text-anchor="middle">F23</text>
<rect x="320.9" y="164.4" width="39.30000000000001" height="42.900000000000006" fill="#fff" stroke="#9a9a9a" stroke-width="0.5"/>
<line x1="322.4" x2="337.4" y1="168.5" y2="168.5" stroke="#45d845" stroke-width="0.9"/>
<circle cx="329.9" cy="168.5" r="1.7" fill="#7ee87e" stroke="#45d845" stroke-width="0.6"/>
<text x="338.6" y="170.2" class="lg">M1SCSO</text>
<line x1="322.4" x2="337.4" y1="174.4" y2="174.4" stroke="#e84850" stroke-width="0.9"/>
<path d="M328.0,173.1L331.8,173.1L329.9,176.1Z" fill="#f07070" stroke="#e84850" stroke-width="0.5"/>
<text x="338.6" y="176.1" class="lg">SCSO</text>
<line x1="322.4" x2="337.4" y1="180.4" y2="180.4" stroke="#3a3a3a" stroke-width="0.9"/>
<path d="M328.0,181.7L331.8,181.7L329.9,178.7Z" fill="#777777" stroke="#3a3a3a" stroke-width="0.5"/>
<text x="338.6" y="182.1" class="lg">SMOA</text>
<line x1="322.4" x2="337.4" y1="186.3" y2="186.3" stroke="#e02ee0" stroke-width="0.9"/>
<circle cx="329.9" cy="186.3" r="1.4" fill="#e02ee0"/>
<text x="338.6" y="188.0" class="lg">WOA</text>
<line x1="322.4" x2="337.4" y1="192.3" y2="192.3" stroke="#3a3ae0" stroke-width="0.9"/>
<path d="M328.2,192.3L331.2,190.4L331.2,194.2Z" fill="#7070f0" stroke="#3a3ae0" stroke-width="0.5"/>
<text x="338.6" y="194.0" class="lg">BWO</text>
<line x1="322.4" x2="337.4" y1="198.2" y2="198.2" stroke="#28e0e0" stroke-width="0.9"/>
<circle cx="329.9" cy="198.2" r="1.2" fill="#28e0e0"/><path d="M328.4,198.2H331.4M329.9,196.7V199.7" stroke="#28e0e0" stroke-width="0.5"/>
<text x="338.6" y="199.9" class="lg">ACO</text>
<line x1="322.4" x2="337.4" y1="204.2" y2="204.2" stroke="#d9a030" stroke-width="0.9"/>
<path d="M328.0,204.2L329.9,202.3L331.8,204.2L329.9,206.1Z" fill="#e0b050" stroke="#d9a030" stroke-width="0.5"/>
<text x="338.6" y="205.9" class="lg">RSA</text>
<text transform="translate(193.9,219.3) scale(1.08,1) rotate(-90)" class="yl" text-anchor="middle">Mean of objective function values</text>
<text x="285.4" y="293.5" class="xl" text-anchor="middle">Iteration</text>
<text x="355.5" y="293.5" class="tag" text-anchor="middle">(e)</text>
<line x1="392.7" x2="538.7" y1="275.9" y2="275.9" stroke="#f1f1f1" stroke-width="0.5"/>
<line x1="392.7" x2="538.7" y1="272.9" y2="272.9" stroke="#f1f1f1" stroke-width="0.5"/>
<line x1="392.7" x2="538.7" y1="269.9" y2="269.9" stroke="#f1f1f1" stroke-width="0.5"/>
<line x1="392.7" x2="538.7" y1="267.0" y2="267.0" stroke="#f1f1f1" stroke-width="0.5"/>
<line x1="392.7" x2="538.7" y1="264.1" y2="264.1" stroke="#f1f1f1" stroke-width="0.5"/>
<line x1="392.7" x2="538.7" y1="261.2" y2="261.2" stroke="#f1f1f1" stroke-width="0.5"/>
<line x1="392.7" x2="538.7" y1="258.4" y2="258.4" stroke="#f1f1f1" stroke-width="0.5"/>
<line x1="392.7" x2="538.7" y1="255.6" y2="255.6" stroke="#f1f1f1" stroke-width="0.5"/>
<line x1="392.7" x2="538.7" y1="252.8" y2="252.8" stroke="#f1f1f1" stroke-width="0.5"/>
<line x1="392.7" x2="538.7" y1="250.1" y2="250.1" stroke="#f1f1f1" stroke-width="0.5"/>
<line x1="392.7" x2="538.7" y1="247.4" y2="247.4" stroke="#f1f1f1" stroke-width="0.5"/>
<line x1="392.7" x2="538.7" y1="244.8" y2="244.8" stroke="#f1f1f1" stroke-width="0.5"/>
<line x1="392.7" x2="538.7" y1="242.2" y2="242.2" stroke="#f1f1f1" stroke-width="0.5"/>
<line x1="392.7" x2="538.7" y1="239.6" y2="239.6" stroke="#f1f1f1" stroke-width="0.5"/>
<line x1="392.7" x2="538.7" y1="237.0" y2="237.0" stroke="#f1f1f1" stroke-width="0.5"/>
<line x1="392.7" x2="538.7" y1="234.5" y2="234.5" stroke="#f1f1f1" stroke-width="0.5"/>
<line x1="392.7" x2="538.7" y1="232.0" y2="232.0" stroke="#f1f1f1" stroke-width="0.5"/>
<line x1="392.7" x2="538.7" y1="229.5" y2="229.5" stroke="#f1f1f1" stroke-width="0.5"/>
<line x1="392.7" x2="538.7" y1="227.0" y2="227.0" stroke="#f1f1f1" stroke-width="0.5"/>
<line x1="392.7" x2="538.7" y1="224.6" y2="224.6" stroke="#f1f1f1" stroke-width="0.5"/>
<line x1="392.7" x2="538.7" y1="222.2" y2="222.2" stroke="#f1f1f1" stroke-width="0.5"/>
<line x1="392.7" x2="538.7" y1="219.8" y2="219.8" stroke="#f1f1f1" stroke-width="0.5"/>
<line x1="392.7" x2="538.7" y1="217.5" y2="217.5" stroke="#f1f1f1" stroke-width="0.5"/>
<line x1="392.7" x2="538.7" y1="215.1" y2="215.1" stroke="#f1f1f1" stroke-width="0.5"/>
<line x1="392.7" x2="538.7" y1="212.8" y2="212.8" stroke="#f1f1f1" stroke-width="0.5"/>
<line x1="392.7" x2="538.7" y1="210.6" y2="210.6" stroke="#f1f1f1" stroke-width="0.5"/>
<line x1="392.7" x2="538.7" y1="208.3" y2="208.3" stroke="#f1f1f1" stroke-width="0.5"/>
<line x1="392.7" x2="538.7" y1="206.1" y2="206.1" stroke="#f1f1f1" stroke-width="0.5"/>
<line x1="392.7" x2="538.7" y1="203.9" y2="203.9" stroke="#f1f1f1" stroke-width="0.5"/>
<line x1="392.7" x2="538.7" y1="201.7" y2="201.7" stroke="#f1f1f1" stroke-width="0.5"/>
<line x1="392.7" x2="538.7" y1="199.5" y2="199.5" stroke="#f1f1f1" stroke-width="0.5"/>
<line x1="392.7" x2="538.7" y1="197.4" y2="197.4" stroke="#f1f1f1" stroke-width="0.5"/>
<line x1="392.7" x2="538.7" y1="195.2" y2="195.2" stroke="#f1f1f1" stroke-width="0.5"/>
<line x1="392.7" x2="538.7" y1="193.1" y2="193.1" stroke="#f1f1f1" stroke-width="0.5"/>
<line x1="392.7" x2="538.7" y1="191.1" y2="191.1" stroke="#f1f1f1" stroke-width="0.5"/>
<line x1="392.7" x2="538.7" y1="189.0" y2="189.0" stroke="#f1f1f1" stroke-width="0.5"/>
<line x1="392.7" x2="538.7" y1="186.9" y2="186.9" stroke="#f1f1f1" stroke-width="0.5"/>
<line x1="392.7" x2="538.7" y1="184.9" y2="184.9" stroke="#f1f1f1" stroke-width="0.5"/>
<line x1="392.7" x2="538.7" y1="182.9" y2="182.9" stroke="#f1f1f1" stroke-width="0.5"/>
<line x1="392.7" x2="538.7" y1="180.9" y2="180.9" stroke="#f1f1f1" stroke-width="0.5"/>
<line x1="392.7" x2="538.7" y1="178.9" y2="178.9" stroke="#f1f1f1" stroke-width="0.5"/>
<line x1="392.7" x2="538.7" y1="177.0" y2="177.0" stroke="#f1f1f1" stroke-width="0.5"/>
<line x1="392.7" x2="538.7" y1="175.0" y2="175.0" stroke="#f1f1f1" stroke-width="0.5"/>
<line x1="392.7" x2="538.7" y1="173.1" y2="173.1" stroke="#f1f1f1" stroke-width="0.5"/>
<line x1="392.7" x2="538.7" y1="171.2" y2="171.2" stroke="#f1f1f1" stroke-width="0.5"/>
<line x1="392.7" x2="538.7" y1="169.3" y2="169.3" stroke="#f1f1f1" stroke-width="0.5"/>
<line x1="392.7" x2="538.7" y1="167.4" y2="167.4" stroke="#f1f1f1" stroke-width="0.5"/>
<line x1="392.7" x2="538.7" y1="165.6" y2="165.6" stroke="#f1f1f1" stroke-width="0.5"/>
<line x1="392.7" x2="538.7" y1="163.7" y2="163.7" stroke="#f1f1f1" stroke-width="0.5"/>
<line x1="392.7" x2="538.7" y1="271.4" y2="271.4" stroke="#e6e6e6" stroke-width="0.5"/>
<line x1="392.7" x2="538.7" y1="257.0" y2="257.0" stroke="#e6e6e6" stroke-width="0.5"/>
<line x1="392.7" x2="538.7" y1="243.5" y2="243.5" stroke="#e6e6e6" stroke-width="0.5"/>
<line x1="392.7" x2="538.7" y1="230.7" y2="230.7" stroke="#e6e6e6" stroke-width="0.5"/>
<line x1="392.7" x2="538.7" y1="218.6" y2="218.6" stroke="#e6e6e6" stroke-width="0.5"/>
<line x1="392.7" x2="538.7" y1="207.2" y2="207.2" stroke="#e6e6e6" stroke-width="0.5"/>
<line x1="392.7" x2="538.7" y1="196.3" y2="196.3" stroke="#e6e6e6" stroke-width="0.5"/>
<line x1="392.7" x2="538.7" y1="185.9" y2="185.9" stroke="#e6e6e6" stroke-width="0.5"/>
<line x1="392.7" x2="538.7" y1="176.0" y2="176.0" stroke="#e6e6e6" stroke-width="0.5"/>
<line x1="392.7" x2="538.7" y1="166.5" y2="166.5" stroke="#e6e6e6" stroke-width="0.5"/>
<line x1="412.2" x2="412.2" y1="161.9" y2="278.3" stroke="#e6e6e6" stroke-width="0.5"/>
<line x1="431.6" x2="431.6" y1="161.9" y2="278.3" stroke="#e6e6e6" stroke-width="0.5"/>
<line x1="451.1" x2="451.1" y1="161.9" y2="278.3" stroke="#e6e6e6" stroke-width="0.5"/>
<line x1="470.6" x2="470.6" y1="161.9" y2="278.3" stroke="#e6e6e6" stroke-width="0.5"/>
<line x1="490.0" x2="490.0" y1="161.9" y2="278.3" stroke="#e6e6e6" stroke-width="0.5"/>
<line x1="509.5" x2="509.5" y1="161.9" y2="278.3" stroke="#e6e6e6" stroke-width="0.5"/>
<line x1="529.0" x2="529.0" y1="161.9" y2="278.3" stroke="#e6e6e6" stroke-width="0.5"/>
<rect x="392.7" y="161.9" width="146.00000000000006" height="116.4" fill="none" stroke="#707070" stroke-width="0.7"/>
<line x1="392.7" x2="394.2" y1="271.4" y2="271.4" stroke="#777" stroke-width="0.5"/>
<line x1="537.2" x2="538.7" y1="271.4" y2="271.4" stroke="#777" stroke-width="0.5"/>
<text x="390.5" y="273.0" class="tk" text-anchor="end">3000</text>
<line x1="392.7" x2="394.2" y1="257.0" y2="257.0" stroke="#777" stroke-width="0.5"/>
<line x1="537.2" x2="538.7" y1="257.0" y2="257.0" stroke="#777" stroke-width="0.5"/>
<text x="390.5" y="258.6" class="tk" text-anchor="end">3200</text>
<line x1="392.7" x2="394.2" y1="243.5" y2="243.5" stroke="#777" stroke-width="0.5"/>
<line x1="537.2" x2="538.7" y1="243.5" y2="243.5" stroke="#777" stroke-width="0.5"/>
<text x="390.5" y="245.1" class="tk" text-anchor="end">3400</text>
<line x1="392.7" x2="394.2" y1="230.7" y2="230.7" stroke="#777" stroke-width="0.5"/>
<line x1="537.2" x2="538.7" y1="230.7" y2="230.7" stroke="#777" stroke-width="0.5"/>
<text x="390.5" y="232.3" class="tk" text-anchor="end">3600</text>
<line x1="392.7" x2="394.2" y1="218.6" y2="218.6" stroke="#777" stroke-width="0.5"/>
<line x1="537.2" x2="538.7" y1="218.6" y2="218.6" stroke="#777" stroke-width="0.5"/>
<text x="390.5" y="220.2" class="tk" text-anchor="end">3800</text>
<line x1="392.7" x2="394.2" y1="207.2" y2="207.2" stroke="#777" stroke-width="0.5"/>
<line x1="537.2" x2="538.7" y1="207.2" y2="207.2" stroke="#777" stroke-width="0.5"/>
<text x="390.5" y="208.8" class="tk" text-anchor="end">4000</text>
<line x1="392.7" x2="394.2" y1="196.3" y2="196.3" stroke="#777" stroke-width="0.5"/>
<line x1="537.2" x2="538.7" y1="196.3" y2="196.3" stroke="#777" stroke-width="0.5"/>
<text x="390.5" y="197.9" class="tk" text-anchor="end">4200</text>
<line x1="392.7" x2="394.2" y1="185.9" y2="185.9" stroke="#777" stroke-width="0.5"/>
<line x1="537.2" x2="538.7" y1="185.9" y2="185.9" stroke="#777" stroke-width="0.5"/>
<text x="390.5" y="187.5" class="tk" text-anchor="end">4400</text>
<line x1="392.7" x2="394.2" y1="176.0" y2="176.0" stroke="#777" stroke-width="0.5"/>
<line x1="537.2" x2="538.7" y1="176.0" y2="176.0" stroke="#777" stroke-width="0.5"/>
<text x="390.5" y="177.6" class="tk" text-anchor="end">4600</text>
<line x1="392.7" x2="394.2" y1="166.5" y2="166.5" stroke="#777" stroke-width="0.5"/>
<line x1="537.2" x2="538.7" y1="166.5" y2="166.5" stroke="#777" stroke-width="0.5"/>
<text x="390.5" y="168.1" class="tk" text-anchor="end">4800</text>
<text x="392.7" y="284.5" class="tk" text-anchor="middle">0</text>
<line x1="412.2" x2="412.2" y1="276.8" y2="278.3" stroke="#777" stroke-width="0.5"/>
<line x1="412.2" x2="412.2" y1="161.9" y2="163.4" stroke="#777" stroke-width="0.5"/>
<text x="412.2" y="284.5" class="tk" text-anchor="middle">200</text>
<line x1="431.6" x2="431.6" y1="276.8" y2="278.3" stroke="#777" stroke-width="0.5"/>
<line x1="431.6" x2="431.6" y1="161.9" y2="163.4" stroke="#777" stroke-width="0.5"/>
<text x="431.6" y="284.5" class="tk" text-anchor="middle">400</text>
<line x1="451.1" x2="451.1" y1="276.8" y2="278.3" stroke="#777" stroke-width="0.5"/>
<line x1="451.1" x2="451.1" y1="161.9" y2="163.4" stroke="#777" stroke-width="0.5"/>
<text x="451.1" y="284.5" class="tk" text-anchor="middle">600</text>
<line x1="470.6" x2="470.6" y1="276.8" y2="278.3" stroke="#777" stroke-width="0.5"/>
<line x1="470.6" x2="470.6" y1="161.9" y2="163.4" stroke="#777" stroke-width="0.5"/>
<text x="470.6" y="284.5" class="tk" text-anchor="middle">800</text>
<line x1="490.0" x2="490.0" y1="276.8" y2="278.3" stroke="#777" stroke-width="0.5"/>
<line x1="490.0" x2="490.0" y1="161.9" y2="163.4" stroke="#777" stroke-width="0.5"/>
<text x="490.0" y="284.5" class="tk" text-anchor="middle">1000</text>
<line x1="509.5" x2="509.5" y1="276.8" y2="278.3" stroke="#777" stroke-width="0.5"/>
<line x1="509.5" x2="509.5" y1="161.9" y2="163.4" stroke="#777" stroke-width="0.5"/>
<text x="509.5" y="284.5" class="tk" text-anchor="middle">1200</text>
<line x1="529.0" x2="529.0" y1="276.8" y2="278.3" stroke="#777" stroke-width="0.5"/>
<line x1="529.0" x2="529.0" y1="161.9" y2="163.4" stroke="#777" stroke-width="0.5"/>
<text x="529.0" y="284.5" class="tk" text-anchor="middle">1400</text>
<clipPath id="clipf"><rect x="389.7" y="158.9" width="152.00000000000006" height="122.4"/></clipPath>
<g clip-path="url(#clipf)">
<path d="M392.7,239.0L400.4,274.3L408.1,275.0L538.7,276.5" fill="none" stroke="#45d845" stroke-width="0.9" stroke-linejoin="round"/>
<circle cx="392.7" cy="239.0" r="1.7" fill="#7ee87e" stroke="#45d845" stroke-width="0.6"/>
<circle cx="400.4" cy="274.3" r="1.7" fill="#7ee87e" stroke="#45d845" stroke-width="0.6"/>
<circle cx="408.1" cy="275.0" r="1.7" fill="#7ee87e" stroke="#45d845" stroke-width="0.6"/>
<circle cx="415.8" cy="275.1" r="1.7" fill="#7ee87e" stroke="#45d845" stroke-width="0.6"/>
<circle cx="423.4" cy="275.2" r="1.7" fill="#7ee87e" stroke="#45d845" stroke-width="0.6"/>
<circle cx="431.1" cy="275.3" r="1.7" fill="#7ee87e" stroke="#45d845" stroke-width="0.6"/>
<circle cx="438.8" cy="275.4" r="1.7" fill="#7ee87e" stroke="#45d845" stroke-width="0.6"/>
<circle cx="446.5" cy="275.4" r="1.7" fill="#7ee87e" stroke="#45d845" stroke-width="0.6"/>
<circle cx="454.2" cy="275.5" r="1.7" fill="#7ee87e" stroke="#45d845" stroke-width="0.6"/>
<circle cx="461.9" cy="275.6" r="1.7" fill="#7ee87e" stroke="#45d845" stroke-width="0.6"/>
<circle cx="469.5" cy="275.7" r="1.7" fill="#7ee87e" stroke="#45d845" stroke-width="0.6"/>
<circle cx="477.2" cy="275.8" r="1.7" fill="#7ee87e" stroke="#45d845" stroke-width="0.6"/>
<circle cx="484.9" cy="275.9" r="1.7" fill="#7ee87e" stroke="#45d845" stroke-width="0.6"/>
<circle cx="492.6" cy="276.0" r="1.7" fill="#7ee87e" stroke="#45d845" stroke-width="0.6"/>
<circle cx="500.3" cy="276.1" r="1.7" fill="#7ee87e" stroke="#45d845" stroke-width="0.6"/>
<circle cx="508.0" cy="276.1" r="1.7" fill="#7ee87e" stroke="#45d845" stroke-width="0.6"/>
<circle cx="515.6" cy="276.2" r="1.7" fill="#7ee87e" stroke="#45d845" stroke-width="0.6"/>
<circle cx="523.3" cy="276.3" r="1.7" fill="#7ee87e" stroke="#45d845" stroke-width="0.6"/>
<circle cx="531.0" cy="276.4" r="1.7" fill="#7ee87e" stroke="#45d845" stroke-width="0.6"/>
<path d="M392.7,161.9L400.4,274.3L538.7,275.5" fill="none" stroke="#e84850" stroke-width="0.9" stroke-linejoin="round"/>
<path d="M390.8,160.6L394.6,160.6L392.7,163.6Z" fill="#f07070" stroke="#e84850" stroke-width="0.5"/>
<path d="M398.5,273.0L402.3,273.0L400.4,276.0Z" fill="#f07070" stroke="#e84850" stroke-width="0.5"/>
<path d="M406.2,273.0L410.0,273.0L408.1,276.1Z" fill="#f07070" stroke="#e84850" stroke-width="0.5"/>
<path d="M413.9,273.1L417.7,273.1L415.8,276.1Z" fill="#f07070" stroke="#e84850" stroke-width="0.5"/>
<path d="M421.5,273.2L425.3,273.2L423.4,276.2Z" fill="#f07070" stroke="#e84850" stroke-width="0.5"/>
<path d="M429.2,273.2L433.0,273.2L431.1,276.3Z" fill="#f07070" stroke="#e84850" stroke-width="0.5"/>
<path d="M436.9,273.3L440.7,273.3L438.8,276.3Z" fill="#f07070" stroke="#e84850" stroke-width="0.5"/>
<path d="M444.6,273.4L448.4,273.4L446.5,276.4Z" fill="#f07070" stroke="#e84850" stroke-width="0.5"/>
<path d="M452.3,273.4L456.1,273.4L454.2,276.5Z" fill="#f07070" stroke="#e84850" stroke-width="0.5"/>
<path d="M460.0,273.5L463.8,273.5L461.9,276.5Z" fill="#f07070" stroke="#e84850" stroke-width="0.5"/>
<path d="M467.6,273.6L471.4,273.6L469.5,276.6Z" fill="#f07070" stroke="#e84850" stroke-width="0.5"/>
<path d="M475.3,273.6L479.1,273.6L477.2,276.7Z" fill="#f07070" stroke="#e84850" stroke-width="0.5"/>
<path d="M483.0,273.7L486.8,273.7L484.9,276.7Z" fill="#f07070" stroke="#e84850" stroke-width="0.5"/>
<path d="M490.7,273.8L494.5,273.8L492.6,276.8Z" fill="#f07070" stroke="#e84850" stroke-width="0.5"/>
<path d="M498.4,273.8L502.2,273.8L500.3,276.9Z" fill="#f07070" stroke="#e84850" stroke-width="0.5"/>
<path d="M506.1,273.9L509.9,273.9L508.0,276.9Z" fill="#f07070" stroke="#e84850" stroke-width="0.5"/>
<path d="M513.7,274.0L517.5,274.0L515.6,277.0Z" fill="#f07070" stroke="#e84850" stroke-width="0.5"/>
<path d="M521.4,274.0L525.2,274.0L523.3,277.1Z" fill="#f07070" stroke="#e84850" stroke-width="0.5"/>
<path d="M529.1,274.1L532.9,274.1L531.0,277.1Z" fill="#f07070" stroke="#e84850" stroke-width="0.5"/>
<path d="M392.7,195.6L400.4,273.8L538.7,276.0" fill="none" stroke="#3a3a3a" stroke-width="0.9" stroke-linejoin="round"/>
<path d="M390.8,196.9L394.6,196.9L392.7,193.9Z" fill="#777777" stroke="#3a3a3a" stroke-width="0.5"/>
<path d="M398.5,275.1L402.3,275.1L400.4,272.1Z" fill="#777777" stroke="#3a3a3a" stroke-width="0.5"/>
<path d="M406.2,275.3L410.0,275.3L408.1,272.2Z" fill="#777777" stroke="#3a3a3a" stroke-width="0.5"/>
<path d="M413.9,275.4L417.7,275.4L415.8,272.3Z" fill="#777777" stroke="#3a3a3a" stroke-width="0.5"/>
<path d="M421.5,275.5L425.3,275.5L423.4,272.5Z" fill="#777777" stroke="#3a3a3a" stroke-width="0.5"/>
<path d="M429.2,275.6L433.0,275.6L431.1,272.6Z" fill="#777777" stroke="#3a3a3a" stroke-width="0.5"/>
<path d="M436.9,275.7L440.7,275.7L438.8,272.7Z" fill="#777777" stroke="#3a3a3a" stroke-width="0.5"/>
<path d="M444.6,275.9L448.4,275.9L446.5,272.8Z" fill="#777777" stroke="#3a3a3a" stroke-width="0.5"/>
<path d="M452.3,276.0L456.1,276.0L454.2,272.9Z" fill="#777777" stroke="#3a3a3a" stroke-width="0.5"/>
<path d="M460.0,276.1L463.8,276.1L461.9,273.1Z" fill="#777777" stroke="#3a3a3a" stroke-width="0.5"/>
<path d="M467.6,276.2L471.4,276.2L469.5,273.2Z" fill="#777777" stroke="#3a3a3a" stroke-width="0.5"/>
<path d="M475.3,276.4L479.1,276.4L477.2,273.3Z" fill="#777777" stroke="#3a3a3a" stroke-width="0.5"/>
<path d="M483.0,276.5L486.8,276.5L484.9,273.4Z" fill="#777777" stroke="#3a3a3a" stroke-width="0.5"/>
<path d="M490.7,276.6L494.5,276.6L492.6,273.6Z" fill="#777777" stroke="#3a3a3a" stroke-width="0.5"/>
<path d="M498.4,276.7L502.2,276.7L500.3,273.7Z" fill="#777777" stroke="#3a3a3a" stroke-width="0.5"/>
<path d="M506.1,276.8L509.9,276.8L508.0,273.8Z" fill="#777777" stroke="#3a3a3a" stroke-width="0.5"/>
<path d="M513.7,277.0L517.5,277.0L515.6,273.9Z" fill="#777777" stroke="#3a3a3a" stroke-width="0.5"/>
<path d="M521.4,277.1L525.2,277.1L523.3,274.0Z" fill="#777777" stroke="#3a3a3a" stroke-width="0.5"/>
<path d="M529.1,277.2L532.9,277.2L531.0,274.2Z" fill="#777777" stroke="#3a3a3a" stroke-width="0.5"/>
<path d="M392.7,198.5L400.4,275.5L538.7,277.0" fill="none" stroke="#e02ee0" stroke-width="0.9" stroke-linejoin="round"/>
<circle cx="392.7" cy="198.5" r="1.4" fill="#e02ee0"/>
<circle cx="400.4" cy="275.5" r="1.4" fill="#e02ee0"/>
<circle cx="408.1" cy="275.6" r="1.4" fill="#e02ee0"/>
<circle cx="415.8" cy="275.7" r="1.4" fill="#e02ee0"/>
<circle cx="423.4" cy="275.8" r="1.4" fill="#e02ee0"/>
<circle cx="431.1" cy="275.8" r="1.4" fill="#e02ee0"/>
<circle cx="438.8" cy="275.9" r="1.4" fill="#e02ee0"/>
<circle cx="446.5" cy="276.0" r="1.4" fill="#e02ee0"/>
<circle cx="454.2" cy="276.1" r="1.4" fill="#e02ee0"/>
<circle cx="461.9" cy="276.2" r="1.4" fill="#e02ee0"/>
<circle cx="469.5" cy="276.2" r="1.4" fill="#e02ee0"/>
<circle cx="477.2" cy="276.3" r="1.4" fill="#e02ee0"/>
<circle cx="484.9" cy="276.4" r="1.4" fill="#e02ee0"/>
<circle cx="492.6" cy="276.5" r="1.4" fill="#e02ee0"/>
<circle cx="500.3" cy="276.6" r="1.4" fill="#e02ee0"/>
<circle cx="508.0" cy="276.7" r="1.4" fill="#e02ee0"/>
<circle cx="515.6" cy="276.8" r="1.4" fill="#e02ee0"/>
<circle cx="523.3" cy="276.8" r="1.4" fill="#e02ee0"/>
<circle cx="531.0" cy="276.9" r="1.4" fill="#e02ee0"/>
<path d="M392.7,217.5L400.4,274.5L538.7,277.0" fill="none" stroke="#3a3ae0" stroke-width="0.9" stroke-linejoin="round"/>
<path d="M391.0,217.5L394.0,215.6L394.0,219.4Z" fill="#7070f0" stroke="#3a3ae0" stroke-width="0.5"/>
<path d="M398.7,274.5L401.7,272.6L401.7,276.4Z" fill="#7070f0" stroke="#3a3ae0" stroke-width="0.5"/>
<path d="M406.4,274.6L409.4,272.7L409.4,276.5Z" fill="#7070f0" stroke="#3a3ae0" stroke-width="0.5"/>
<path d="M414.0,274.8L417.1,272.9L417.1,276.7Z" fill="#7070f0" stroke="#3a3ae0" stroke-width="0.5"/>
<path d="M421.7,274.9L424.8,273.0L424.8,276.8Z" fill="#7070f0" stroke="#3a3ae0" stroke-width="0.5"/>
<path d="M429.4,275.1L432.5,273.2L432.5,277.0Z" fill="#7070f0" stroke="#3a3ae0" stroke-width="0.5"/>
<path d="M437.1,275.2L440.1,273.3L440.1,277.1Z" fill="#7070f0" stroke="#3a3ae0" stroke-width="0.5"/>
<path d="M444.8,275.3L447.8,273.4L447.8,277.2Z" fill="#7070f0" stroke="#3a3ae0" stroke-width="0.5"/>
<path d="M452.5,275.5L455.5,273.6L455.5,277.4Z" fill="#7070f0" stroke="#3a3ae0" stroke-width="0.5"/>
<path d="M460.1,275.6L463.2,273.7L463.2,277.5Z" fill="#7070f0" stroke="#3a3ae0" stroke-width="0.5"/>
<path d="M467.8,275.8L470.9,273.9L470.9,277.6Z" fill="#7070f0" stroke="#3a3ae0" stroke-width="0.5"/>
<path d="M475.5,275.9L478.6,274.0L478.6,277.8Z" fill="#7070f0" stroke="#3a3ae0" stroke-width="0.5"/>
<path d="M483.2,276.0L486.2,274.1L486.2,277.9Z" fill="#7070f0" stroke="#3a3ae0" stroke-width="0.5"/>
<path d="M490.9,276.2L493.9,274.3L493.9,278.1Z" fill="#7070f0" stroke="#3a3ae0" stroke-width="0.5"/>
<path d="M498.6,276.3L501.6,274.4L501.6,278.2Z" fill="#7070f0" stroke="#3a3ae0" stroke-width="0.5"/>
<path d="M506.3,276.4L509.3,274.5L509.3,278.3Z" fill="#7070f0" stroke="#3a3ae0" stroke-width="0.5"/>
<path d="M513.9,276.6L517.0,274.7L517.0,278.5Z" fill="#7070f0" stroke="#3a3ae0" stroke-width="0.5"/>
<path d="M521.6,276.7L524.7,274.8L524.7,278.6Z" fill="#7070f0" stroke="#3a3ae0" stroke-width="0.5"/>
<path d="M529.3,276.9L532.3,275.0L532.3,278.8Z" fill="#7070f0" stroke="#3a3ae0" stroke-width="0.5"/>
<path d="M392.7,187.6L400.4,273.5L408.1,274.6L538.7,275.5" fill="none" stroke="#28e0e0" stroke-width="0.9" stroke-linejoin="round"/>
<circle cx="392.7" cy="187.6" r="1.2" fill="#28e0e0"/><path d="M391.2,187.6H394.2M392.7,186.1V189.1" stroke="#28e0e0" stroke-width="0.5"/>
<circle cx="400.4" cy="273.5" r="1.2" fill="#28e0e0"/><path d="M398.9,273.5H401.9M400.4,272.0V275.0" stroke="#28e0e0" stroke-width="0.5"/>
<circle cx="408.1" cy="274.6" r="1.2" fill="#28e0e0"/><path d="M406.6,274.6H409.6M408.1,273.1V276.1" stroke="#28e0e0" stroke-width="0.5"/>
<circle cx="415.8" cy="274.7" r="1.2" fill="#28e0e0"/><path d="M414.3,274.7H417.3M415.8,273.2V276.2" stroke="#28e0e0" stroke-width="0.5"/>
<circle cx="423.4" cy="274.7" r="1.2" fill="#28e0e0"/><path d="M421.9,274.7H424.9M423.4,273.2V276.2" stroke="#28e0e0" stroke-width="0.5"/>
<circle cx="431.1" cy="274.8" r="1.2" fill="#28e0e0"/><path d="M429.6,274.8H432.6M431.1,273.3V276.3" stroke="#28e0e0" stroke-width="0.5"/>
<circle cx="438.8" cy="274.8" r="1.2" fill="#28e0e0"/><path d="M437.3,274.8H440.3M438.8,273.3V276.3" stroke="#28e0e0" stroke-width="0.5"/>
<circle cx="446.5" cy="274.9" r="1.2" fill="#28e0e0"/><path d="M445.0,274.9H448.0M446.5,273.4V276.4" stroke="#28e0e0" stroke-width="0.5"/>
<circle cx="454.2" cy="274.9" r="1.2" fill="#28e0e0"/><path d="M452.7,274.9H455.7M454.2,273.4V276.4" stroke="#28e0e0" stroke-width="0.5"/>
<circle cx="461.9" cy="275.0" r="1.2" fill="#28e0e0"/><path d="M460.4,275.0H463.4M461.9,273.5V276.5" stroke="#28e0e0" stroke-width="0.5"/>
<circle cx="469.5" cy="275.0" r="1.2" fill="#28e0e0"/><path d="M468.0,275.0H471.0M469.5,273.5V276.5" stroke="#28e0e0" stroke-width="0.5"/>
<circle cx="477.2" cy="275.1" r="1.2" fill="#28e0e0"/><path d="M475.7,275.1H478.7M477.2,273.6V276.6" stroke="#28e0e0" stroke-width="0.5"/>
<circle cx="484.9" cy="275.1" r="1.2" fill="#28e0e0"/><path d="M483.4,275.1H486.4M484.9,273.6V276.6" stroke="#28e0e0" stroke-width="0.5"/>
<circle cx="492.6" cy="275.2" r="1.2" fill="#28e0e0"/><path d="M491.1,275.2H494.1M492.6,273.7V276.7" stroke="#28e0e0" stroke-width="0.5"/>
<circle cx="500.3" cy="275.2" r="1.2" fill="#28e0e0"/><path d="M498.8,275.2H501.8M500.3,273.7V276.7" stroke="#28e0e0" stroke-width="0.5"/>
<circle cx="508.0" cy="275.3" r="1.2" fill="#28e0e0"/><path d="M506.5,275.3H509.5M508.0,273.8V276.8" stroke="#28e0e0" stroke-width="0.5"/>
<circle cx="515.6" cy="275.3" r="1.2" fill="#28e0e0"/><path d="M514.1,275.3H517.1M515.6,273.8V276.8" stroke="#28e0e0" stroke-width="0.5"/>
<circle cx="523.3" cy="275.4" r="1.2" fill="#28e0e0"/><path d="M521.8,275.4H524.8M523.3,273.9V276.9" stroke="#28e0e0" stroke-width="0.5"/>
<circle cx="531.0" cy="275.4" r="1.2" fill="#28e0e0"/><path d="M529.5,275.4H532.5M531.0,273.9V276.9" stroke="#28e0e0" stroke-width="0.5"/>
<path d="M392.7,213.8L400.4,215.3L423.4,215.3L431.1,235.4L438.8,240.0L500.3,240.0L508.0,244.2L515.6,244.9L538.7,244.9" fill="none" stroke="#d9a030" stroke-width="0.9" stroke-linejoin="round"/>
<path d="M390.8,213.8L392.7,211.9L394.6,213.8L392.7,215.7Z" fill="#e0b050" stroke="#d9a030" stroke-width="0.5"/>
<path d="M398.5,215.3L400.4,213.4L402.3,215.3L400.4,217.2Z" fill="#e0b050" stroke="#d9a030" stroke-width="0.5"/>
<path d="M406.2,215.3L408.1,213.4L410.0,215.3L408.1,217.2Z" fill="#e0b050" stroke="#d9a030" stroke-width="0.5"/>
<path d="M413.9,215.3L415.8,213.4L417.7,215.3L415.8,217.2Z" fill="#e0b050" stroke="#d9a030" stroke-width="0.5"/>
<path d="M421.5,215.3L423.4,213.4L425.3,215.3L423.4,217.2Z" fill="#e0b050" stroke="#d9a030" stroke-width="0.5"/>
<path d="M429.2,235.4L431.1,233.5L433.0,235.4L431.1,237.3Z" fill="#e0b050" stroke="#d9a030" stroke-width="0.5"/>
<path d="M436.9,240.0L438.8,238.1L440.7,240.0L438.8,241.9Z" fill="#e0b050" stroke="#d9a030" stroke-width="0.5"/>
<path d="M444.6,240.0L446.5,238.1L448.4,240.0L446.5,241.9Z" fill="#e0b050" stroke="#d9a030" stroke-width="0.5"/>
<path d="M452.3,240.0L454.2,238.1L456.1,240.0L454.2,241.9Z" fill="#e0b050" stroke="#d9a030" stroke-width="0.5"/>
<path d="M460.0,240.0L461.9,238.1L463.8,240.0L461.9,241.9Z" fill="#e0b050" stroke="#d9a030" stroke-width="0.5"/>
<path d="M467.6,240.0L469.5,238.1L471.4,240.0L469.5,241.9Z" fill="#e0b050" stroke="#d9a030" stroke-width="0.5"/>
<path d="M475.3,240.0L477.2,238.1L479.1,240.0L477.2,241.9Z" fill="#e0b050" stroke="#d9a030" stroke-width="0.5"/>
<path d="M483.0,240.0L484.9,238.1L486.8,240.0L484.9,241.9Z" fill="#e0b050" stroke="#d9a030" stroke-width="0.5"/>
<path d="M490.7,240.0L492.6,238.1L494.5,240.0L492.6,241.9Z" fill="#e0b050" stroke="#d9a030" stroke-width="0.5"/>
<path d="M498.4,240.0L500.3,238.1L502.2,240.0L500.3,241.9Z" fill="#e0b050" stroke="#d9a030" stroke-width="0.5"/>
<path d="M506.1,244.2L508.0,242.3L509.9,244.2L508.0,246.1Z" fill="#e0b050" stroke="#d9a030" stroke-width="0.5"/>
<path d="M513.7,244.9L515.6,243.0L517.5,244.9L515.6,246.8Z" fill="#e0b050" stroke="#d9a030" stroke-width="0.5"/>
<path d="M521.4,244.9L523.3,243.0L525.2,244.9L523.3,246.8Z" fill="#e0b050" stroke="#d9a030" stroke-width="0.5"/>
<path d="M529.1,244.9L531.0,243.0L532.9,244.9L531.0,246.8Z" fill="#e0b050" stroke="#d9a030" stroke-width="0.5"/>
</g>
<text x="466.9" y="160.2" class="tt" text-anchor="middle">F24</text>
<rect x="493.6" y="165.5" width="38.69999999999993" height="42.900000000000006" fill="#fff" stroke="#9a9a9a" stroke-width="0.5"/>
<line x1="495.1" x2="509.9" y1="169.6" y2="169.6" stroke="#45d845" stroke-width="0.9"/>
<circle cx="502.5" cy="169.6" r="1.7" fill="#7ee87e" stroke="#45d845" stroke-width="0.6"/>
<text x="511.1" y="171.3" class="lg">M1SCSO</text>
<line x1="495.1" x2="509.9" y1="175.5" y2="175.5" stroke="#e84850" stroke-width="0.9"/>
<path d="M500.6,174.2L504.4,174.2L502.5,177.2Z" fill="#f07070" stroke="#e84850" stroke-width="0.5"/>
<text x="511.1" y="177.2" class="lg">SCSO</text>
<line x1="495.1" x2="509.9" y1="181.5" y2="181.5" stroke="#3a3a3a" stroke-width="0.9"/>
<path d="M500.6,182.8L504.4,182.8L502.5,179.8Z" fill="#777777" stroke="#3a3a3a" stroke-width="0.5"/>
<text x="511.1" y="183.2" class="lg">SMOA</text>
<line x1="495.1" x2="509.9" y1="187.4" y2="187.4" stroke="#e02ee0" stroke-width="0.9"/>
<circle cx="502.5" cy="187.4" r="1.4" fill="#e02ee0"/>
<text x="511.1" y="189.1" class="lg">WOA</text>
<line x1="495.1" x2="509.9" y1="193.4" y2="193.4" stroke="#3a3ae0" stroke-width="0.9"/>
<path d="M500.8,193.4L503.8,191.5L503.8,195.3Z" fill="#7070f0" stroke="#3a3ae0" stroke-width="0.5"/>
<text x="511.1" y="195.1" class="lg">BWO</text>
<line x1="495.1" x2="509.9" y1="199.3" y2="199.3" stroke="#28e0e0" stroke-width="0.9"/>
<circle cx="502.5" cy="199.3" r="1.2" fill="#28e0e0"/><path d="M501.0,199.3H504.0M502.5,197.8V200.8" stroke="#28e0e0" stroke-width="0.5"/>
<text x="511.1" y="201.0" class="lg">ACO</text>
<line x1="495.1" x2="509.9" y1="205.3" y2="205.3" stroke="#d9a030" stroke-width="0.9"/>
<path d="M500.6,205.3L502.5,203.4L504.4,205.3L502.5,207.2Z" fill="#e0b050" stroke="#d9a030" stroke-width="0.5"/>
<text x="511.1" y="207.0" class="lg">RSA</text>
<text transform="translate(375.2,221.4) scale(1.08,1) rotate(-90)" class="yl" text-anchor="middle">Mean of objective function values</text>
<text x="467" y="296.7" class="xl" text-anchor="middle">Iteration</text>
<text x="537" y="294" class="tag" text-anchor="middle">(f)</text>
<line x1="31.3" x2="181" y1="429.3" y2="429.3" stroke="#f1f1f1" stroke-width="0.5"/>
<line x1="31.3" x2="181" y1="423.0" y2="423.0" stroke="#f1f1f1" stroke-width="0.5"/>
<line x1="31.3" x2="181" y1="416.9" y2="416.9" stroke="#f1f1f1" stroke-width="0.5"/>
<line x1="31.3" x2="181" y1="411.0" y2="411.0" stroke="#f1f1f1" stroke-width="0.5"/>
<line x1="31.3" x2="181" y1="405.3" y2="405.3" stroke="#f1f1f1" stroke-width="0.5"/>
<line x1="31.3" x2="181" y1="399.7" y2="399.7" stroke="#f1f1f1" stroke-width="0.5"/>
<line x1="31.3" x2="181" y1="394.3" y2="394.3" stroke="#f1f1f1" stroke-width="0.5"/>
<line x1="31.3" x2="181" y1="389.0" y2="389.0" stroke="#f1f1f1" stroke-width="0.5"/>
<line x1="31.3" x2="181" y1="383.9" y2="383.9" stroke="#f1f1f1" stroke-width="0.5"/>
<line x1="31.3" x2="181" y1="378.9" y2="378.9" stroke="#f1f1f1" stroke-width="0.5"/>
<line x1="31.3" x2="181" y1="374.1" y2="374.1" stroke="#f1f1f1" stroke-width="0.5"/>
<line x1="31.3" x2="181" y1="369.3" y2="369.3" stroke="#f1f1f1" stroke-width="0.5"/>
<line x1="31.3" x2="181" y1="364.7" y2="364.7" stroke="#f1f1f1" stroke-width="0.5"/>
<line x1="31.3" x2="181" y1="360.2" y2="360.2" stroke="#f1f1f1" stroke-width="0.5"/>
<line x1="31.3" x2="181" y1="355.7" y2="355.7" stroke="#f1f1f1" stroke-width="0.5"/>
<line x1="31.3" x2="181" y1="351.4" y2="351.4" stroke="#f1f1f1" stroke-width="0.5"/>
<line x1="31.3" x2="181" y1="347.2" y2="347.2" stroke="#f1f1f1" stroke-width="0.5"/>
<line x1="31.3" x2="181" y1="343.1" y2="343.1" stroke="#f1f1f1" stroke-width="0.5"/>
<line x1="31.3" x2="181" y1="339.0" y2="339.0" stroke="#f1f1f1" stroke-width="0.5"/>
<line x1="31.3" x2="181" y1="335.1" y2="335.1" stroke="#f1f1f1" stroke-width="0.5"/>
<line x1="31.3" x2="181" y1="331.2" y2="331.2" stroke="#f1f1f1" stroke-width="0.5"/>
<line x1="31.3" x2="181" y1="327.4" y2="327.4" stroke="#f1f1f1" stroke-width="0.5"/>
<line x1="31.3" x2="181" y1="323.7" y2="323.7" stroke="#f1f1f1" stroke-width="0.5"/>
<line x1="31.3" x2="181" y1="320.0" y2="320.0" stroke="#f1f1f1" stroke-width="0.5"/>
<line x1="31.3" x2="181" y1="316.4" y2="316.4" stroke="#f1f1f1" stroke-width="0.5"/>
<line x1="31.3" x2="181" y1="429.3" y2="429.3" stroke="#e6e6e6" stroke-width="0.5"/>
<line x1="31.3" x2="181" y1="399.7" y2="399.7" stroke="#e6e6e6" stroke-width="0.5"/>
<line x1="31.3" x2="181" y1="374.1" y2="374.1" stroke="#e6e6e6" stroke-width="0.5"/>
<line x1="31.3" x2="181" y1="351.4" y2="351.4" stroke="#e6e6e6" stroke-width="0.5"/>
<line x1="31.3" x2="181" y1="331.2" y2="331.2" stroke="#e6e6e6" stroke-width="0.5"/>
<line x1="81.2" x2="81.2" y1="315.5" y2="433.6" stroke="#e6e6e6" stroke-width="0.5"/>
<line x1="131.1" x2="131.1" y1="315.5" y2="433.6" stroke="#e6e6e6" stroke-width="0.5"/>
<rect x="31.3" y="315.5" width="149.7" height="118.10000000000002" fill="none" stroke="#707070" stroke-width="0.7"/>
<line x1="31.3" x2="32.8" y1="429.3" y2="429.3" stroke="#777" stroke-width="0.5"/>
<line x1="179.5" x2="181" y1="429.3" y2="429.3" stroke="#777" stroke-width="0.5"/>
<text x="29.1" y="430.9" class="tk" text-anchor="end">3000</text>
<line x1="31.3" x2="32.8" y1="399.7" y2="399.7" stroke="#777" stroke-width="0.5"/>
<line x1="179.5" x2="181" y1="399.7" y2="399.7" stroke="#777" stroke-width="0.5"/>
<text x="29.1" y="401.3" class="tk" text-anchor="end">3500</text>
<line x1="31.3" x2="32.8" y1="374.1" y2="374.1" stroke="#777" stroke-width="0.5"/>
<line x1="179.5" x2="181" y1="374.1" y2="374.1" stroke="#777" stroke-width="0.5"/>
<text x="29.1" y="375.7" class="tk" text-anchor="end">4000</text>
<line x1="31.3" x2="32.8" y1="351.4" y2="351.4" stroke="#777" stroke-width="0.5"/>
<line x1="179.5" x2="181" y1="351.4" y2="351.4" stroke="#777" stroke-width="0.5"/>
<text x="29.1" y="353.0" class="tk" text-anchor="end">4500</text>
<line x1="31.3" x2="32.8" y1="331.2" y2="331.2" stroke="#777" stroke-width="0.5"/>
<line x1="179.5" x2="181" y1="331.2" y2="331.2" stroke="#777" stroke-width="0.5"/>
<text x="29.1" y="332.8" class="tk" text-anchor="end">5000</text>
<text x="31.3" y="439.8" class="tk" text-anchor="middle">0</text>
<line x1="81.2" x2="81.2" y1="432.1" y2="433.6" stroke="#777" stroke-width="0.5"/>
<line x1="81.2" x2="81.2" y1="315.5" y2="317.0" stroke="#777" stroke-width="0.5"/>
<text x="81.2" y="439.8" class="tk" text-anchor="middle">500</text>
<line x1="131.1" x2="131.1" y1="432.1" y2="433.6" stroke="#777" stroke-width="0.5"/>
<line x1="131.1" x2="131.1" y1="315.5" y2="317.0" stroke="#777" stroke-width="0.5"/>
<text x="131.1" y="439.8" class="tk" text-anchor="middle">1000</text>
<text x="181.0" y="439.8" class="tk" text-anchor="middle">1500</text>
<clipPath id="clipg"><rect x="28.3" y="312.5" width="155.7" height="124.10000000000002"/></clipPath>
<g clip-path="url(#clipg)">
<path d="M31.3,363.9L39.2,432.2L181.0,432.5" fill="none" stroke="#45d845" stroke-width="0.9" stroke-linejoin="round"/>
<circle cx="31.3" cy="363.9" r="1.7" fill="#7ee87e" stroke="#45d845" stroke-width="0.6"/>
<circle cx="39.2" cy="432.2" r="1.7" fill="#7ee87e" stroke="#45d845" stroke-width="0.6"/>
<circle cx="47.1" cy="432.2" r="1.7" fill="#7ee87e" stroke="#45d845" stroke-width="0.6"/>
<circle cx="54.9" cy="432.2" r="1.7" fill="#7ee87e" stroke="#45d845" stroke-width="0.6"/>
<circle cx="62.8" cy="432.2" r="1.7" fill="#7ee87e" stroke="#45d845" stroke-width="0.6"/>
<circle cx="70.7" cy="432.3" r="1.7" fill="#7ee87e" stroke="#45d845" stroke-width="0.6"/>
<circle cx="78.6" cy="432.3" r="1.7" fill="#7ee87e" stroke="#45d845" stroke-width="0.6"/>
<circle cx="86.5" cy="432.3" r="1.7" fill="#7ee87e" stroke="#45d845" stroke-width="0.6"/>
<circle cx="94.3" cy="432.3" r="1.7" fill="#7ee87e" stroke="#45d845" stroke-width="0.6"/>
<circle cx="102.2" cy="432.3" r="1.7" fill="#7ee87e" stroke="#45d845" stroke-width="0.6"/>
<circle cx="110.1" cy="432.4" r="1.7" fill="#7ee87e" stroke="#45d845" stroke-width="0.6"/>
<circle cx="118.0" cy="432.4" r="1.7" fill="#7ee87e" stroke="#45d845" stroke-width="0.6"/>
<circle cx="125.8" cy="432.4" r="1.7" fill="#7ee87e" stroke="#45d845" stroke-width="0.6"/>
<circle cx="133.7" cy="432.4" r="1.7" fill="#7ee87e" stroke="#45d845" stroke-width="0.6"/>
<circle cx="141.6" cy="432.4" r="1.7" fill="#7ee87e" stroke="#45d845" stroke-width="0.6"/>
<circle cx="149.5" cy="432.4" r="1.7" fill="#7ee87e" stroke="#45d845" stroke-width="0.6"/>
<circle cx="157.4" cy="432.4" r="1.7" fill="#7ee87e" stroke="#45d845" stroke-width="0.6"/>
<circle cx="165.2" cy="432.5" r="1.7" fill="#7ee87e" stroke="#45d845" stroke-width="0.6"/>
<circle cx="173.1" cy="432.5" r="1.7" fill="#7ee87e" stroke="#45d845" stroke-width="0.6"/>
<circle cx="181.0" cy="432.5" r="1.7" fill="#7ee87e" stroke="#45d845" stroke-width="0.6"/>
<path d="M31.3,315.5L39.2,427.8L47.1,429.0L54.9,430.0L62.8,430.5L181.0,430.8" fill="none" stroke="#e84850" stroke-width="0.9" stroke-linejoin="round"/>
<path d="M29.4,314.2L33.2,314.2L31.3,317.2Z" fill="#f07070" stroke="#e84850" stroke-width="0.5"/>
<path d="M37.3,426.5L41.1,426.5L39.2,429.5Z" fill="#f07070" stroke="#e84850" stroke-width="0.5"/>
<path d="M45.2,427.7L49.0,427.7L47.1,430.7Z" fill="#f07070" stroke="#e84850" stroke-width="0.5"/>
<path d="M53.0,428.7L56.8,428.7L54.9,431.7Z" fill="#f07070" stroke="#e84850" stroke-width="0.5"/>
<path d="M60.9,429.2L64.7,429.2L62.8,432.2Z" fill="#f07070" stroke="#e84850" stroke-width="0.5"/>
<path d="M68.8,429.2L72.6,429.2L70.7,432.2Z" fill="#f07070" stroke="#e84850" stroke-width="0.5"/>
<path d="M76.7,429.2L80.5,429.2L78.6,432.2Z" fill="#f07070" stroke="#e84850" stroke-width="0.5"/>
<path d="M84.6,429.2L88.4,429.2L86.5,432.3Z" fill="#f07070" stroke="#e84850" stroke-width="0.5"/>
<path d="M92.4,429.2L96.2,429.2L94.3,432.3Z" fill="#f07070" stroke="#e84850" stroke-width="0.5"/>
<path d="M100.3,429.3L104.1,429.3L102.2,432.3Z" fill="#f07070" stroke="#e84850" stroke-width="0.5"/>
<path d="M108.2,429.3L112.0,429.3L110.1,432.3Z" fill="#f07070" stroke="#e84850" stroke-width="0.5"/>
<path d="M116.1,429.3L119.9,429.3L118.0,432.3Z" fill="#f07070" stroke="#e84850" stroke-width="0.5"/>
<path d="M123.9,429.3L127.7,429.3L125.8,432.4Z" fill="#f07070" stroke="#e84850" stroke-width="0.5"/>
<path d="M131.8,429.4L135.6,429.4L133.7,432.4Z" fill="#f07070" stroke="#e84850" stroke-width="0.5"/>
<path d="M139.7,429.4L143.5,429.4L141.6,432.4Z" fill="#f07070" stroke="#e84850" stroke-width="0.5"/>
<path d="M147.6,429.4L151.4,429.4L149.5,432.4Z" fill="#f07070" stroke="#e84850" stroke-width="0.5"/>
<path d="M155.5,429.4L159.3,429.4L157.4,432.4Z" fill="#f07070" stroke="#e84850" stroke-width="0.5"/>
<path d="M163.3,429.4L167.1,429.4L165.2,432.5Z" fill="#f07070" stroke="#e84850" stroke-width="0.5"/>
<path d="M171.2,429.5L175.0,429.5L173.1,432.5Z" fill="#f07070" stroke="#e84850" stroke-width="0.5"/>
<path d="M179.1,429.5L182.9,429.5L181.0,432.5Z" fill="#f07070" stroke="#e84850" stroke-width="0.5"/>
<path d="M31.3,361.0L39.2,422.5L47.1,424.6L54.9,426.8L62.8,427.8L70.7,428.3L181.0,428.8" fill="none" stroke="#3a3a3a" stroke-width="0.9" stroke-linejoin="round"/>
<path d="M29.4,362.3L33.2,362.3L31.3,359.3Z" fill="#777777" stroke="#3a3a3a" stroke-width="0.5"/>
<path d="M37.3,423.8L41.1,423.8L39.2,420.8Z" fill="#777777" stroke="#3a3a3a" stroke-width="0.5"/>
<path d="M45.2,425.9L49.0,425.9L47.1,422.9Z" fill="#777777" stroke="#3a3a3a" stroke-width="0.5"/>
<path d="M53.0,428.1L56.8,428.1L54.9,425.1Z" fill="#777777" stroke="#3a3a3a" stroke-width="0.5"/>
<path d="M60.9,429.1L64.7,429.1L62.8,426.1Z" fill="#777777" stroke="#3a3a3a" stroke-width="0.5"/>
<path d="M68.8,429.6L72.6,429.6L70.7,426.6Z" fill="#777777" stroke="#3a3a3a" stroke-width="0.5"/>
<path d="M76.7,429.7L80.5,429.7L78.6,426.6Z" fill="#777777" stroke="#3a3a3a" stroke-width="0.5"/>
<path d="M84.6,429.7L88.4,429.7L86.5,426.7Z" fill="#777777" stroke="#3a3a3a" stroke-width="0.5"/>
<path d="M92.4,429.7L96.2,429.7L94.3,426.7Z" fill="#777777" stroke="#3a3a3a" stroke-width="0.5"/>
<path d="M100.3,429.8L104.1,429.8L102.2,426.7Z" fill="#777777" stroke="#3a3a3a" stroke-width="0.5"/>
<path d="M108.2,429.8L112.0,429.8L110.1,426.8Z" fill="#777777" stroke="#3a3a3a" stroke-width="0.5"/>
<path d="M116.1,429.8L119.9,429.8L118.0,426.8Z" fill="#777777" stroke="#3a3a3a" stroke-width="0.5"/>
<path d="M123.9,429.9L127.7,429.9L125.8,426.8Z" fill="#777777" stroke="#3a3a3a" stroke-width="0.5"/>
<path d="M131.8,429.9L135.6,429.9L133.7,426.9Z" fill="#777777" stroke="#3a3a3a" stroke-width="0.5"/>
<path d="M139.7,430.0L143.5,430.0L141.6,426.9Z" fill="#777777" stroke="#3a3a3a" stroke-width="0.5"/>
<path d="M147.6,430.0L151.4,430.0L149.5,426.9Z" fill="#777777" stroke="#3a3a3a" stroke-width="0.5"/>
<path d="M155.5,430.0L159.3,430.0L157.4,427.0Z" fill="#777777" stroke="#3a3a3a" stroke-width="0.5"/>
<path d="M163.3,430.1L167.1,430.1L165.2,427.0Z" fill="#777777" stroke="#3a3a3a" stroke-width="0.5"/>
<path d="M171.2,430.1L175.0,430.1L173.1,427.1Z" fill="#777777" stroke="#3a3a3a" stroke-width="0.5"/>
<path d="M179.1,430.1L182.9,430.1L181.0,427.1Z" fill="#777777" stroke="#3a3a3a" stroke-width="0.5"/>
<path d="M31.3,316.3L39.2,371.3L47.1,377.7L54.9,378.6L62.8,378.9L181.0,379.0" fill="none" stroke="#e02ee0" stroke-width="0.9" stroke-linejoin="round"/>
<circle cx="31.3" cy="316.3" r="1.4" fill="#e02ee0"/>
<circle cx="39.2" cy="371.3" r="1.4" fill="#e02ee0"/>
<circle cx="47.1" cy="377.7" r="1.4" fill="#e02ee0"/>
<circle cx="54.9" cy="378.6" r="1.4" fill="#e02ee0"/>
<circle cx="62.8" cy="378.9" r="1.4" fill="#e02ee0"/>
<circle cx="70.7" cy="378.9" r="1.4" fill="#e02ee0"/>
<circle cx="78.6" cy="378.9" r="1.4" fill="#e02ee0"/>
<circle cx="86.5" cy="378.9" r="1.4" fill="#e02ee0"/>
<circle cx="94.3" cy="378.9" r="1.4" fill="#e02ee0"/>
<circle cx="102.2" cy="378.9" r="1.4" fill="#e02ee0"/>
<circle cx="110.1" cy="378.9" r="1.4" fill="#e02ee0"/>
<circle cx="118.0" cy="378.9" r="1.4" fill="#e02ee0"/>
<circle cx="125.8" cy="379.0" r="1.4" fill="#e02ee0"/>
<circle cx="133.7" cy="379.0" r="1.4" fill="#e02ee0"/>
<circle cx="141.6" cy="379.0" r="1.4" fill="#e02ee0"/>
<circle cx="149.5" cy="379.0" r="1.4" fill="#e02ee0"/>
<circle cx="157.4" cy="379.0" r="1.4" fill="#e02ee0"/>
<circle cx="165.2" cy="379.0" r="1.4" fill="#e02ee0"/>
<circle cx="173.1" cy="379.0" r="1.4" fill="#e02ee0"/>
<circle cx="181.0" cy="379.0" r="1.4" fill="#e02ee0"/>
<path d="M31.3,346.5L39.2,418.8L47.1,423.9L54.9,426.8L62.8,429.0L70.7,429.7L181.0,431.5" fill="none" stroke="#3a3ae0" stroke-width="0.9" stroke-linejoin="round"/>
<path d="M29.6,346.5L32.6,344.6L32.6,348.4Z" fill="#7070f0" stroke="#3a3ae0" stroke-width="0.5"/>
<path d="M37.5,418.8L40.5,416.9L40.5,420.7Z" fill="#7070f0" stroke="#3a3ae0" stroke-width="0.5"/>
<path d="M45.3,423.9L48.4,422.0L48.4,425.8Z" fill="#7070f0" stroke="#3a3ae0" stroke-width="0.5"/>
<path d="M53.2,426.8L56.3,424.9L56.3,428.7Z" fill="#7070f0" stroke="#3a3ae0" stroke-width="0.5"/>
<path d="M61.1,429.0L64.1,427.1L64.1,430.9Z" fill="#7070f0" stroke="#3a3ae0" stroke-width="0.5"/>
<path d="M69.0,429.7L72.0,427.8L72.0,431.6Z" fill="#7070f0" stroke="#3a3ae0" stroke-width="0.5"/>
<path d="M76.9,429.8L79.9,427.9L79.9,431.7Z" fill="#7070f0" stroke="#3a3ae0" stroke-width="0.5"/>
<path d="M84.7,430.0L87.8,428.1L87.8,431.9Z" fill="#7070f0" stroke="#3a3ae0" stroke-width="0.5"/>
<path d="M92.6,430.1L95.7,428.2L95.7,432.0Z" fill="#7070f0" stroke="#3a3ae0" stroke-width="0.5"/>
<path d="M100.5,430.2L103.5,428.3L103.5,432.1Z" fill="#7070f0" stroke="#3a3ae0" stroke-width="0.5"/>
<path d="M108.4,430.3L111.4,428.4L111.4,432.2Z" fill="#7070f0" stroke="#3a3ae0" stroke-width="0.5"/>
<path d="M116.3,430.5L119.3,428.6L119.3,432.4Z" fill="#7070f0" stroke="#3a3ae0" stroke-width="0.5"/>
<path d="M124.1,430.6L127.2,428.7L127.2,432.5Z" fill="#7070f0" stroke="#3a3ae0" stroke-width="0.5"/>
<path d="M132.0,430.7L135.1,428.8L135.1,432.6Z" fill="#7070f0" stroke="#3a3ae0" stroke-width="0.5"/>
<path d="M139.9,430.9L142.9,429.0L142.9,432.8Z" fill="#7070f0" stroke="#3a3ae0" stroke-width="0.5"/>
<path d="M147.8,431.0L150.8,429.1L150.8,432.9Z" fill="#7070f0" stroke="#3a3ae0" stroke-width="0.5"/>
<path d="M155.7,431.1L158.7,429.2L158.7,433.0Z" fill="#7070f0" stroke="#3a3ae0" stroke-width="0.5"/>
<path d="M163.5,431.2L166.6,429.3L166.6,433.1Z" fill="#7070f0" stroke="#3a3ae0" stroke-width="0.5"/>
<path d="M171.4,431.4L174.5,429.5L174.5,433.3Z" fill="#7070f0" stroke="#3a3ae0" stroke-width="0.5"/>
<path d="M179.3,431.5L182.3,429.6L182.3,433.4Z" fill="#7070f0" stroke="#3a3ae0" stroke-width="0.5"/>
<path d="M31.3,356.6L39.2,389.7L47.1,395.5L54.9,399.9L62.8,404.6L70.7,404.6L78.6,405.4L94.3,406.0L102.2,408.1L125.8,409.0L141.6,410.0L181.0,410.6" fill="none" stroke="#28e0e0" stroke-width="0.9" stroke-linejoin="round"/>
<circle cx="31.3" cy="356.6" r="1.2" fill="#28e0e0"/><path d="M29.8,356.6H32.8M31.3,355.1V358.1" stroke="#28e0e0" stroke-width="0.5"/>
<circle cx="39.2" cy="389.7" r="1.2" fill="#28e0e0"/><path d="M37.7,389.7H40.7M39.2,388.2V391.2" stroke="#28e0e0" stroke-width="0.5"/>
<circle cx="47.1" cy="395.5" r="1.2" fill="#28e0e0"/><path d="M45.6,395.5H48.6M47.1,394.0V397.0" stroke="#28e0e0" stroke-width="0.5"/>
<circle cx="54.9" cy="399.9" r="1.2" fill="#28e0e0"/><path d="M53.4,399.9H56.4M54.9,398.4V401.4" stroke="#28e0e0" stroke-width="0.5"/>
<circle cx="62.8" cy="404.6" r="1.2" fill="#28e0e0"/><path d="M61.3,404.6H64.3M62.8,403.1V406.1" stroke="#28e0e0" stroke-width="0.5"/>
<circle cx="70.7" cy="404.6" r="1.2" fill="#28e0e0"/><path d="M69.2,404.6H72.2M70.7,403.1V406.1" stroke="#28e0e0" stroke-width="0.5"/>
<circle cx="78.6" cy="405.4" r="1.2" fill="#28e0e0"/><path d="M77.1,405.4H80.1M78.6,403.9V406.9" stroke="#28e0e0" stroke-width="0.5"/>
<circle cx="86.5" cy="405.7" r="1.2" fill="#28e0e0"/><path d="M85.0,405.7H88.0M86.5,404.2V407.2" stroke="#28e0e0" stroke-width="0.5"/>
<circle cx="94.3" cy="406.0" r="1.2" fill="#28e0e0"/><path d="M92.8,406.0H95.8M94.3,404.5V407.5" stroke="#28e0e0" stroke-width="0.5"/>
<circle cx="102.2" cy="408.1" r="1.2" fill="#28e0e0"/><path d="M100.7,408.1H103.7M102.2,406.6V409.6" stroke="#28e0e0" stroke-width="0.5"/>
<circle cx="110.1" cy="408.4" r="1.2" fill="#28e0e0"/><path d="M108.6,408.4H111.6M110.1,406.9V409.9" stroke="#28e0e0" stroke-width="0.5"/>
<circle cx="118.0" cy="408.7" r="1.2" fill="#28e0e0"/><path d="M116.5,408.7H119.5M118.0,407.2V410.2" stroke="#28e0e0" stroke-width="0.5"/>
<circle cx="125.8" cy="409.0" r="1.2" fill="#28e0e0"/><path d="M124.3,409.0H127.3M125.8,407.5V410.5" stroke="#28e0e0" stroke-width="0.5"/>
<circle cx="133.7" cy="409.5" r="1.2" fill="#28e0e0"/><path d="M132.2,409.5H135.2M133.7,408.0V411.0" stroke="#28e0e0" stroke-width="0.5"/>
<circle cx="141.6" cy="410.0" r="1.2" fill="#28e0e0"/><path d="M140.1,410.0H143.1M141.6,408.5V411.5" stroke="#28e0e0" stroke-width="0.5"/>
<circle cx="149.5" cy="410.1" r="1.2" fill="#28e0e0"/><path d="M148.0,410.1H151.0M149.5,408.6V411.6" stroke="#28e0e0" stroke-width="0.5"/>
<circle cx="157.4" cy="410.2" r="1.2" fill="#28e0e0"/><path d="M155.9,410.2H158.9M157.4,408.7V411.7" stroke="#28e0e0" stroke-width="0.5"/>
<circle cx="165.2" cy="410.4" r="1.2" fill="#28e0e0"/><path d="M163.7,410.4H166.7M165.2,408.9V411.9" stroke="#28e0e0" stroke-width="0.5"/>
<circle cx="173.1" cy="410.5" r="1.2" fill="#28e0e0"/><path d="M171.6,410.5H174.6M173.1,409.0V412.0" stroke="#28e0e0" stroke-width="0.5"/>
<circle cx="181.0" cy="410.6" r="1.2" fill="#28e0e0"/><path d="M179.5,410.6H182.5M181.0,409.1V412.1" stroke="#28e0e0" stroke-width="0.5"/>
<path d="M31.3,349.4L39.2,352.1L62.8,352.1L70.7,357.4L78.6,365.4L86.5,367.2L94.3,367.6L141.6,367.4L149.5,371.3L181.0,372.3" fill="none" stroke="#d9a030" stroke-width="0.9" stroke-linejoin="round"/>
<path d="M29.4,349.4L31.3,347.5L33.2,349.4L31.3,351.3Z" fill="#e0b050" stroke="#d9a030" stroke-width="0.5"/>
<path d="M37.3,352.1L39.2,350.2L41.1,352.1L39.2,354.0Z" fill="#e0b050" stroke="#d9a030" stroke-width="0.5"/>
<path d="M45.2,352.1L47.1,350.2L49.0,352.1L47.1,354.0Z" fill="#e0b050" stroke="#d9a030" stroke-width="0.5"/>
<path d="M53.0,352.1L54.9,350.2L56.8,352.1L54.9,354.0Z" fill="#e0b050" stroke="#d9a030" stroke-width="0.5"/>
<path d="M60.9,352.1L62.8,350.2L64.7,352.1L62.8,354.0Z" fill="#e0b050" stroke="#d9a030" stroke-width="0.5"/>
<path d="M68.8,357.4L70.7,355.5L72.6,357.4L70.7,359.3Z" fill="#e0b050" stroke="#d9a030" stroke-width="0.5"/>
<path d="M76.7,365.4L78.6,363.5L80.5,365.4L78.6,367.3Z" fill="#e0b050" stroke="#d9a030" stroke-width="0.5"/>
<path d="M84.6,367.2L86.5,365.3L88.4,367.2L86.5,369.1Z" fill="#e0b050" stroke="#d9a030" stroke-width="0.5"/>
<path d="M92.4,367.6L94.3,365.7L96.2,367.6L94.3,369.5Z" fill="#e0b050" stroke="#d9a030" stroke-width="0.5"/>
<path d="M100.3,367.6L102.2,365.7L104.1,367.6L102.2,369.5Z" fill="#e0b050" stroke="#d9a030" stroke-width="0.5"/>
<path d="M108.2,367.5L110.1,365.6L112.0,367.5L110.1,369.4Z" fill="#e0b050" stroke="#d9a030" stroke-width="0.5"/>
<path d="M116.1,367.5L118.0,365.6L119.9,367.5L118.0,369.4Z" fill="#e0b050" stroke="#d9a030" stroke-width="0.5"/>
<path d="M123.9,367.5L125.8,365.6L127.7,367.5L125.8,369.4Z" fill="#e0b050" stroke="#d9a030" stroke-width="0.5"/>
<path d="M131.8,367.4L133.7,365.5L135.6,367.4L133.7,369.3Z" fill="#e0b050" stroke="#d9a030" stroke-width="0.5"/>
<path d="M139.7,367.4L141.6,365.5L143.5,367.4L141.6,369.3Z" fill="#e0b050" stroke="#d9a030" stroke-width="0.5"/>
<path d="M147.6,371.3L149.5,369.4L151.4,371.3L149.5,373.2Z" fill="#e0b050" stroke="#d9a030" stroke-width="0.5"/>
<path d="M155.5,371.6L157.4,369.7L159.3,371.6L157.4,373.4Z" fill="#e0b050" stroke="#d9a030" stroke-width="0.5"/>
<path d="M163.3,371.8L165.2,369.9L167.1,371.8L165.2,373.7Z" fill="#e0b050" stroke="#d9a030" stroke-width="0.5"/>
<path d="M171.2,372.1L173.1,370.2L175.0,372.1L173.1,373.9Z" fill="#e0b050" stroke="#d9a030" stroke-width="0.5"/>
<path d="M179.1,372.3L181.0,370.4L182.9,372.3L181.0,374.2Z" fill="#e0b050" stroke="#d9a030" stroke-width="0.5"/>
</g>
<text x="110.3" y="313.8" class="tt" text-anchor="middle">F25</text>
<rect x="134" y="319.3" width="38.80000000000001" height="43.19999999999999" fill="#fff" stroke="#9a9a9a" stroke-width="0.5"/>
<line x1="135.5" x2="150.3" y1="323.4" y2="323.4" stroke="#45d845" stroke-width="0.9"/>
<circle cx="142.9" cy="323.4" r="1.7" fill="#7ee87e" stroke="#45d845" stroke-width="0.6"/>
<text x="151.5" y="325.1" class="lg">M1SCSO</text>
<line x1="135.5" x2="150.3" y1="329.4" y2="329.4" stroke="#e84850" stroke-width="0.9"/>
<path d="M141.0,328.1L144.8,328.1L142.9,331.1Z" fill="#f07070" stroke="#e84850" stroke-width="0.5"/>
<text x="151.5" y="331.1" class="lg">SCSO</text>
<line x1="135.5" x2="150.3" y1="335.4" y2="335.4" stroke="#3a3a3a" stroke-width="0.9"/>
<path d="M141.0,336.7L144.8,336.7L142.9,333.7Z" fill="#777777" stroke="#3a3a3a" stroke-width="0.5"/>
<text x="151.5" y="337.1" class="lg">SMOA</text>
<line x1="135.5" x2="150.3" y1="341.4" y2="341.4" stroke="#e02ee0" stroke-width="0.9"/>
<circle cx="142.9" cy="341.4" r="1.4" fill="#e02ee0"/>
<text x="151.5" y="343.1" class="lg">WOA</text>
<line x1="135.5" x2="150.3" y1="347.4" y2="347.4" stroke="#3a3ae0" stroke-width="0.9"/>
<path d="M141.2,347.4L144.2,345.5L144.2,349.3Z" fill="#7070f0" stroke="#3a3ae0" stroke-width="0.5"/>
<text x="151.5" y="349.1" class="lg">BWO</text>
<line x1="135.5" x2="150.3" y1="353.4" y2="353.4" stroke="#28e0e0" stroke-width="0.9"/>
<circle cx="142.9" cy="353.4" r="1.2" fill="#28e0e0"/><path d="M141.4,353.4H144.4M142.9,351.9V354.9" stroke="#28e0e0" stroke-width="0.5"/>
<text x="151.5" y="355.1" class="lg">ACO</text>
<line x1="135.5" x2="150.3" y1="359.4" y2="359.4" stroke="#d9a030" stroke-width="0.9"/>
<path d="M141.0,359.4L142.9,357.5L144.8,359.4L142.9,361.3Z" fill="#e0b050" stroke="#d9a030" stroke-width="0.5"/>
<text x="151.5" y="361.1" class="lg">RSA</text>
<text transform="translate(14.0,374.6) scale(1.08,1) rotate(-90)" class="yl" text-anchor="middle">Mean of objective function values</text>
<text x="107.5" y="451.4" class="xl" text-anchor="middle">Iteration</text>
<text x="178.3" y="449.7" class="tag" text-anchor="middle">(g)</text>
<line x1="213.2" x2="364" y1="432.6" y2="432.6" stroke="#f1f1f1" stroke-width="0.5"/>
<line x1="213.2" x2="364" y1="429.4" y2="429.4" stroke="#f1f1f1" stroke-width="0.5"/>
<line x1="213.2" x2="364" y1="426.1" y2="426.1" stroke="#f1f1f1" stroke-width="0.5"/>
<line x1="213.2" x2="364" y1="422.8" y2="422.8" stroke="#f1f1f1" stroke-width="0.5"/>
<line x1="213.2" x2="364" y1="419.6" y2="419.6" stroke="#f1f1f1" stroke-width="0.5"/>
<line x1="213.2" x2="364" y1="416.4" y2="416.4" stroke="#f1f1f1" stroke-width="0.5"/>
<line x1="213.2" x2="364" y1="413.2" y2="413.2" stroke="#f1f1f1" stroke-width="0.5"/>
<line x1="213.2" x2="364" y1="409.9" y2="409.9" stroke="#f1f1f1" stroke-width="0.5"/>
<line x1="213.2" x2="364" y1="406.7" y2="406.7" stroke="#f1f1f1" stroke-width="0.5"/>
<line x1="213.2" x2="364" y1="403.6" y2="403.6" stroke="#f1f1f1" stroke-width="0.5"/>
<line x1="213.2" x2="364" y1="400.4" y2="400.4" stroke="#f1f1f1" stroke-width="0.5"/>
<line x1="213.2" x2="364" y1="397.2" y2="397.2" stroke="#f1f1f1" stroke-width="0.5"/>
<line x1="213.2" x2="364" y1="394.0" y2="394.0" stroke="#f1f1f1" stroke-width="0.5"/>
<line x1="213.2" x2="364" y1="390.9" y2="390.9" stroke="#f1f1f1" stroke-width="0.5"/>
<line x1="213.2" x2="364" y1="387.8" y2="387.8" stroke="#f1f1f1" stroke-width="0.5"/>
<line x1="213.2" x2="364" y1="384.6" y2="384.6" stroke="#f1f1f1" stroke-width="0.5"/>
<line x1="213.2" x2="364" y1="381.5" y2="381.5" stroke="#f1f1f1" stroke-width="0.5"/>
<line x1="213.2" x2="364" y1="378.4" y2="378.4" stroke="#f1f1f1" stroke-width="0.5"/>
<line x1="213.2" x2="364" y1="375.3" y2="375.3" stroke="#f1f1f1" stroke-width="0.5"/>
<line x1="213.2" x2="364" y1="372.2" y2="372.2" stroke="#f1f1f1" stroke-width="0.5"/>
<line x1="213.2" x2="364" y1="369.1" y2="369.1" stroke="#f1f1f1" stroke-width="0.5"/>
<line x1="213.2" x2="364" y1="366.0" y2="366.0" stroke="#f1f1f1" stroke-width="0.5"/>
<line x1="213.2" x2="364" y1="363.0" y2="363.0" stroke="#f1f1f1" stroke-width="0.5"/>
<line x1="213.2" x2="364" y1="359.9" y2="359.9" stroke="#f1f1f1" stroke-width="0.5"/>
<line x1="213.2" x2="364" y1="356.9" y2="356.9" stroke="#f1f1f1" stroke-width="0.5"/>
<line x1="213.2" x2="364" y1="353.8" y2="353.8" stroke="#f1f1f1" stroke-width="0.5"/>
<line x1="213.2" x2="364" y1="350.8" y2="350.8" stroke="#f1f1f1" stroke-width="0.5"/>
<line x1="213.2" x2="364" y1="347.8" y2="347.8" stroke="#f1f1f1" stroke-width="0.5"/>
<line x1="213.2" x2="364" y1="344.8" y2="344.8" stroke="#f1f1f1" stroke-width="0.5"/>
<line x1="213.2" x2="364" y1="341.8" y2="341.8" stroke="#f1f1f1" stroke-width="0.5"/>
<line x1="213.2" x2="364" y1="338.8" y2="338.8" stroke="#f1f1f1" stroke-width="0.5"/>
<line x1="213.2" x2="364" y1="335.8" y2="335.8" stroke="#f1f1f1" stroke-width="0.5"/>
<line x1="213.2" x2="364" y1="332.8" y2="332.8" stroke="#f1f1f1" stroke-width="0.5"/>
<line x1="213.2" x2="364" y1="329.9" y2="329.9" stroke="#f1f1f1" stroke-width="0.5"/>
<line x1="213.2" x2="364" y1="326.9" y2="326.9" stroke="#f1f1f1" stroke-width="0.5"/>
<line x1="213.2" x2="364" y1="324.0" y2="324.0" stroke="#f1f1f1" stroke-width="0.5"/>
<line x1="213.2" x2="364" y1="321.0" y2="321.0" stroke="#f1f1f1" stroke-width="0.5"/>
<line x1="213.2" x2="364" y1="318.1" y2="318.1" stroke="#f1f1f1" stroke-width="0.5"/>
<line x1="213.2" x2="364" y1="315.2" y2="315.2" stroke="#f1f1f1" stroke-width="0.5"/>
<line x1="213.2" x2="364" y1="426.1" y2="426.1" stroke="#e6e6e6" stroke-width="0.5"/>
<line x1="213.2" x2="364" y1="409.9" y2="409.9" stroke="#e6e6e6" stroke-width="0.5"/>
<line x1="213.2" x2="364" y1="394.0" y2="394.0" stroke="#e6e6e6" stroke-width="0.5"/>
<line x1="213.2" x2="364" y1="378.4" y2="378.4" stroke="#e6e6e6" stroke-width="0.5"/>
<line x1="213.2" x2="364" y1="363.0" y2="363.0" stroke="#e6e6e6" stroke-width="0.5"/>
<line x1="213.2" x2="364" y1="347.8" y2="347.8" stroke="#e6e6e6" stroke-width="0.5"/>
<line x1="213.2" x2="364" y1="332.8" y2="332.8" stroke="#e6e6e6" stroke-width="0.5"/>
<line x1="213.2" x2="364" y1="318.1" y2="318.1" stroke="#e6e6e6" stroke-width="0.5"/>
<line x1="263.5" x2="263.5" y1="314.7" y2="433.8" stroke="#e6e6e6" stroke-width="0.5"/>
<line x1="313.7" x2="313.7" y1="314.7" y2="433.8" stroke="#e6e6e6" stroke-width="0.5"/>
<rect x="213.2" y="314.7" width="150.8" height="119.10000000000002" fill="none" stroke="#707070" stroke-width="0.7"/>
<line x1="213.2" x2="214.7" y1="426.1" y2="426.1" stroke="#777" stroke-width="0.5"/>
<line x1="362.5" x2="364" y1="426.1" y2="426.1" stroke="#777" stroke-width="0.5"/>
<text x="211.0" y="427.7" class="tk" text-anchor="end">3100</text>
<line x1="213.2" x2="214.7" y1="409.9" y2="409.9" stroke="#777" stroke-width="0.5"/>
<line x1="362.5" x2="364" y1="409.9" y2="409.9" stroke="#777" stroke-width="0.5"/>
<text x="211.0" y="411.5" class="tk" text-anchor="end">3150</text>
<line x1="213.2" x2="214.7" y1="394.0" y2="394.0" stroke="#777" stroke-width="0.5"/>
<line x1="362.5" x2="364" y1="394.0" y2="394.0" stroke="#777" stroke-width="0.5"/>
<text x="211.0" y="395.6" class="tk" text-anchor="end">3200</text>
<line x1="213.2" x2="214.7" y1="378.4" y2="378.4" stroke="#777" stroke-width="0.5"/>
<line x1="362.5" x2="364" y1="378.4" y2="378.4" stroke="#777" stroke-width="0.5"/>
<text x="211.0" y="380.0" class="tk" text-anchor="end">3250</text>
<line x1="213.2" x2="214.7" y1="363.0" y2="363.0" stroke="#777" stroke-width="0.5"/>
<line x1="362.5" x2="364" y1="363.0" y2="363.0" stroke="#777" stroke-width="0.5"/>
<text x="211.0" y="364.6" class="tk" text-anchor="end">3300</text>
<line x1="213.2" x2="214.7" y1="347.8" y2="347.8" stroke="#777" stroke-width="0.5"/>
<line x1="362.5" x2="364" y1="347.8" y2="347.8" stroke="#777" stroke-width="0.5"/>
<text x="211.0" y="349.4" class="tk" text-anchor="end">3350</text>
<line x1="213.2" x2="214.7" y1="332.8" y2="332.8" stroke="#777" stroke-width="0.5"/>
<line x1="362.5" x2="364" y1="332.8" y2="332.8" stroke="#777" stroke-width="0.5"/>
<text x="211.0" y="334.4" class="tk" text-anchor="end">3400</text>
<line x1="213.2" x2="214.7" y1="318.1" y2="318.1" stroke="#777" stroke-width="0.5"/>
<line x1="362.5" x2="364" y1="318.1" y2="318.1" stroke="#777" stroke-width="0.5"/>
<text x="211.0" y="319.7" class="tk" text-anchor="end">3450</text>
<text x="213.2" y="440.0" class="tk" text-anchor="middle">0</text>
<line x1="263.5" x2="263.5" y1="432.3" y2="433.8" stroke="#777" stroke-width="0.5"/>
<line x1="263.5" x2="263.5" y1="314.7" y2="316.2" stroke="#777" stroke-width="0.5"/>
<text x="263.5" y="440.0" class="tk" text-anchor="middle">500</text>
<line x1="313.7" x2="313.7" y1="432.3" y2="433.8" stroke="#777" stroke-width="0.5"/>
<line x1="313.7" x2="313.7" y1="314.7" y2="316.2" stroke="#777" stroke-width="0.5"/>
<text x="313.7" y="440.0" class="tk" text-anchor="middle">1000</text>
<text x="364.0" y="440.0" class="tk" text-anchor="middle">1500</text>
<clipPath id="cliph"><rect x="210.2" y="311.7" width="156.8" height="125.10000000000002"/></clipPath>
<g clip-path="url(#cliph)">
<path d="M213.2,403.1L221.1,433.1L364.0,433.6" fill="none" stroke="#45d845" stroke-width="0.9" stroke-linejoin="round"/>
<circle cx="213.2" cy="403.1" r="1.7" fill="#7ee87e" stroke="#45d845" stroke-width="0.6"/>
<circle cx="221.1" cy="433.1" r="1.7" fill="#7ee87e" stroke="#45d845" stroke-width="0.6"/>
<circle cx="229.1" cy="433.1" r="1.7" fill="#7ee87e" stroke="#45d845" stroke-width="0.6"/>
<circle cx="237.0" cy="433.2" r="1.7" fill="#7ee87e" stroke="#45d845" stroke-width="0.6"/>
<circle cx="244.9" cy="433.2" r="1.7" fill="#7ee87e" stroke="#45d845" stroke-width="0.6"/>
<circle cx="252.9" cy="433.2" r="1.7" fill="#7ee87e" stroke="#45d845" stroke-width="0.6"/>
<circle cx="260.8" cy="433.2" r="1.7" fill="#7ee87e" stroke="#45d845" stroke-width="0.6"/>
<circle cx="268.8" cy="433.3" r="1.7" fill="#7ee87e" stroke="#45d845" stroke-width="0.6"/>
<circle cx="276.7" cy="433.3" r="1.7" fill="#7ee87e" stroke="#45d845" stroke-width="0.6"/>
<circle cx="284.6" cy="433.3" r="1.7" fill="#7ee87e" stroke="#45d845" stroke-width="0.6"/>
<circle cx="292.6" cy="433.4" r="1.7" fill="#7ee87e" stroke="#45d845" stroke-width="0.6"/>
<circle cx="300.5" cy="433.4" r="1.7" fill="#7ee87e" stroke="#45d845" stroke-width="0.6"/>
<circle cx="308.4" cy="433.4" r="1.7" fill="#7ee87e" stroke="#45d845" stroke-width="0.6"/>
<circle cx="316.4" cy="433.4" r="1.7" fill="#7ee87e" stroke="#45d845" stroke-width="0.6"/>
<circle cx="324.3" cy="433.5" r="1.7" fill="#7ee87e" stroke="#45d845" stroke-width="0.6"/>
<circle cx="332.3" cy="433.5" r="1.7" fill="#7ee87e" stroke="#45d845" stroke-width="0.6"/>
<circle cx="340.2" cy="433.5" r="1.7" fill="#7ee87e" stroke="#45d845" stroke-width="0.6"/>
<circle cx="348.1" cy="433.5" r="1.7" fill="#7ee87e" stroke="#45d845" stroke-width="0.6"/>
<circle cx="356.1" cy="433.6" r="1.7" fill="#7ee87e" stroke="#45d845" stroke-width="0.6"/>
<circle cx="364.0" cy="433.6" r="1.7" fill="#7ee87e" stroke="#45d845" stroke-width="0.6"/>
<path d="M213.2,314.7L221.1,420.0L229.1,420.6L237.0,421.0L364.0,421.6" fill="none" stroke="#e84850" stroke-width="0.9" stroke-linejoin="round"/>
<path d="M211.3,313.4L215.1,313.4L213.2,316.4Z" fill="#f07070" stroke="#e84850" stroke-width="0.5"/>
<path d="M219.2,418.7L223.0,418.7L221.1,421.7Z" fill="#f07070" stroke="#e84850" stroke-width="0.5"/>
<path d="M227.2,419.3L231.0,419.3L229.1,422.3Z" fill="#f07070" stroke="#e84850" stroke-width="0.5"/>
<path d="M235.1,419.7L238.9,419.7L237.0,422.7Z" fill="#f07070" stroke="#e84850" stroke-width="0.5"/>
<path d="M243.0,419.7L246.8,419.7L244.9,422.7Z" fill="#f07070" stroke="#e84850" stroke-width="0.5"/>
<path d="M251.0,419.7L254.8,419.7L252.9,422.8Z" fill="#f07070" stroke="#e84850" stroke-width="0.5"/>
<path d="M258.9,419.8L262.7,419.8L260.8,422.8Z" fill="#f07070" stroke="#e84850" stroke-width="0.5"/>
<path d="M266.9,419.8L270.7,419.8L268.8,422.9Z" fill="#f07070" stroke="#e84850" stroke-width="0.5"/>
<path d="M274.8,419.9L278.6,419.9L276.7,422.9Z" fill="#f07070" stroke="#e84850" stroke-width="0.5"/>
<path d="M282.7,419.9L286.5,419.9L284.6,422.9Z" fill="#f07070" stroke="#e84850" stroke-width="0.5"/>
<path d="M290.7,419.9L294.5,419.9L292.6,423.0Z" fill="#f07070" stroke="#e84850" stroke-width="0.5"/>
<path d="M298.6,420.0L302.4,420.0L300.5,423.0Z" fill="#f07070" stroke="#e84850" stroke-width="0.5"/>
<path d="M306.5,420.0L310.3,420.0L308.4,423.0Z" fill="#f07070" stroke="#e84850" stroke-width="0.5"/>
<path d="M314.5,420.0L318.3,420.0L316.4,423.1Z" fill="#f07070" stroke="#e84850" stroke-width="0.5"/>
<path d="M322.4,420.1L326.2,420.1L324.3,423.1Z" fill="#f07070" stroke="#e84850" stroke-width="0.5"/>
<path d="M330.4,420.1L334.2,420.1L332.3,423.2Z" fill="#f07070" stroke="#e84850" stroke-width="0.5"/>
<path d="M338.3,420.2L342.1,420.2L340.2,423.2Z" fill="#f07070" stroke="#e84850" stroke-width="0.5"/>
<path d="M346.2,420.2L350.0,420.2L348.1,423.2Z" fill="#f07070" stroke="#e84850" stroke-width="0.5"/>
<path d="M354.2,420.2L358.0,420.2L356.1,423.3Z" fill="#f07070" stroke="#e84850" stroke-width="0.5"/>
<path d="M362.1,420.3L365.9,420.3L364.0,423.3Z" fill="#f07070" stroke="#e84850" stroke-width="0.5"/>
<path d="M213.2,342.5L221.1,431.2L229.1,432.2L364.0,432.6" fill="none" stroke="#3a3a3a" stroke-width="0.9" stroke-linejoin="round"/>
<path d="M211.3,343.8L215.1,343.8L213.2,340.8Z" fill="#777777" stroke="#3a3a3a" stroke-width="0.5"/>
<path d="M219.2,432.5L223.0,432.5L221.1,429.5Z" fill="#777777" stroke="#3a3a3a" stroke-width="0.5"/>
<path d="M227.2,433.5L231.0,433.5L229.1,430.5Z" fill="#777777" stroke="#3a3a3a" stroke-width="0.5"/>
<path d="M235.1,433.6L238.9,433.6L237.0,430.5Z" fill="#777777" stroke="#3a3a3a" stroke-width="0.5"/>
<path d="M243.0,433.6L246.8,433.6L244.9,430.5Z" fill="#777777" stroke="#3a3a3a" stroke-width="0.5"/>
<path d="M251.0,433.6L254.8,433.6L252.9,430.6Z" fill="#777777" stroke="#3a3a3a" stroke-width="0.5"/>
<path d="M258.9,433.6L262.7,433.6L260.8,430.6Z" fill="#777777" stroke="#3a3a3a" stroke-width="0.5"/>
<path d="M266.9,433.6L270.7,433.6L268.8,430.6Z" fill="#777777" stroke="#3a3a3a" stroke-width="0.5"/>
<path d="M274.8,433.7L278.6,433.7L276.7,430.6Z" fill="#777777" stroke="#3a3a3a" stroke-width="0.5"/>
<path d="M282.7,433.7L286.5,433.7L284.6,430.7Z" fill="#777777" stroke="#3a3a3a" stroke-width="0.5"/>
<path d="M290.7,433.7L294.5,433.7L292.6,430.7Z" fill="#777777" stroke="#3a3a3a" stroke-width="0.5"/>
<path d="M298.6,433.7L302.4,433.7L300.5,430.7Z" fill="#777777" stroke="#3a3a3a" stroke-width="0.5"/>
<path d="M306.5,433.8L310.3,433.8L308.4,430.7Z" fill="#777777" stroke="#3a3a3a" stroke-width="0.5"/>
<path d="M314.5,433.8L318.3,433.8L316.4,430.7Z" fill="#777777" stroke="#3a3a3a" stroke-width="0.5"/>
<path d="M322.4,433.8L326.2,433.8L324.3,430.8Z" fill="#777777" stroke="#3a3a3a" stroke-width="0.5"/>
<path d="M330.4,433.8L334.2,433.8L332.3,430.8Z" fill="#777777" stroke="#3a3a3a" stroke-width="0.5"/>
<path d="M338.3,433.9L342.1,433.9L340.2,430.8Z" fill="#777777" stroke="#3a3a3a" stroke-width="0.5"/>
<path d="M346.2,433.9L350.0,433.9L348.1,430.8Z" fill="#777777" stroke="#3a3a3a" stroke-width="0.5"/>
<path d="M354.2,433.9L358.0,433.9L356.1,430.9Z" fill="#777777" stroke="#3a3a3a" stroke-width="0.5"/>
<path d="M362.1,433.9L365.9,433.9L364.0,430.9Z" fill="#777777" stroke="#3a3a3a" stroke-width="0.5"/>
<path d="M213.2,336.3L221.1,410.1L229.1,415.9L237.0,417.7L364.0,418.5" fill="none" stroke="#e02ee0" stroke-width="0.9" stroke-linejoin="round"/>
<circle cx="213.2" cy="336.3" r="1.4" fill="#e02ee0"/>
<circle cx="221.1" cy="410.1" r="1.4" fill="#e02ee0"/>
<circle cx="229.1" cy="415.9" r="1.4" fill="#e02ee0"/>
<circle cx="237.0" cy="417.7" r="1.4" fill="#e02ee0"/>
<circle cx="244.9" cy="417.8" r="1.4" fill="#e02ee0"/>
<circle cx="252.9" cy="417.8" r="1.4" fill="#e02ee0"/>
<circle cx="260.8" cy="417.8" r="1.4" fill="#e02ee0"/>
<circle cx="268.8" cy="417.9" r="1.4" fill="#e02ee0"/>
<circle cx="276.7" cy="417.9" r="1.4" fill="#e02ee0"/>
<circle cx="284.6" cy="418.0" r="1.4" fill="#e02ee0"/>
<circle cx="292.6" cy="418.1" r="1.4" fill="#e02ee0"/>
<circle cx="300.5" cy="418.1" r="1.4" fill="#e02ee0"/>
<circle cx="308.4" cy="418.1" r="1.4" fill="#e02ee0"/>
<circle cx="316.4" cy="418.2" r="1.4" fill="#e02ee0"/>
<circle cx="324.3" cy="418.2" r="1.4" fill="#e02ee0"/>
<circle cx="332.3" cy="418.3" r="1.4" fill="#e02ee0"/>
<circle cx="340.2" cy="418.4" r="1.4" fill="#e02ee0"/>
<circle cx="348.1" cy="418.4" r="1.4" fill="#e02ee0"/>
<circle cx="356.1" cy="418.4" r="1.4" fill="#e02ee0"/>
<circle cx="364.0" cy="418.5" r="1.4" fill="#e02ee0"/>
<path d="M213.2,365.4L221.1,420.3L229.1,424.3L237.0,425.8L244.9,426.1L252.9,426.8L268.8,427.8L364.0,428.2" fill="none" stroke="#3a3ae0" stroke-width="0.9" stroke-linejoin="round"/>
<path d="M211.5,365.4L214.5,363.5L214.5,367.3Z" fill="#7070f0" stroke="#3a3ae0" stroke-width="0.5"/>
<path d="M219.4,420.3L222.5,418.4L222.5,422.2Z" fill="#7070f0" stroke="#3a3ae0" stroke-width="0.5"/>
<path d="M227.4,424.3L230.4,422.4L230.4,426.2Z" fill="#7070f0" stroke="#3a3ae0" stroke-width="0.5"/>
<path d="M235.3,425.8L238.3,423.9L238.3,427.7Z" fill="#7070f0" stroke="#3a3ae0" stroke-width="0.5"/>
<path d="M243.2,426.1L246.3,424.2L246.3,428.0Z" fill="#7070f0" stroke="#3a3ae0" stroke-width="0.5"/>
<path d="M251.2,426.8L254.2,424.9L254.2,428.7Z" fill="#7070f0" stroke="#3a3ae0" stroke-width="0.5"/>
<path d="M259.1,427.3L262.2,425.4L262.2,429.2Z" fill="#7070f0" stroke="#3a3ae0" stroke-width="0.5"/>
<path d="M267.0,427.8L270.1,425.9L270.1,429.7Z" fill="#7070f0" stroke="#3a3ae0" stroke-width="0.5"/>
<path d="M275.0,427.8L278.0,425.9L278.0,429.7Z" fill="#7070f0" stroke="#3a3ae0" stroke-width="0.5"/>
<path d="M282.9,427.9L286.0,426.0L286.0,429.8Z" fill="#7070f0" stroke="#3a3ae0" stroke-width="0.5"/>
<path d="M290.9,427.9L293.9,426.0L293.9,429.8Z" fill="#7070f0" stroke="#3a3ae0" stroke-width="0.5"/>
<path d="M298.8,427.9L301.8,426.0L301.8,429.8Z" fill="#7070f0" stroke="#3a3ae0" stroke-width="0.5"/>
<path d="M306.7,428.0L309.8,426.1L309.8,429.9Z" fill="#7070f0" stroke="#3a3ae0" stroke-width="0.5"/>
<path d="M314.7,428.0L317.7,426.1L317.7,429.9Z" fill="#7070f0" stroke="#3a3ae0" stroke-width="0.5"/>
<path d="M322.6,428.0L325.6,426.1L325.6,429.9Z" fill="#7070f0" stroke="#3a3ae0" stroke-width="0.5"/>
<path d="M330.5,428.1L333.6,426.2L333.6,430.0Z" fill="#7070f0" stroke="#3a3ae0" stroke-width="0.5"/>
<path d="M338.5,428.1L341.5,426.2L341.5,430.0Z" fill="#7070f0" stroke="#3a3ae0" stroke-width="0.5"/>
<path d="M346.4,428.1L349.5,426.2L349.5,430.0Z" fill="#7070f0" stroke="#3a3ae0" stroke-width="0.5"/>
<path d="M354.4,428.2L357.4,426.3L357.4,430.1Z" fill="#7070f0" stroke="#3a3ae0" stroke-width="0.5"/>
<path d="M362.3,428.2L365.3,426.3L365.3,430.1Z" fill="#7070f0" stroke="#3a3ae0" stroke-width="0.5"/>
<path d="M213.2,361.0L221.1,396.7L364.0,396.9" fill="none" stroke="#28e0e0" stroke-width="0.9" stroke-linejoin="round"/>
<circle cx="213.2" cy="361.0" r="1.2" fill="#28e0e0"/><path d="M211.7,361.0H214.7M213.2,359.5V362.5" stroke="#28e0e0" stroke-width="0.5"/>
<circle cx="221.1" cy="396.7" r="1.2" fill="#28e0e0"/><path d="M219.6,396.7H222.6M221.1,395.2V398.2" stroke="#28e0e0" stroke-width="0.5"/>
<circle cx="229.1" cy="396.7" r="1.2" fill="#28e0e0"/><path d="M227.6,396.7H230.6M229.1,395.2V398.2" stroke="#28e0e0" stroke-width="0.5"/>
<circle cx="237.0" cy="396.7" r="1.2" fill="#28e0e0"/><path d="M235.5,396.7H238.5M237.0,395.2V398.2" stroke="#28e0e0" stroke-width="0.5"/>
<circle cx="244.9" cy="396.7" r="1.2" fill="#28e0e0"/><path d="M243.4,396.7H246.4M244.9,395.2V398.2" stroke="#28e0e0" stroke-width="0.5"/>
<circle cx="252.9" cy="396.7" r="1.2" fill="#28e0e0"/><path d="M251.4,396.7H254.4M252.9,395.2V398.2" stroke="#28e0e0" stroke-width="0.5"/>
<circle cx="260.8" cy="396.8" r="1.2" fill="#28e0e0"/><path d="M259.3,396.8H262.3M260.8,395.3V398.3" stroke="#28e0e0" stroke-width="0.5"/>
<circle cx="268.8" cy="396.8" r="1.2" fill="#28e0e0"/><path d="M267.3,396.8H270.3M268.8,395.3V398.3" stroke="#28e0e0" stroke-width="0.5"/>
<circle cx="276.7" cy="396.8" r="1.2" fill="#28e0e0"/><path d="M275.2,396.8H278.2M276.7,395.3V398.3" stroke="#28e0e0" stroke-width="0.5"/>
<circle cx="284.6" cy="396.8" r="1.2" fill="#28e0e0"/><path d="M283.1,396.8H286.1M284.6,395.3V398.3" stroke="#28e0e0" stroke-width="0.5"/>
<circle cx="292.6" cy="396.8" r="1.2" fill="#28e0e0"/><path d="M291.1,396.8H294.1M292.6,395.3V398.3" stroke="#28e0e0" stroke-width="0.5"/>
<circle cx="300.5" cy="396.8" r="1.2" fill="#28e0e0"/><path d="M299.0,396.8H302.0M300.5,395.3V398.3" stroke="#28e0e0" stroke-width="0.5"/>
<circle cx="308.4" cy="396.8" r="1.2" fill="#28e0e0"/><path d="M306.9,396.8H309.9M308.4,395.3V398.3" stroke="#28e0e0" stroke-width="0.5"/>
<circle cx="316.4" cy="396.8" r="1.2" fill="#28e0e0"/><path d="M314.9,396.8H317.9M316.4,395.3V398.3" stroke="#28e0e0" stroke-width="0.5"/>
<circle cx="324.3" cy="396.8" r="1.2" fill="#28e0e0"/><path d="M322.8,396.8H325.8M324.3,395.3V398.3" stroke="#28e0e0" stroke-width="0.5"/>
<circle cx="332.3" cy="396.9" r="1.2" fill="#28e0e0"/><path d="M330.8,396.9H333.8M332.3,395.4V398.4" stroke="#28e0e0" stroke-width="0.5"/>
<circle cx="340.2" cy="396.9" r="1.2" fill="#28e0e0"/><path d="M338.7,396.9H341.7M340.2,395.4V398.4" stroke="#28e0e0" stroke-width="0.5"/>
<circle cx="348.1" cy="396.9" r="1.2" fill="#28e0e0"/><path d="M346.6,396.9H349.6M348.1,395.4V398.4" stroke="#28e0e0" stroke-width="0.5"/>
<circle cx="356.1" cy="396.9" r="1.2" fill="#28e0e0"/><path d="M354.6,396.9H357.6M356.1,395.4V398.4" stroke="#28e0e0" stroke-width="0.5"/>
<circle cx="364.0" cy="396.9" r="1.2" fill="#28e0e0"/><path d="M362.5,396.9H365.5M364.0,395.4V398.4" stroke="#28e0e0" stroke-width="0.5"/>
<path d="M213.2,331.6L221.1,335.5L244.9,335.3L252.9,372.8L260.8,388.0L276.7,388.2L284.6,394.5L292.6,397.8L324.3,398.2L332.3,399.6L364.0,401.5" fill="none" stroke="#d9a030" stroke-width="0.9" stroke-linejoin="round"/>
<path d="M211.3,331.6L213.2,329.7L215.1,331.6L213.2,333.5Z" fill="#e0b050" stroke="#d9a030" stroke-width="0.5"/>
<path d="M219.2,335.5L221.1,333.6L223.0,335.5L221.1,337.4Z" fill="#e0b050" stroke="#d9a030" stroke-width="0.5"/>
<path d="M227.2,335.4L229.1,333.5L231.0,335.4L229.1,337.3Z" fill="#e0b050" stroke="#d9a030" stroke-width="0.5"/>
<path d="M235.1,335.4L237.0,333.5L238.9,335.4L237.0,337.3Z" fill="#e0b050" stroke="#d9a030" stroke-width="0.5"/>
<path d="M243.0,335.3L244.9,333.4L246.8,335.3L244.9,337.2Z" fill="#e0b050" stroke="#d9a030" stroke-width="0.5"/>
<path d="M251.0,372.8L252.9,370.9L254.8,372.8L252.9,374.7Z" fill="#e0b050" stroke="#d9a030" stroke-width="0.5"/>
<path d="M258.9,388.0L260.8,386.1L262.7,388.0L260.8,389.9Z" fill="#e0b050" stroke="#d9a030" stroke-width="0.5"/>
<path d="M266.9,388.1L268.8,386.2L270.7,388.1L268.8,390.0Z" fill="#e0b050" stroke="#d9a030" stroke-width="0.5"/>
<path d="M274.8,388.2L276.7,386.3L278.6,388.2L276.7,390.1Z" fill="#e0b050" stroke="#d9a030" stroke-width="0.5"/>
<path d="M282.7,394.5L284.6,392.6L286.5,394.5L284.6,396.4Z" fill="#e0b050" stroke="#d9a030" stroke-width="0.5"/>
<path d="M290.7,397.8L292.6,395.9L294.5,397.8L292.6,399.7Z" fill="#e0b050" stroke="#d9a030" stroke-width="0.5"/>
<path d="M298.6,397.9L300.5,396.0L302.4,397.9L300.5,399.8Z" fill="#e0b050" stroke="#d9a030" stroke-width="0.5"/>
<path d="M306.5,398.0L308.4,396.1L310.3,398.0L308.4,399.9Z" fill="#e0b050" stroke="#d9a030" stroke-width="0.5"/>
<path d="M314.5,398.1L316.4,396.2L318.3,398.1L316.4,400.0Z" fill="#e0b050" stroke="#d9a030" stroke-width="0.5"/>
<path d="M322.4,398.2L324.3,396.3L326.2,398.2L324.3,400.1Z" fill="#e0b050" stroke="#d9a030" stroke-width="0.5"/>
<path d="M330.4,399.6L332.3,397.7L334.2,399.6L332.3,401.5Z" fill="#e0b050" stroke="#d9a030" stroke-width="0.5"/>
<path d="M338.3,400.1L340.2,398.2L342.1,400.1L340.2,402.0Z" fill="#e0b050" stroke="#d9a030" stroke-width="0.5"/>
<path d="M346.2,400.6L348.1,398.7L350.0,400.6L348.1,402.4Z" fill="#e0b050" stroke="#d9a030" stroke-width="0.5"/>
<path d="M354.2,401.0L356.1,399.1L358.0,401.0L356.1,402.9Z" fill="#e0b050" stroke="#d9a030" stroke-width="0.5"/>
<path d="M362.1,401.5L364.0,399.6L365.9,401.5L364.0,403.4Z" fill="#e0b050" stroke="#d9a030" stroke-width="0.5"/>
</g>
<text x="285.5" y="312.4" class="tt" text-anchor="middle">F26</text>
<rect x="321.3" y="320" width="38.69999999999999" height="43.5" fill="#fff" stroke="#9a9a9a" stroke-width="0.5"/>
<line x1="322.8" x2="337.6" y1="324.1" y2="324.1" stroke="#45d845" stroke-width="0.9"/>
<circle cx="330.2" cy="324.1" r="1.7" fill="#7ee87e" stroke="#45d845" stroke-width="0.6"/>
<text x="338.8" y="325.8" class="lg">M1SCSO</text>
<line x1="322.8" x2="337.6" y1="330.1" y2="330.1" stroke="#e84850" stroke-width="0.9"/>
<path d="M328.3,328.8L332.1,328.8L330.2,331.9Z" fill="#f07070" stroke="#e84850" stroke-width="0.5"/>
<text x="338.8" y="331.8" class="lg">SCSO</text>
<line x1="322.8" x2="337.6" y1="336.2" y2="336.2" stroke="#3a3a3a" stroke-width="0.9"/>
<path d="M328.3,337.5L332.1,337.5L330.2,334.5Z" fill="#777777" stroke="#3a3a3a" stroke-width="0.5"/>
<text x="338.8" y="337.9" class="lg">SMOA</text>
<line x1="322.8" x2="337.6" y1="342.2" y2="342.2" stroke="#e02ee0" stroke-width="0.9"/>
<circle cx="330.2" cy="342.2" r="1.4" fill="#e02ee0"/>
<text x="338.8" y="343.9" class="lg">WOA</text>
<line x1="322.8" x2="337.6" y1="348.3" y2="348.3" stroke="#3a3ae0" stroke-width="0.9"/>
<path d="M328.5,348.3L331.5,346.4L331.5,350.2Z" fill="#7070f0" stroke="#3a3ae0" stroke-width="0.5"/>
<text x="338.8" y="350.0" class="lg">BWO</text>
<line x1="322.8" x2="337.6" y1="354.3" y2="354.3" stroke="#28e0e0" stroke-width="0.9"/>
<circle cx="330.2" cy="354.3" r="1.2" fill="#28e0e0"/><path d="M328.7,354.3H331.7M330.2,352.8V355.8" stroke="#28e0e0" stroke-width="0.5"/>
<text x="338.8" y="356.0" class="lg">ACO</text>
<line x1="322.8" x2="337.6" y1="360.4" y2="360.4" stroke="#d9a030" stroke-width="0.9"/>
<path d="M328.3,360.4L330.2,358.5L332.1,360.4L330.2,362.3Z" fill="#e0b050" stroke="#d9a030" stroke-width="0.5"/>
<text x="338.8" y="362.1" class="lg">RSA</text>
<text transform="translate(193.9,375) scale(1.08,1) rotate(-90)" class="yl" text-anchor="middle">Mean of objective function values</text>
<text x="285" y="451.2" class="xl" text-anchor="middle">Iteration</text>
<text x="356.9" y="448.3" class="tag" text-anchor="middle">(h)</text>
<line x1="392.7" x2="538.9" y1="431.6" y2="431.6" stroke="#f1f1f1" stroke-width="0.5"/>
<line x1="392.7" x2="538.9" y1="429.0" y2="429.0" stroke="#f1f1f1" stroke-width="0.5"/>
<line x1="392.7" x2="538.9" y1="426.4" y2="426.4" stroke="#f1f1f1" stroke-width="0.5"/>
<line x1="392.7" x2="538.9" y1="423.8" y2="423.8" stroke="#f1f1f1" stroke-width="0.5"/>
<line x1="392.7" x2="538.9" y1="421.2" y2="421.2" stroke="#f1f1f1" stroke-width="0.5"/>
<line x1="392.7" x2="538.9" y1="418.7" y2="418.7" stroke="#f1f1f1" stroke-width="0.5"/>
<line x1="392.7" x2="538.9" y1="416.1" y2="416.1" stroke="#f1f1f1" stroke-width="0.5"/>
<line x1="392.7" x2="538.9" y1="413.6" y2="413.6" stroke="#f1f1f1" stroke-width="0.5"/>
<line x1="392.7" x2="538.9" y1="411.1" y2="411.1" stroke="#f1f1f1" stroke-width="0.5"/>
<line x1="392.7" x2="538.9" y1="408.6" y2="408.6" stroke="#f1f1f1" stroke-width="0.5"/>
<line x1="392.7" x2="538.9" y1="406.1" y2="406.1" stroke="#f1f1f1" stroke-width="0.5"/>
<line x1="392.7" x2="538.9" y1="403.7" y2="403.7" stroke="#f1f1f1" stroke-width="0.5"/>
<line x1="392.7" x2="538.9" y1="401.2" y2="401.2" stroke="#f1f1f1" stroke-width="0.5"/>
<line x1="392.7" x2="538.9" y1="398.8" y2="398.8" stroke="#f1f1f1" stroke-width="0.5"/>
<line x1="392.7" x2="538.9" y1="396.3" y2="396.3" stroke="#f1f1f1" stroke-width="0.5"/>
<line x1="392.7" x2="538.9" y1="393.9" y2="393.9" stroke="#f1f1f1" stroke-width="0.5"/>
<line x1="392.7" x2="538.9" y1="391.5" y2="391.5" stroke="#f1f1f1" stroke-width="0.5"/>
<line x1="392.7" x2="538.9" y1="389.2" y2="389.2" stroke="#f1f1f1" stroke-width="0.5"/>
<line x1="392.7" x2="538.9" y1="386.8" y2="386.8" stroke="#f1f1f1" stroke-width="0.5"/>
<line x1="392.7" x2="538.9" y1="384.4" y2="384.4" stroke="#f1f1f1" stroke-width="0.5"/>
<line x1="392.7" x2="538.9" y1="382.1" y2="382.1" stroke="#f1f1f1" stroke-width="0.5"/>
<line x1="392.7" x2="538.9" y1="379.8" y2="379.8" stroke="#f1f1f1" stroke-width="0.5"/>
<line x1="392.7" x2="538.9" y1="377.4" y2="377.4" stroke="#f1f1f1" stroke-width="0.5"/>
<line x1="392.7" x2="538.9" y1="375.1" y2="375.1" stroke="#f1f1f1" stroke-width="0.5"/>
<line x1="392.7" x2="538.9" y1="372.9" y2="372.9" stroke="#f1f1f1" stroke-width="0.5"/>
<line x1="392.7" x2="538.9" y1="370.6" y2="370.6" stroke="#f1f1f1" stroke-width="0.5"/>
<line x1="392.7" x2="538.9" y1="368.3" y2="368.3" stroke="#f1f1f1" stroke-width="0.5"/>
<line x1="392.7" x2="538.9" y1="366.1" y2="366.1" stroke="#f1f1f1" stroke-width="0.5"/>
<line x1="392.7" x2="538.9" y1="363.8" y2="363.8" stroke="#f1f1f1" stroke-width="0.5"/>
<line x1="392.7" x2="538.9" y1="361.6" y2="361.6" stroke="#f1f1f1" stroke-width="0.5"/>
<line x1="392.7" x2="538.9" y1="359.4" y2="359.4" stroke="#f1f1f1" stroke-width="0.5"/>
<line x1="392.7" x2="538.9" y1="357.2" y2="357.2" stroke="#f1f1f1" stroke-width="0.5"/>
<line x1="392.7" x2="538.9" y1="355.0" y2="355.0" stroke="#f1f1f1" stroke-width="0.5"/>
<line x1="392.7" x2="538.9" y1="352.8" y2="352.8" stroke="#f1f1f1" stroke-width="0.5"/>
<line x1="392.7" x2="538.9" y1="350.6" y2="350.6" stroke="#f1f1f1" stroke-width="0.5"/>
<line x1="392.7" x2="538.9" y1="348.5" y2="348.5" stroke="#f1f1f1" stroke-width="0.5"/>
<line x1="392.7" x2="538.9" y1="346.3" y2="346.3" stroke="#f1f1f1" stroke-width="0.5"/>
<line x1="392.7" x2="538.9" y1="344.2" y2="344.2" stroke="#f1f1f1" stroke-width="0.5"/>
<line x1="392.7" x2="538.9" y1="342.1" y2="342.1" stroke="#f1f1f1" stroke-width="0.5"/>
<line x1="392.7" x2="538.9" y1="339.9" y2="339.9" stroke="#f1f1f1" stroke-width="0.5"/>
<line x1="392.7" x2="538.9" y1="337.8" y2="337.8" stroke="#f1f1f1" stroke-width="0.5"/>
<line x1="392.7" x2="538.9" y1="335.7" y2="335.7" stroke="#f1f1f1" stroke-width="0.5"/>
<line x1="392.7" x2="538.9" y1="333.7" y2="333.7" stroke="#f1f1f1" stroke-width="0.5"/>
<line x1="392.7" x2="538.9" y1="331.6" y2="331.6" stroke="#f1f1f1" stroke-width="0.5"/>
<line x1="392.7" x2="538.9" y1="329.5" y2="329.5" stroke="#f1f1f1" stroke-width="0.5"/>
<line x1="392.7" x2="538.9" y1="327.5" y2="327.5" stroke="#f1f1f1" stroke-width="0.5"/>
<line x1="392.7" x2="538.9" y1="325.4" y2="325.4" stroke="#f1f1f1" stroke-width="0.5"/>
<line x1="392.7" x2="538.9" y1="323.4" y2="323.4" stroke="#f1f1f1" stroke-width="0.5"/>
<line x1="392.7" x2="538.9" y1="321.4" y2="321.4" stroke="#f1f1f1" stroke-width="0.5"/>
<line x1="392.7" x2="538.9" y1="319.4" y2="319.4" stroke="#f1f1f1" stroke-width="0.5"/>
<line x1="392.7" x2="538.9" y1="317.4" y2="317.4" stroke="#f1f1f1" stroke-width="0.5"/>
<line x1="392.7" x2="538.9" y1="426.4" y2="426.4" stroke="#e6e6e6" stroke-width="0.5"/>
<line x1="392.7" x2="538.9" y1="413.6" y2="413.6" stroke="#e6e6e6" stroke-width="0.5"/>
<line x1="392.7" x2="538.9" y1="401.2" y2="401.2" stroke="#e6e6e6" stroke-width="0.5"/>
<line x1="392.7" x2="538.9" y1="389.2" y2="389.2" stroke="#e6e6e6" stroke-width="0.5"/>
<line x1="392.7" x2="538.9" y1="377.4" y2="377.4" stroke="#e6e6e6" stroke-width="0.5"/>
<line x1="392.7" x2="538.9" y1="366.1" y2="366.1" stroke="#e6e6e6" stroke-width="0.5"/>
<line x1="392.7" x2="538.9" y1="355.0" y2="355.0" stroke="#e6e6e6" stroke-width="0.5"/>
<line x1="392.7" x2="538.9" y1="344.2" y2="344.2" stroke="#e6e6e6" stroke-width="0.5"/>
<line x1="392.7" x2="538.9" y1="333.7" y2="333.7" stroke="#e6e6e6" stroke-width="0.5"/>
<line x1="392.7" x2="538.9" y1="323.4" y2="323.4" stroke="#e6e6e6" stroke-width="0.5"/>
<line x1="412.2" x2="412.2" y1="316.1" y2="432.3" stroke="#e6e6e6" stroke-width="0.5"/>
<line x1="431.7" x2="431.7" y1="316.1" y2="432.3" stroke="#e6e6e6" stroke-width="0.5"/>
<line x1="451.2" x2="451.2" y1="316.1" y2="432.3" stroke="#e6e6e6" stroke-width="0.5"/>
<line x1="470.7" x2="470.7" y1="316.1" y2="432.3" stroke="#e6e6e6" stroke-width="0.5"/>
<line x1="490.2" x2="490.2" y1="316.1" y2="432.3" stroke="#e6e6e6" stroke-width="0.5"/>
<line x1="509.7" x2="509.7" y1="316.1" y2="432.3" stroke="#e6e6e6" stroke-width="0.5"/>
<line x1="529.2" x2="529.2" y1="316.1" y2="432.3" stroke="#e6e6e6" stroke-width="0.5"/>
<rect x="392.7" y="316.1" width="146.2" height="116.19999999999999" fill="none" stroke="#707070" stroke-width="0.7"/>
<line x1="392.7" x2="394.2" y1="426.4" y2="426.4" stroke="#777" stroke-width="0.5"/>
<line x1="537.4" x2="538.9" y1="426.4" y2="426.4" stroke="#777" stroke-width="0.5"/>
<text x="390.5" y="428.0" class="tk" text-anchor="end">3200</text>
<line x1="392.7" x2="394.2" y1="413.6" y2="413.6" stroke="#777" stroke-width="0.5"/>
<line x1="537.4" x2="538.9" y1="413.6" y2="413.6" stroke="#777" stroke-width="0.5"/>
<text x="390.5" y="415.2" class="tk" text-anchor="end">3300</text>
<line x1="392.7" x2="394.2" y1="401.2" y2="401.2" stroke="#777" stroke-width="0.5"/>
<line x1="537.4" x2="538.9" y1="401.2" y2="401.2" stroke="#777" stroke-width="0.5"/>
<text x="390.5" y="402.8" class="tk" text-anchor="end">3400</text>
<line x1="392.7" x2="394.2" y1="389.2" y2="389.2" stroke="#777" stroke-width="0.5"/>
<line x1="537.4" x2="538.9" y1="389.2" y2="389.2" stroke="#777" stroke-width="0.5"/>
<text x="390.5" y="390.8" class="tk" text-anchor="end">3500</text>
<line x1="392.7" x2="394.2" y1="377.4" y2="377.4" stroke="#777" stroke-width="0.5"/>
<line x1="537.4" x2="538.9" y1="377.4" y2="377.4" stroke="#777" stroke-width="0.5"/>
<text x="390.5" y="379.0" class="tk" text-anchor="end">3600</text>
<line x1="392.7" x2="394.2" y1="366.1" y2="366.1" stroke="#777" stroke-width="0.5"/>
<line x1="537.4" x2="538.9" y1="366.1" y2="366.1" stroke="#777" stroke-width="0.5"/>
<text x="390.5" y="367.7" class="tk" text-anchor="end">3700</text>
<line x1="392.7" x2="394.2" y1="355.0" y2="355.0" stroke="#777" stroke-width="0.5"/>
<line x1="537.4" x2="538.9" y1="355.0" y2="355.0" stroke="#777" stroke-width="0.5"/>
<text x="390.5" y="356.6" class="tk" text-anchor="end">3800</text>
<line x1="392.7" x2="394.2" y1="344.2" y2="344.2" stroke="#777" stroke-width="0.5"/>
<line x1="537.4" x2="538.9" y1="344.2" y2="344.2" stroke="#777" stroke-width="0.5"/>
<text x="390.5" y="345.8" class="tk" text-anchor="end">3900</text>
<line x1="392.7" x2="394.2" y1="333.7" y2="333.7" stroke="#777" stroke-width="0.5"/>
<line x1="537.4" x2="538.9" y1="333.7" y2="333.7" stroke="#777" stroke-width="0.5"/>
<text x="390.5" y="335.3" class="tk" text-anchor="end">4000</text>
<line x1="392.7" x2="394.2" y1="323.4" y2="323.4" stroke="#777" stroke-width="0.5"/>
<line x1="537.4" x2="538.9" y1="323.4" y2="323.4" stroke="#777" stroke-width="0.5"/>
<text x="390.5" y="325.0" class="tk" text-anchor="end">4100</text>
<text x="392.7" y="438.5" class="tk" text-anchor="middle">0</text>
<line x1="412.2" x2="412.2" y1="430.8" y2="432.3" stroke="#777" stroke-width="0.5"/>
<line x1="412.2" x2="412.2" y1="316.1" y2="317.6" stroke="#777" stroke-width="0.5"/>
<text x="412.2" y="438.5" class="tk" text-anchor="middle">200</text>
<line x1="431.7" x2="431.7" y1="430.8" y2="432.3" stroke="#777" stroke-width="0.5"/>
<line x1="431.7" x2="431.7" y1="316.1" y2="317.6" stroke="#777" stroke-width="0.5"/>
<text x="431.7" y="438.5" class="tk" text-anchor="middle">400</text>
<line x1="451.2" x2="451.2" y1="430.8" y2="432.3" stroke="#777" stroke-width="0.5"/>
<line x1="451.2" x2="451.2" y1="316.1" y2="317.6" stroke="#777" stroke-width="0.5"/>
<text x="451.2" y="438.5" class="tk" text-anchor="middle">600</text>
<line x1="470.7" x2="470.7" y1="430.8" y2="432.3" stroke="#777" stroke-width="0.5"/>
<line x1="470.7" x2="470.7" y1="316.1" y2="317.6" stroke="#777" stroke-width="0.5"/>
<text x="470.7" y="438.5" class="tk" text-anchor="middle">800</text>
<line x1="490.2" x2="490.2" y1="430.8" y2="432.3" stroke="#777" stroke-width="0.5"/>
<line x1="490.2" x2="490.2" y1="316.1" y2="317.6" stroke="#777" stroke-width="0.5"/>
<text x="490.2" y="438.5" class="tk" text-anchor="middle">1000</text>
<line x1="509.7" x2="509.7" y1="430.8" y2="432.3" stroke="#777" stroke-width="0.5"/>
<line x1="509.7" x2="509.7" y1="316.1" y2="317.6" stroke="#777" stroke-width="0.5"/>
<text x="509.7" y="438.5" class="tk" text-anchor="middle">1200</text>
<line x1="529.2" x2="529.2" y1="430.8" y2="432.3" stroke="#777" stroke-width="0.5"/>
<line x1="529.2" x2="529.2" y1="316.1" y2="317.6" stroke="#777" stroke-width="0.5"/>
<text x="529.2" y="438.5" class="tk" text-anchor="middle">1400</text>
<clipPath id="clipi"><rect x="389.7" y="313.1" width="152.2" height="122.19999999999999"/></clipPath>
<g clip-path="url(#clipi)">
<path d="M392.7,365.3L400.4,418.0L538.9,418.5" fill="none" stroke="#45d845" stroke-width="0.9" stroke-linejoin="round"/>
<circle cx="392.7" cy="365.3" r="1.7" fill="#7ee87e" stroke="#45d845" stroke-width="0.6"/>
<circle cx="400.4" cy="418.0" r="1.7" fill="#7ee87e" stroke="#45d845" stroke-width="0.6"/>
<circle cx="408.1" cy="418.0" r="1.7" fill="#7ee87e" stroke="#45d845" stroke-width="0.6"/>
<circle cx="415.8" cy="418.1" r="1.7" fill="#7ee87e" stroke="#45d845" stroke-width="0.6"/>
<circle cx="423.5" cy="418.1" r="1.7" fill="#7ee87e" stroke="#45d845" stroke-width="0.6"/>
<circle cx="431.2" cy="418.1" r="1.7" fill="#7ee87e" stroke="#45d845" stroke-width="0.6"/>
<circle cx="438.9" cy="418.1" r="1.7" fill="#7ee87e" stroke="#45d845" stroke-width="0.6"/>
<circle cx="446.6" cy="418.2" r="1.7" fill="#7ee87e" stroke="#45d845" stroke-width="0.6"/>
<circle cx="454.3" cy="418.2" r="1.7" fill="#7ee87e" stroke="#45d845" stroke-width="0.6"/>
<circle cx="462.0" cy="418.2" r="1.7" fill="#7ee87e" stroke="#45d845" stroke-width="0.6"/>
<circle cx="469.6" cy="418.2" r="1.7" fill="#7ee87e" stroke="#45d845" stroke-width="0.6"/>
<circle cx="477.3" cy="418.3" r="1.7" fill="#7ee87e" stroke="#45d845" stroke-width="0.6"/>
<circle cx="485.0" cy="418.3" r="1.7" fill="#7ee87e" stroke="#45d845" stroke-width="0.6"/>
<circle cx="492.7" cy="418.3" r="1.7" fill="#7ee87e" stroke="#45d845" stroke-width="0.6"/>
<circle cx="500.4" cy="418.4" r="1.7" fill="#7ee87e" stroke="#45d845" stroke-width="0.6"/>
<circle cx="508.1" cy="418.4" r="1.7" fill="#7ee87e" stroke="#45d845" stroke-width="0.6"/>
<circle cx="515.8" cy="418.4" r="1.7" fill="#7ee87e" stroke="#45d845" stroke-width="0.6"/>
<circle cx="523.5" cy="418.4" r="1.7" fill="#7ee87e" stroke="#45d845" stroke-width="0.6"/>
<circle cx="531.2" cy="418.5" r="1.7" fill="#7ee87e" stroke="#45d845" stroke-width="0.6"/>
<path d="M392.7,345.0L400.4,402.7L408.1,404.2L415.8,404.6L492.7,404.6L500.4,407.4L538.9,407.8" fill="none" stroke="#e84850" stroke-width="0.9" stroke-linejoin="round"/>
<path d="M390.8,343.7L394.6,343.7L392.7,346.7Z" fill="#f07070" stroke="#e84850" stroke-width="0.5"/>
<path d="M398.5,401.4L402.3,401.4L400.4,404.4Z" fill="#f07070" stroke="#e84850" stroke-width="0.5"/>
<path d="M406.2,402.9L410.0,402.9L408.1,405.9Z" fill="#f07070" stroke="#e84850" stroke-width="0.5"/>
<path d="M413.9,403.3L417.7,403.3L415.8,406.3Z" fill="#f07070" stroke="#e84850" stroke-width="0.5"/>
<path d="M421.6,403.3L425.4,403.3L423.5,406.3Z" fill="#f07070" stroke="#e84850" stroke-width="0.5"/>
<path d="M429.3,403.3L433.1,403.3L431.2,406.3Z" fill="#f07070" stroke="#e84850" stroke-width="0.5"/>
<path d="M437.0,403.3L440.8,403.3L438.9,406.3Z" fill="#f07070" stroke="#e84850" stroke-width="0.5"/>
<path d="M444.7,403.3L448.5,403.3L446.6,406.3Z" fill="#f07070" stroke="#e84850" stroke-width="0.5"/>
<path d="M452.4,403.3L456.2,403.3L454.3,406.3Z" fill="#f07070" stroke="#e84850" stroke-width="0.5"/>
<path d="M460.1,403.3L463.9,403.3L462.0,406.3Z" fill="#f07070" stroke="#e84850" stroke-width="0.5"/>
<path d="M467.7,403.3L471.5,403.3L469.6,406.3Z" fill="#f07070" stroke="#e84850" stroke-width="0.5"/>
<path d="M475.4,403.3L479.2,403.3L477.3,406.3Z" fill="#f07070" stroke="#e84850" stroke-width="0.5"/>
<path d="M483.1,403.3L486.9,403.3L485.0,406.3Z" fill="#f07070" stroke="#e84850" stroke-width="0.5"/>
<path d="M490.8,403.3L494.6,403.3L492.7,406.3Z" fill="#f07070" stroke="#e84850" stroke-width="0.5"/>
<path d="M498.5,406.1L502.3,406.1L500.4,409.1Z" fill="#f07070" stroke="#e84850" stroke-width="0.5"/>
<path d="M506.2,406.1L510.0,406.1L508.1,409.2Z" fill="#f07070" stroke="#e84850" stroke-width="0.5"/>
<path d="M513.9,406.2L517.7,406.2L515.8,409.3Z" fill="#f07070" stroke="#e84850" stroke-width="0.5"/>
<path d="M521.6,406.3L525.4,406.3L523.5,409.3Z" fill="#f07070" stroke="#e84850" stroke-width="0.5"/>
<path d="M529.3,406.4L533.1,406.4L531.2,409.4Z" fill="#f07070" stroke="#e84850" stroke-width="0.5"/>
<path d="M392.7,336.9L400.4,415.4L408.1,417.7L415.8,418.0L538.9,418.5" fill="none" stroke="#3a3a3a" stroke-width="0.9" stroke-linejoin="round"/>
<path d="M390.8,338.2L394.6,338.2L392.7,335.2Z" fill="#777777" stroke="#3a3a3a" stroke-width="0.5"/>
<path d="M398.5,416.7L402.3,416.7L400.4,413.7Z" fill="#777777" stroke="#3a3a3a" stroke-width="0.5"/>
<path d="M406.2,419.0L410.0,419.0L408.1,416.0Z" fill="#777777" stroke="#3a3a3a" stroke-width="0.5"/>
<path d="M413.9,419.3L417.7,419.3L415.8,416.3Z" fill="#777777" stroke="#3a3a3a" stroke-width="0.5"/>
<path d="M421.6,419.4L425.4,419.4L423.5,416.3Z" fill="#777777" stroke="#3a3a3a" stroke-width="0.5"/>
<path d="M429.3,419.4L433.1,419.4L431.2,416.4Z" fill="#777777" stroke="#3a3a3a" stroke-width="0.5"/>
<path d="M437.0,419.4L440.8,419.4L438.9,416.4Z" fill="#777777" stroke="#3a3a3a" stroke-width="0.5"/>
<path d="M444.7,419.5L448.5,419.5L446.6,416.4Z" fill="#777777" stroke="#3a3a3a" stroke-width="0.5"/>
<path d="M452.4,419.5L456.2,419.5L454.3,416.4Z" fill="#777777" stroke="#3a3a3a" stroke-width="0.5"/>
<path d="M460.1,419.5L463.9,419.5L462.0,416.5Z" fill="#777777" stroke="#3a3a3a" stroke-width="0.5"/>
<path d="M467.7,419.5L471.5,419.5L469.6,416.5Z" fill="#777777" stroke="#3a3a3a" stroke-width="0.5"/>
<path d="M475.4,419.6L479.2,419.6L477.3,416.5Z" fill="#777777" stroke="#3a3a3a" stroke-width="0.5"/>
<path d="M483.1,419.6L486.9,419.6L485.0,416.6Z" fill="#777777" stroke="#3a3a3a" stroke-width="0.5"/>
<path d="M490.8,419.6L494.6,419.6L492.7,416.6Z" fill="#777777" stroke="#3a3a3a" stroke-width="0.5"/>
<path d="M498.5,419.7L502.3,419.7L500.4,416.6Z" fill="#777777" stroke="#3a3a3a" stroke-width="0.5"/>
<path d="M506.2,419.7L510.0,419.7L508.1,416.7Z" fill="#777777" stroke="#3a3a3a" stroke-width="0.5"/>
<path d="M513.9,419.7L517.7,419.7L515.8,416.7Z" fill="#777777" stroke="#3a3a3a" stroke-width="0.5"/>
<path d="M521.6,419.8L525.4,419.8L523.5,416.7Z" fill="#777777" stroke="#3a3a3a" stroke-width="0.5"/>
<path d="M529.3,419.8L533.1,419.8L531.2,416.8Z" fill="#777777" stroke="#3a3a3a" stroke-width="0.5"/>
<path d="M392.7,316.1L400.4,402.7L408.1,404.9L415.8,407.1L423.5,408.1L431.2,408.5L538.9,408.2" fill="none" stroke="#e02ee0" stroke-width="0.9" stroke-linejoin="round"/>
<circle cx="392.7" cy="316.1" r="1.4" fill="#e02ee0"/>
<circle cx="400.4" cy="402.7" r="1.4" fill="#e02ee0"/>
<circle cx="408.1" cy="404.9" r="1.4" fill="#e02ee0"/>
<circle cx="415.8" cy="407.1" r="1.4" fill="#e02ee0"/>
<circle cx="423.5" cy="408.1" r="1.4" fill="#e02ee0"/>
<circle cx="431.2" cy="408.5" r="1.4" fill="#e02ee0"/>
<circle cx="438.9" cy="408.5" r="1.4" fill="#e02ee0"/>
<circle cx="446.6" cy="408.5" r="1.4" fill="#e02ee0"/>
<circle cx="454.3" cy="408.4" r="1.4" fill="#e02ee0"/>
<circle cx="462.0" cy="408.4" r="1.4" fill="#e02ee0"/>
<circle cx="469.6" cy="408.4" r="1.4" fill="#e02ee0"/>
<circle cx="477.3" cy="408.4" r="1.4" fill="#e02ee0"/>
<circle cx="485.0" cy="408.4" r="1.4" fill="#e02ee0"/>
<circle cx="492.7" cy="408.3" r="1.4" fill="#e02ee0"/>
<circle cx="500.4" cy="408.3" r="1.4" fill="#e02ee0"/>
<circle cx="508.1" cy="408.3" r="1.4" fill="#e02ee0"/>
<circle cx="515.8" cy="408.3" r="1.4" fill="#e02ee0"/>
<circle cx="523.5" cy="408.2" r="1.4" fill="#e02ee0"/>
<circle cx="531.2" cy="408.2" r="1.4" fill="#e02ee0"/>
<path d="M392.7,340.5L400.4,403.5L408.1,412.9L415.8,417.3L423.5,419.5L431.2,420.6L438.9,421.6L446.6,422.4L454.3,426.6L462.0,427.7L469.6,428.8L477.3,429.6L485.0,430.9L492.7,431.3L538.9,432.0" fill="none" stroke="#3a3ae0" stroke-width="0.9" stroke-linejoin="round"/>
<path d="M391.0,340.5L394.0,338.6L394.0,342.4Z" fill="#7070f0" stroke="#3a3ae0" stroke-width="0.5"/>
<path d="M398.7,403.5L401.7,401.6L401.7,405.4Z" fill="#7070f0" stroke="#3a3ae0" stroke-width="0.5"/>
<path d="M406.4,412.9L409.4,411.0L409.4,414.8Z" fill="#7070f0" stroke="#3a3ae0" stroke-width="0.5"/>
<path d="M414.1,417.3L417.1,415.4L417.1,419.2Z" fill="#7070f0" stroke="#3a3ae0" stroke-width="0.5"/>
<path d="M421.8,419.5L424.8,417.6L424.8,421.4Z" fill="#7070f0" stroke="#3a3ae0" stroke-width="0.5"/>
<path d="M429.5,420.6L432.5,418.7L432.5,422.5Z" fill="#7070f0" stroke="#3a3ae0" stroke-width="0.5"/>
<path d="M437.2,421.6L440.2,419.7L440.2,423.5Z" fill="#7070f0" stroke="#3a3ae0" stroke-width="0.5"/>
<path d="M444.9,422.4L447.9,420.5L447.9,424.3Z" fill="#7070f0" stroke="#3a3ae0" stroke-width="0.5"/>
<path d="M452.5,426.6L455.6,424.7L455.6,428.5Z" fill="#7070f0" stroke="#3a3ae0" stroke-width="0.5"/>
<path d="M460.2,427.7L463.3,425.8L463.3,429.6Z" fill="#7070f0" stroke="#3a3ae0" stroke-width="0.5"/>
<path d="M467.9,428.8L471.0,426.9L471.0,430.7Z" fill="#7070f0" stroke="#3a3ae0" stroke-width="0.5"/>
<path d="M475.6,429.6L478.7,427.7L478.7,431.5Z" fill="#7070f0" stroke="#3a3ae0" stroke-width="0.5"/>
<path d="M483.3,430.9L486.4,429.0L486.4,432.8Z" fill="#7070f0" stroke="#3a3ae0" stroke-width="0.5"/>
<path d="M491.0,431.3L494.1,429.4L494.1,433.2Z" fill="#7070f0" stroke="#3a3ae0" stroke-width="0.5"/>
<path d="M498.7,431.4L501.8,429.5L501.8,433.3Z" fill="#7070f0" stroke="#3a3ae0" stroke-width="0.5"/>
<path d="M506.4,431.5L509.5,429.6L509.5,433.4Z" fill="#7070f0" stroke="#3a3ae0" stroke-width="0.5"/>
<path d="M514.1,431.6L517.1,429.8L517.1,433.5Z" fill="#7070f0" stroke="#3a3ae0" stroke-width="0.5"/>
<path d="M521.8,431.8L524.8,429.9L524.8,433.7Z" fill="#7070f0" stroke="#3a3ae0" stroke-width="0.5"/>
<path d="M529.5,431.9L532.5,430.0L532.5,433.8Z" fill="#7070f0" stroke="#3a3ae0" stroke-width="0.5"/>
<path d="M392.7,355.1L400.4,413.3L538.9,413.6" fill="none" stroke="#28e0e0" stroke-width="0.9" stroke-linejoin="round"/>
<circle cx="392.7" cy="355.1" r="1.2" fill="#28e0e0"/><path d="M391.2,355.1H394.2M392.7,353.6V356.6" stroke="#28e0e0" stroke-width="0.5"/>
<circle cx="400.4" cy="413.3" r="1.2" fill="#28e0e0"/><path d="M398.9,413.3H401.9M400.4,411.8V414.8" stroke="#28e0e0" stroke-width="0.5"/>
<circle cx="408.1" cy="413.3" r="1.2" fill="#28e0e0"/><path d="M406.6,413.3H409.6M408.1,411.8V414.8" stroke="#28e0e0" stroke-width="0.5"/>
<circle cx="415.8" cy="413.3" r="1.2" fill="#28e0e0"/><path d="M414.3,413.3H417.3M415.8,411.8V414.8" stroke="#28e0e0" stroke-width="0.5"/>
<circle cx="423.5" cy="413.4" r="1.2" fill="#28e0e0"/><path d="M422.0,413.4H425.0M423.5,411.9V414.9" stroke="#28e0e0" stroke-width="0.5"/>
<circle cx="431.2" cy="413.4" r="1.2" fill="#28e0e0"/><path d="M429.7,413.4H432.7M431.2,411.9V414.9" stroke="#28e0e0" stroke-width="0.5"/>
<circle cx="438.9" cy="413.4" r="1.2" fill="#28e0e0"/><path d="M437.4,413.4H440.4M438.9,411.9V414.9" stroke="#28e0e0" stroke-width="0.5"/>
<circle cx="446.6" cy="413.4" r="1.2" fill="#28e0e0"/><path d="M445.1,413.4H448.1M446.6,411.9V414.9" stroke="#28e0e0" stroke-width="0.5"/>
<circle cx="454.3" cy="413.4" r="1.2" fill="#28e0e0"/><path d="M452.8,413.4H455.8M454.3,411.9V414.9" stroke="#28e0e0" stroke-width="0.5"/>
<circle cx="462.0" cy="413.4" r="1.2" fill="#28e0e0"/><path d="M460.5,413.4H463.5M462.0,411.9V414.9" stroke="#28e0e0" stroke-width="0.5"/>
<circle cx="469.6" cy="413.5" r="1.2" fill="#28e0e0"/><path d="M468.1,413.5H471.1M469.6,412.0V415.0" stroke="#28e0e0" stroke-width="0.5"/>
<circle cx="477.3" cy="413.5" r="1.2" fill="#28e0e0"/><path d="M475.8,413.5H478.8M477.3,412.0V415.0" stroke="#28e0e0" stroke-width="0.5"/>
<circle cx="485.0" cy="413.5" r="1.2" fill="#28e0e0"/><path d="M483.5,413.5H486.5M485.0,412.0V415.0" stroke="#28e0e0" stroke-width="0.5"/>
<circle cx="492.7" cy="413.5" r="1.2" fill="#28e0e0"/><path d="M491.2,413.5H494.2M492.7,412.0V415.0" stroke="#28e0e0" stroke-width="0.5"/>
<circle cx="500.4" cy="413.5" r="1.2" fill="#28e0e0"/><path d="M498.9,413.5H501.9M500.4,412.0V415.0" stroke="#28e0e0" stroke-width="0.5"/>
<circle cx="508.1" cy="413.5" r="1.2" fill="#28e0e0"/><path d="M506.6,413.5H509.6M508.1,412.0V415.0" stroke="#28e0e0" stroke-width="0.5"/>
<circle cx="515.8" cy="413.6" r="1.2" fill="#28e0e0"/><path d="M514.3,413.6H517.3M515.8,412.1V415.1" stroke="#28e0e0" stroke-width="0.5"/>
<circle cx="523.5" cy="413.6" r="1.2" fill="#28e0e0"/><path d="M522.0,413.6H525.0M523.5,412.1V415.1" stroke="#28e0e0" stroke-width="0.5"/>
<circle cx="531.2" cy="413.6" r="1.2" fill="#28e0e0"/><path d="M529.7,413.6H532.7M531.2,412.1V415.1" stroke="#28e0e0" stroke-width="0.5"/>
<path d="M392.7,332.5L400.4,334.0L423.5,334.0L431.2,339.8L438.9,343.2L446.6,343.5L454.3,344.2L490.0,344.6L510.0,347.5L538.9,348.9" fill="none" stroke="#d9a030" stroke-width="0.9" stroke-linejoin="round"/>
<path d="M390.8,332.5L392.7,330.6L394.6,332.5L392.7,334.4Z" fill="#e0b050" stroke="#d9a030" stroke-width="0.5"/>
<path d="M398.5,334.0L400.4,332.1L402.3,334.0L400.4,335.9Z" fill="#e0b050" stroke="#d9a030" stroke-width="0.5"/>
<path d="M406.2,334.0L408.1,332.1L410.0,334.0L408.1,335.9Z" fill="#e0b050" stroke="#d9a030" stroke-width="0.5"/>
<path d="M413.9,334.0L415.8,332.1L417.7,334.0L415.8,335.9Z" fill="#e0b050" stroke="#d9a030" stroke-width="0.5"/>
<path d="M421.6,334.0L423.5,332.1L425.4,334.0L423.5,335.9Z" fill="#e0b050" stroke="#d9a030" stroke-width="0.5"/>
<path d="M429.3,339.8L431.2,337.9L433.1,339.8L431.2,341.7Z" fill="#e0b050" stroke="#d9a030" stroke-width="0.5"/>
<path d="M437.0,343.2L438.9,341.3L440.8,343.2L438.9,345.1Z" fill="#e0b050" stroke="#d9a030" stroke-width="0.5"/>
<path d="M444.7,343.5L446.6,341.6L448.5,343.5L446.6,345.4Z" fill="#e0b050" stroke="#d9a030" stroke-width="0.5"/>
<path d="M452.4,344.2L454.3,342.3L456.2,344.2L454.3,346.1Z" fill="#e0b050" stroke="#d9a030" stroke-width="0.5"/>
<path d="M460.1,344.3L462.0,342.4L463.9,344.3L462.0,346.2Z" fill="#e0b050" stroke="#d9a030" stroke-width="0.5"/>
<path d="M467.7,344.4L469.6,342.5L471.5,344.4L469.6,346.3Z" fill="#e0b050" stroke="#d9a030" stroke-width="0.5"/>
<path d="M475.4,344.5L477.3,342.6L479.2,344.5L477.3,346.4Z" fill="#e0b050" stroke="#d9a030" stroke-width="0.5"/>
<path d="M483.1,344.5L485.0,342.6L486.9,344.5L485.0,346.4Z" fill="#e0b050" stroke="#d9a030" stroke-width="0.5"/>
<path d="M490.8,345.0L492.7,343.1L494.6,345.0L492.7,346.9Z" fill="#e0b050" stroke="#d9a030" stroke-width="0.5"/>
<path d="M498.5,346.1L500.4,344.2L502.3,346.1L500.4,348.0Z" fill="#e0b050" stroke="#d9a030" stroke-width="0.5"/>
<path d="M506.2,347.2L508.1,345.3L510.0,347.2L508.1,349.1Z" fill="#e0b050" stroke="#d9a030" stroke-width="0.5"/>
<path d="M513.9,347.8L515.8,345.9L517.7,347.8L515.8,349.7Z" fill="#e0b050" stroke="#d9a030" stroke-width="0.5"/>
<path d="M521.6,348.2L523.5,346.3L525.4,348.2L523.5,350.1Z" fill="#e0b050" stroke="#d9a030" stroke-width="0.5"/>
<path d="M529.3,348.5L531.2,346.6L533.1,348.5L531.2,350.4Z" fill="#e0b050" stroke="#d9a030" stroke-width="0.5"/>
</g>
<text x="466" y="313" class="tt" text-anchor="middle">F27</text>
<rect x="494.2" y="320" width="38.80000000000001" height="43.5" fill="#fff" stroke="#9a9a9a" stroke-width="0.5"/>
<line x1="495.7" x2="510.5" y1="324.1" y2="324.1" stroke="#45d845" stroke-width="0.9"/>
<circle cx="503.1" cy="324.1" r="1.7" fill="#7ee87e" stroke="#45d845" stroke-width="0.6"/>
<text x="511.7" y="325.8" class="lg">M1SCSO</text>
<line x1="495.7" x2="510.5" y1="330.1" y2="330.1" stroke="#e84850" stroke-width="0.9"/>
<path d="M501.2,328.8L505.0,328.8L503.1,331.9Z" fill="#f07070" stroke="#e84850" stroke-width="0.5"/>
<text x="511.7" y="331.8" class="lg">SCSO</text>
<line x1="495.7" x2="510.5" y1="336.2" y2="336.2" stroke="#3a3a3a" stroke-width="0.9"/>
<path d="M501.2,337.5L505.0,337.5L503.1,334.5Z" fill="#777777" stroke="#3a3a3a" stroke-width="0.5"/>
<text x="511.7" y="337.9" class="lg">SMOA</text>
<line x1="495.7" x2="510.5" y1="342.2" y2="342.2" stroke="#e02ee0" stroke-width="0.9"/>
<circle cx="503.1" cy="342.2" r="1.4" fill="#e02ee0"/>
<text x="511.7" y="343.9" class="lg">WOA</text>
<line x1="495.7" x2="510.5" y1="348.3" y2="348.3" stroke="#3a3ae0" stroke-width="0.9"/>
<path d="M501.4,348.3L504.4,346.4L504.4,350.2Z" fill="#7070f0" stroke="#3a3ae0" stroke-width="0.5"/>
<text x="511.7" y="350.0" class="lg">BWO</text>
<line x1="495.7" x2="510.5" y1="354.3" y2="354.3" stroke="#28e0e0" stroke-width="0.9"/>
<circle cx="503.1" cy="354.3" r="1.2" fill="#28e0e0"/><path d="M501.6,354.3H504.6M503.1,352.8V355.8" stroke="#28e0e0" stroke-width="0.5"/>
<text x="511.7" y="356.0" class="lg">ACO</text>
<line x1="495.7" x2="510.5" y1="360.4" y2="360.4" stroke="#d9a030" stroke-width="0.9"/>
<path d="M501.2,360.4L503.1,358.5L505.0,360.4L503.1,362.3Z" fill="#e0b050" stroke="#d9a030" stroke-width="0.5"/>
<text x="511.7" y="362.1" class="lg">RSA</text>
<text transform="translate(374.4,376.5) scale(1.08,1) rotate(-90)" class="yl" text-anchor="middle">Mean of objective function values</text>
<text x="466" y="450.6" class="xl" text-anchor="middle">Iteration</text>
<text x="536.2" y="447.6" class="tag" text-anchor="middle">(i)</text>
<line x1="123" x2="270.2" y1="580.8" y2="580.8" stroke="#f1f1f1" stroke-width="0.5"/>
<line x1="123" x2="270.2" y1="577.6" y2="577.6" stroke="#f1f1f1" stroke-width="0.5"/>
<line x1="123" x2="270.2" y1="574.5" y2="574.5" stroke="#f1f1f1" stroke-width="0.5"/>
<line x1="123" x2="270.2" y1="571.4" y2="571.4" stroke="#f1f1f1" stroke-width="0.5"/>
<line x1="123" x2="270.2" y1="568.3" y2="568.3" stroke="#f1f1f1" stroke-width="0.5"/>
<line x1="123" x2="270.2" y1="565.2" y2="565.2" stroke="#f1f1f1" stroke-width="0.5"/>
<line x1="123" x2="270.2" y1="562.1" y2="562.1" stroke="#f1f1f1" stroke-width="0.5"/>
<line x1="123" x2="270.2" y1="559.1" y2="559.1" stroke="#f1f1f1" stroke-width="0.5"/>
<line x1="123" x2="270.2" y1="556.1" y2="556.1" stroke="#f1f1f1" stroke-width="0.5"/>
<line x1="123" x2="270.2" y1="553.1" y2="553.1" stroke="#f1f1f1" stroke-width="0.5"/>
<line x1="123" x2="270.2" y1="550.1" y2="550.1" stroke="#f1f1f1" stroke-width="0.5"/>
<line x1="123" x2="270.2" y1="547.1" y2="547.1" stroke="#f1f1f1" stroke-width="0.5"/>
<line x1="123" x2="270.2" y1="544.2" y2="544.2" stroke="#f1f1f1" stroke-width="0.5"/>
<line x1="123" x2="270.2" y1="541.2" y2="541.2" stroke="#f1f1f1" stroke-width="0.5"/>
<line x1="123" x2="270.2" y1="538.3" y2="538.3" stroke="#f1f1f1" stroke-width="0.5"/>
<line x1="123" x2="270.2" y1="535.4" y2="535.4" stroke="#f1f1f1" stroke-width="0.5"/>
<line x1="123" x2="270.2" y1="532.5" y2="532.5" stroke="#f1f1f1" stroke-width="0.5"/>
<line x1="123" x2="270.2" y1="529.7" y2="529.7" stroke="#f1f1f1" stroke-width="0.5"/>
<line x1="123" x2="270.2" y1="526.8" y2="526.8" stroke="#f1f1f1" stroke-width="0.5"/>
<line x1="123" x2="270.2" y1="524.0" y2="524.0" stroke="#f1f1f1" stroke-width="0.5"/>
<line x1="123" x2="270.2" y1="521.1" y2="521.1" stroke="#f1f1f1" stroke-width="0.5"/>
<line x1="123" x2="270.2" y1="518.3" y2="518.3" stroke="#f1f1f1" stroke-width="0.5"/>
<line x1="123" x2="270.2" y1="515.6" y2="515.6" stroke="#f1f1f1" stroke-width="0.5"/>
<line x1="123" x2="270.2" y1="512.8" y2="512.8" stroke="#f1f1f1" stroke-width="0.5"/>
<line x1="123" x2="270.2" y1="510.0" y2="510.0" stroke="#f1f1f1" stroke-width="0.5"/>
<line x1="123" x2="270.2" y1="507.3" y2="507.3" stroke="#f1f1f1" stroke-width="0.5"/>
<line x1="123" x2="270.2" y1="504.6" y2="504.6" stroke="#f1f1f1" stroke-width="0.5"/>
<line x1="123" x2="270.2" y1="501.8" y2="501.8" stroke="#f1f1f1" stroke-width="0.5"/>
<line x1="123" x2="270.2" y1="499.1" y2="499.1" stroke="#f1f1f1" stroke-width="0.5"/>
<line x1="123" x2="270.2" y1="496.5" y2="496.5" stroke="#f1f1f1" stroke-width="0.5"/>
<line x1="123" x2="270.2" y1="493.8" y2="493.8" stroke="#f1f1f1" stroke-width="0.5"/>
<line x1="123" x2="270.2" y1="491.1" y2="491.1" stroke="#f1f1f1" stroke-width="0.5"/>
<line x1="123" x2="270.2" y1="488.5" y2="488.5" stroke="#f1f1f1" stroke-width="0.5"/>
<line x1="123" x2="270.2" y1="485.9" y2="485.9" stroke="#f1f1f1" stroke-width="0.5"/>
<line x1="123" x2="270.2" y1="483.3" y2="483.3" stroke="#f1f1f1" stroke-width="0.5"/>
<line x1="123" x2="270.2" y1="480.7" y2="480.7" stroke="#f1f1f1" stroke-width="0.5"/>
<line x1="123" x2="270.2" y1="478.1" y2="478.1" stroke="#f1f1f1" stroke-width="0.5"/>
<line x1="123" x2="270.2" y1="475.5" y2="475.5" stroke="#f1f1f1" stroke-width="0.5"/>
<line x1="123" x2="270.2" y1="472.9" y2="472.9" stroke="#f1f1f1" stroke-width="0.5"/>
<line x1="123" x2="270.2" y1="470.4" y2="470.4" stroke="#f1f1f1" stroke-width="0.5"/>
<line x1="123" x2="270.2" y1="467.9" y2="467.9" stroke="#f1f1f1" stroke-width="0.5"/>
<line x1="123" x2="270.2" y1="574.5" y2="574.5" stroke="#e6e6e6" stroke-width="0.5"/>
<line x1="123" x2="270.2" y1="559.1" y2="559.1" stroke="#e6e6e6" stroke-width="0.5"/>
<line x1="123" x2="270.2" y1="544.2" y2="544.2" stroke="#e6e6e6" stroke-width="0.5"/>
<line x1="123" x2="270.2" y1="529.7" y2="529.7" stroke="#e6e6e6" stroke-width="0.5"/>
<line x1="123" x2="270.2" y1="515.6" y2="515.6" stroke="#e6e6e6" stroke-width="0.5"/>
<line x1="123" x2="270.2" y1="501.8" y2="501.8" stroke="#e6e6e6" stroke-width="0.5"/>
<line x1="123" x2="270.2" y1="488.5" y2="488.5" stroke="#e6e6e6" stroke-width="0.5"/>
<line x1="123" x2="270.2" y1="475.5" y2="475.5" stroke="#e6e6e6" stroke-width="0.5"/>
<line x1="172.1" x2="172.1" y1="466.3" y2="582.3" stroke="#e6e6e6" stroke-width="0.5"/>
<line x1="221.1" x2="221.1" y1="466.3" y2="582.3" stroke="#e6e6e6" stroke-width="0.5"/>
<rect x="123" y="466.3" width="147.2" height="115.99999999999994" fill="none" stroke="#707070" stroke-width="0.7"/>
<line x1="123" x2="124.5" y1="574.5" y2="574.5" stroke="#777" stroke-width="0.5"/>
<line x1="268.7" x2="270.2" y1="574.5" y2="574.5" stroke="#777" stroke-width="0.5"/>
<text x="120.8" y="576.1" class="tk" text-anchor="end">3200</text>
<line x1="123" x2="124.5" y1="559.1" y2="559.1" stroke="#777" stroke-width="0.5"/>
<line x1="268.7" x2="270.2" y1="559.1" y2="559.1" stroke="#777" stroke-width="0.5"/>
<text x="120.8" y="560.7" class="tk" text-anchor="end">3300</text>
<line x1="123" x2="124.5" y1="544.2" y2="544.2" stroke="#777" stroke-width="0.5"/>
<line x1="268.7" x2="270.2" y1="544.2" y2="544.2" stroke="#777" stroke-width="0.5"/>
<text x="120.8" y="545.8" class="tk" text-anchor="end">3400</text>
<line x1="123" x2="124.5" y1="529.7" y2="529.7" stroke="#777" stroke-width="0.5"/>
<line x1="268.7" x2="270.2" y1="529.7" y2="529.7" stroke="#777" stroke-width="0.5"/>
<text x="120.8" y="531.3" class="tk" text-anchor="end">3500</text>
<line x1="123" x2="124.5" y1="515.6" y2="515.6" stroke="#777" stroke-width="0.5"/>
<line x1="268.7" x2="270.2" y1="515.6" y2="515.6" stroke="#777" stroke-width="0.5"/>
<text x="120.8" y="517.2" class="tk" text-anchor="end">3600</text>
<line x1="123" x2="124.5" y1="501.8" y2="501.8" stroke="#777" stroke-width="0.5"/>
<line x1="268.7" x2="270.2" y1="501.8" y2="501.8" stroke="#777" stroke-width="0.5"/>
<text x="120.8" y="503.4" class="tk" text-anchor="end">3700</text>
<line x1="123" x2="124.5" y1="488.5" y2="488.5" stroke="#777" stroke-width="0.5"/>
<line x1="268.7" x2="270.2" y1="488.5" y2="488.5" stroke="#777" stroke-width="0.5"/>
<text x="120.8" y="490.1" class="tk" text-anchor="end">3800</text>
<line x1="123" x2="124.5" y1="475.5" y2="475.5" stroke="#777" stroke-width="0.5"/>
<line x1="268.7" x2="270.2" y1="475.5" y2="475.5" stroke="#777" stroke-width="0.5"/>
<text x="120.8" y="477.1" class="tk" text-anchor="end">3900</text>
<text x="123.0" y="588.5" class="tk" text-anchor="middle">0</text>
<line x1="172.1" x2="172.1" y1="580.8" y2="582.3" stroke="#777" stroke-width="0.5"/>
<line x1="172.1" x2="172.1" y1="466.3" y2="467.8" stroke="#777" stroke-width="0.5"/>
<text x="172.1" y="588.5" class="tk" text-anchor="middle">500</text>
<line x1="221.1" x2="221.1" y1="580.8" y2="582.3" stroke="#777" stroke-width="0.5"/>
<line x1="221.1" x2="221.1" y1="466.3" y2="467.8" stroke="#777" stroke-width="0.5"/>
<text x="221.1" y="588.5" class="tk" text-anchor="middle">1000</text>
<text x="270.2" y="588.5" class="tk" text-anchor="middle">1500</text>
<clipPath id="clipj"><rect x="120" y="463.3" width="153.2" height="121.99999999999994"/></clipPath>
<g clip-path="url(#clipj)">
<path d="M123.0,495.0L130.7,573.1L138.5,579.6L146.2,580.8L154.0,581.8L270.2,582.2" fill="none" stroke="#45d845" stroke-width="0.9" stroke-linejoin="round"/>
<circle cx="123.0" cy="495.0" r="1.7" fill="#7ee87e" stroke="#45d845" stroke-width="0.6"/>
<circle cx="130.7" cy="573.1" r="1.7" fill="#7ee87e" stroke="#45d845" stroke-width="0.6"/>
<circle cx="138.5" cy="579.6" r="1.7" fill="#7ee87e" stroke="#45d845" stroke-width="0.6"/>
<circle cx="146.2" cy="580.8" r="1.7" fill="#7ee87e" stroke="#45d845" stroke-width="0.6"/>
<circle cx="154.0" cy="581.8" r="1.7" fill="#7ee87e" stroke="#45d845" stroke-width="0.6"/>
<circle cx="161.7" cy="581.8" r="1.7" fill="#7ee87e" stroke="#45d845" stroke-width="0.6"/>
<circle cx="169.5" cy="581.9" r="1.7" fill="#7ee87e" stroke="#45d845" stroke-width="0.6"/>
<circle cx="177.2" cy="581.9" r="1.7" fill="#7ee87e" stroke="#45d845" stroke-width="0.6"/>
<circle cx="185.0" cy="581.9" r="1.7" fill="#7ee87e" stroke="#45d845" stroke-width="0.6"/>
<circle cx="192.7" cy="581.9" r="1.7" fill="#7ee87e" stroke="#45d845" stroke-width="0.6"/>
<circle cx="200.5" cy="582.0" r="1.7" fill="#7ee87e" stroke="#45d845" stroke-width="0.6"/>
<circle cx="208.2" cy="582.0" r="1.7" fill="#7ee87e" stroke="#45d845" stroke-width="0.6"/>
<circle cx="216.0" cy="582.0" r="1.7" fill="#7ee87e" stroke="#45d845" stroke-width="0.6"/>
<circle cx="223.7" cy="582.0" r="1.7" fill="#7ee87e" stroke="#45d845" stroke-width="0.6"/>
<circle cx="231.5" cy="582.1" r="1.7" fill="#7ee87e" stroke="#45d845" stroke-width="0.6"/>
<circle cx="239.2" cy="582.1" r="1.7" fill="#7ee87e" stroke="#45d845" stroke-width="0.6"/>
<circle cx="247.0" cy="582.1" r="1.7" fill="#7ee87e" stroke="#45d845" stroke-width="0.6"/>
<circle cx="254.7" cy="582.1" r="1.7" fill="#7ee87e" stroke="#45d845" stroke-width="0.6"/>
<circle cx="262.5" cy="582.2" r="1.7" fill="#7ee87e" stroke="#45d845" stroke-width="0.6"/>
<circle cx="270.2" cy="582.2" r="1.7" fill="#7ee87e" stroke="#45d845" stroke-width="0.6"/>
<path d="M123.0,476.0L130.7,551.3L138.5,567.3L146.2,568.7L154.0,569.5L169.5,570.9L177.2,571.2L270.2,572.5" fill="none" stroke="#e84850" stroke-width="0.9" stroke-linejoin="round"/>
<path d="M121.1,474.7L124.9,474.7L123.0,477.7Z" fill="#f07070" stroke="#e84850" stroke-width="0.5"/>
<path d="M128.8,550.0L132.6,550.0L130.7,553.0Z" fill="#f07070" stroke="#e84850" stroke-width="0.5"/>
<path d="M136.6,566.0L140.4,566.0L138.5,569.0Z" fill="#f07070" stroke="#e84850" stroke-width="0.5"/>
<path d="M144.3,567.4L148.1,567.4L146.2,570.4Z" fill="#f07070" stroke="#e84850" stroke-width="0.5"/>
<path d="M152.1,568.2L155.9,568.2L154.0,571.2Z" fill="#f07070" stroke="#e84850" stroke-width="0.5"/>
<path d="M159.8,568.9L163.6,568.9L161.7,571.9Z" fill="#f07070" stroke="#e84850" stroke-width="0.5"/>
<path d="M167.6,569.6L171.4,569.6L169.5,572.6Z" fill="#f07070" stroke="#e84850" stroke-width="0.5"/>
<path d="M175.3,569.9L179.1,569.9L177.2,572.9Z" fill="#f07070" stroke="#e84850" stroke-width="0.5"/>
<path d="M183.1,570.0L186.9,570.0L185.0,573.0Z" fill="#f07070" stroke="#e84850" stroke-width="0.5"/>
<path d="M190.8,570.1L194.6,570.1L192.7,573.1Z" fill="#f07070" stroke="#e84850" stroke-width="0.5"/>
<path d="M198.6,570.2L202.4,570.2L200.5,573.2Z" fill="#f07070" stroke="#e84850" stroke-width="0.5"/>
<path d="M206.3,570.3L210.1,570.3L208.2,573.3Z" fill="#f07070" stroke="#e84850" stroke-width="0.5"/>
<path d="M214.1,570.4L217.9,570.4L216.0,573.5Z" fill="#f07070" stroke="#e84850" stroke-width="0.5"/>
<path d="M221.8,570.5L225.6,570.5L223.7,573.6Z" fill="#f07070" stroke="#e84850" stroke-width="0.5"/>
<path d="M229.6,570.6L233.4,570.6L231.5,573.7Z" fill="#f07070" stroke="#e84850" stroke-width="0.5"/>
<path d="M237.3,570.7L241.1,570.7L239.2,573.8Z" fill="#f07070" stroke="#e84850" stroke-width="0.5"/>
<path d="M245.1,570.8L248.9,570.8L247.0,573.9Z" fill="#f07070" stroke="#e84850" stroke-width="0.5"/>
<path d="M252.8,571.0L256.6,571.0L254.7,574.0Z" fill="#f07070" stroke="#e84850" stroke-width="0.5"/>
<path d="M260.6,571.1L264.4,571.1L262.5,574.1Z" fill="#f07070" stroke="#e84850" stroke-width="0.5"/>
<path d="M268.3,571.2L272.1,571.2L270.2,574.2Z" fill="#f07070" stroke="#e84850" stroke-width="0.5"/>
<path d="M123.0,476.2L130.7,562.9L138.5,562.9L146.2,564.8L154.0,566.8L161.7,568.7L175.0,569.1L185.0,569.7L192.7,570.6L200.5,571.6L208.2,572.1L270.2,572.9" fill="none" stroke="#3a3a3a" stroke-width="0.9" stroke-linejoin="round"/>
<path d="M121.1,477.5L124.9,477.5L123.0,474.5Z" fill="#777777" stroke="#3a3a3a" stroke-width="0.5"/>
<path d="M128.8,564.2L132.6,564.2L130.7,561.2Z" fill="#777777" stroke="#3a3a3a" stroke-width="0.5"/>
<path d="M136.6,564.2L140.4,564.2L138.5,561.2Z" fill="#777777" stroke="#3a3a3a" stroke-width="0.5"/>
<path d="M144.3,566.1L148.1,566.1L146.2,563.1Z" fill="#777777" stroke="#3a3a3a" stroke-width="0.5"/>
<path d="M152.1,568.1L155.9,568.1L154.0,565.1Z" fill="#777777" stroke="#3a3a3a" stroke-width="0.5"/>
<path d="M159.8,570.0L163.6,570.0L161.7,567.0Z" fill="#777777" stroke="#3a3a3a" stroke-width="0.5"/>
<path d="M167.6,570.3L171.4,570.3L169.5,567.2Z" fill="#777777" stroke="#3a3a3a" stroke-width="0.5"/>
<path d="M175.3,570.6L179.1,570.6L177.2,567.5Z" fill="#777777" stroke="#3a3a3a" stroke-width="0.5"/>
<path d="M183.1,571.0L186.9,571.0L185.0,568.0Z" fill="#777777" stroke="#3a3a3a" stroke-width="0.5"/>
<path d="M190.8,571.9L194.6,571.9L192.7,568.9Z" fill="#777777" stroke="#3a3a3a" stroke-width="0.5"/>
<path d="M198.6,572.9L202.4,572.9L200.5,569.9Z" fill="#777777" stroke="#3a3a3a" stroke-width="0.5"/>
<path d="M206.3,573.4L210.1,573.4L208.2,570.4Z" fill="#777777" stroke="#3a3a3a" stroke-width="0.5"/>
<path d="M214.1,573.5L217.9,573.5L216.0,570.5Z" fill="#777777" stroke="#3a3a3a" stroke-width="0.5"/>
<path d="M221.8,573.6L225.6,573.6L223.7,570.6Z" fill="#777777" stroke="#3a3a3a" stroke-width="0.5"/>
<path d="M229.6,573.7L233.4,573.7L231.5,570.7Z" fill="#777777" stroke="#3a3a3a" stroke-width="0.5"/>
<path d="M237.3,573.8L241.1,573.8L239.2,570.8Z" fill="#777777" stroke="#3a3a3a" stroke-width="0.5"/>
<path d="M245.1,573.9L248.9,573.9L247.0,570.9Z" fill="#777777" stroke="#3a3a3a" stroke-width="0.5"/>
<path d="M252.8,574.0L256.6,574.0L254.7,571.0Z" fill="#777777" stroke="#3a3a3a" stroke-width="0.5"/>
<path d="M260.6,574.1L264.4,574.1L262.5,571.1Z" fill="#777777" stroke="#3a3a3a" stroke-width="0.5"/>
<path d="M268.3,574.2L272.1,574.2L270.2,571.2Z" fill="#777777" stroke="#3a3a3a" stroke-width="0.5"/>
<path d="M123.0,466.3L130.7,536.0L138.5,538.9L146.2,547.6L270.2,548.3" fill="none" stroke="#e02ee0" stroke-width="0.9" stroke-linejoin="round"/>
<circle cx="123.0" cy="466.3" r="1.4" fill="#e02ee0"/>
<circle cx="130.7" cy="536.0" r="1.4" fill="#e02ee0"/>
<circle cx="138.5" cy="538.9" r="1.4" fill="#e02ee0"/>
<circle cx="146.2" cy="547.6" r="1.4" fill="#e02ee0"/>
<circle cx="154.0" cy="547.6" r="1.4" fill="#e02ee0"/>
<circle cx="161.7" cy="547.7" r="1.4" fill="#e02ee0"/>
<circle cx="169.5" cy="547.7" r="1.4" fill="#e02ee0"/>
<circle cx="177.2" cy="547.8" r="1.4" fill="#e02ee0"/>
<circle cx="185.0" cy="547.8" r="1.4" fill="#e02ee0"/>
<circle cx="192.7" cy="547.9" r="1.4" fill="#e02ee0"/>
<circle cx="200.5" cy="547.9" r="1.4" fill="#e02ee0"/>
<circle cx="208.2" cy="548.0" r="1.4" fill="#e02ee0"/>
<circle cx="216.0" cy="548.0" r="1.4" fill="#e02ee0"/>
<circle cx="223.7" cy="548.0" r="1.4" fill="#e02ee0"/>
<circle cx="231.5" cy="548.1" r="1.4" fill="#e02ee0"/>
<circle cx="239.2" cy="548.1" r="1.4" fill="#e02ee0"/>
<circle cx="247.0" cy="548.2" r="1.4" fill="#e02ee0"/>
<circle cx="254.7" cy="548.2" r="1.4" fill="#e02ee0"/>
<circle cx="262.5" cy="548.3" r="1.4" fill="#e02ee0"/>
<circle cx="270.2" cy="548.3" r="1.4" fill="#e02ee0"/>
<path d="M123.0,497.3L130.7,560.4L138.5,566.3L146.2,570.9L154.0,573.5L161.7,574.5L177.2,575.3L216.0,576.5L228.0,578.2L270.2,578.2" fill="none" stroke="#3a3ae0" stroke-width="0.9" stroke-linejoin="round"/>
<path d="M121.3,497.3L124.3,495.4L124.3,499.2Z" fill="#7070f0" stroke="#3a3ae0" stroke-width="0.5"/>
<path d="M129.0,560.4L132.1,558.5L132.1,562.3Z" fill="#7070f0" stroke="#3a3ae0" stroke-width="0.5"/>
<path d="M136.8,566.3L139.8,564.4L139.8,568.2Z" fill="#7070f0" stroke="#3a3ae0" stroke-width="0.5"/>
<path d="M144.5,570.9L147.6,569.0L147.6,572.8Z" fill="#7070f0" stroke="#3a3ae0" stroke-width="0.5"/>
<path d="M152.3,573.5L155.3,571.6L155.3,575.4Z" fill="#7070f0" stroke="#3a3ae0" stroke-width="0.5"/>
<path d="M160.0,574.5L163.1,572.6L163.1,576.4Z" fill="#7070f0" stroke="#3a3ae0" stroke-width="0.5"/>
<path d="M167.8,574.9L170.8,573.0L170.8,576.8Z" fill="#7070f0" stroke="#3a3ae0" stroke-width="0.5"/>
<path d="M175.5,575.3L178.6,573.4L178.6,577.2Z" fill="#7070f0" stroke="#3a3ae0" stroke-width="0.5"/>
<path d="M183.3,575.5L186.3,573.6L186.3,577.4Z" fill="#7070f0" stroke="#3a3ae0" stroke-width="0.5"/>
<path d="M191.0,575.8L194.1,573.9L194.1,577.7Z" fill="#7070f0" stroke="#3a3ae0" stroke-width="0.5"/>
<path d="M198.8,576.0L201.8,574.1L201.8,577.9Z" fill="#7070f0" stroke="#3a3ae0" stroke-width="0.5"/>
<path d="M206.5,576.3L209.6,574.4L209.6,578.2Z" fill="#7070f0" stroke="#3a3ae0" stroke-width="0.5"/>
<path d="M214.3,576.5L217.3,574.6L217.3,578.4Z" fill="#7070f0" stroke="#3a3ae0" stroke-width="0.5"/>
<path d="M222.0,577.6L225.0,575.7L225.0,579.5Z" fill="#7070f0" stroke="#3a3ae0" stroke-width="0.5"/>
<path d="M229.8,578.2L232.8,576.3L232.8,580.1Z" fill="#7070f0" stroke="#3a3ae0" stroke-width="0.5"/>
<path d="M237.5,578.2L240.5,576.3L240.5,580.1Z" fill="#7070f0" stroke="#3a3ae0" stroke-width="0.5"/>
<path d="M245.2,578.2L248.3,576.3L248.3,580.1Z" fill="#7070f0" stroke="#3a3ae0" stroke-width="0.5"/>
<path d="M253.0,578.2L256.0,576.3L256.0,580.1Z" fill="#7070f0" stroke="#3a3ae0" stroke-width="0.5"/>
<path d="M260.7,578.2L263.8,576.3L263.8,580.1Z" fill="#7070f0" stroke="#3a3ae0" stroke-width="0.5"/>
<path d="M268.5,578.2L271.5,576.3L271.5,580.1Z" fill="#7070f0" stroke="#3a3ae0" stroke-width="0.5"/>
<path d="M123.0,492.9L130.7,532.4L138.5,536.0L146.2,544.7L154.0,549.8L161.7,554.2L169.5,554.5L177.2,556.5L185.0,557.0L192.7,561.1L200.5,561.5L208.2,564.5L270.2,565.3" fill="none" stroke="#28e0e0" stroke-width="0.9" stroke-linejoin="round"/>
<circle cx="123.0" cy="492.9" r="1.2" fill="#28e0e0"/><path d="M121.5,492.9H124.5M123.0,491.4V494.4" stroke="#28e0e0" stroke-width="0.5"/>
<circle cx="130.7" cy="532.4" r="1.2" fill="#28e0e0"/><path d="M129.2,532.4H132.2M130.7,530.9V533.9" stroke="#28e0e0" stroke-width="0.5"/>
<circle cx="138.5" cy="536.0" r="1.2" fill="#28e0e0"/><path d="M137.0,536.0H140.0M138.5,534.5V537.5" stroke="#28e0e0" stroke-width="0.5"/>
<circle cx="146.2" cy="544.7" r="1.2" fill="#28e0e0"/><path d="M144.7,544.7H147.7M146.2,543.2V546.2" stroke="#28e0e0" stroke-width="0.5"/>
<circle cx="154.0" cy="549.8" r="1.2" fill="#28e0e0"/><path d="M152.5,549.8H155.5M154.0,548.3V551.3" stroke="#28e0e0" stroke-width="0.5"/>
<circle cx="161.7" cy="554.2" r="1.2" fill="#28e0e0"/><path d="M160.2,554.2H163.2M161.7,552.7V555.7" stroke="#28e0e0" stroke-width="0.5"/>
<circle cx="169.5" cy="554.5" r="1.2" fill="#28e0e0"/><path d="M168.0,554.5H171.0M169.5,553.0V556.0" stroke="#28e0e0" stroke-width="0.5"/>
<circle cx="177.2" cy="556.5" r="1.2" fill="#28e0e0"/><path d="M175.7,556.5H178.7M177.2,555.0V558.0" stroke="#28e0e0" stroke-width="0.5"/>
<circle cx="185.0" cy="557.0" r="1.2" fill="#28e0e0"/><path d="M183.5,557.0H186.5M185.0,555.5V558.5" stroke="#28e0e0" stroke-width="0.5"/>
<circle cx="192.7" cy="561.1" r="1.2" fill="#28e0e0"/><path d="M191.2,561.1H194.2M192.7,559.6V562.6" stroke="#28e0e0" stroke-width="0.5"/>
<circle cx="200.5" cy="561.5" r="1.2" fill="#28e0e0"/><path d="M199.0,561.5H202.0M200.5,560.0V563.0" stroke="#28e0e0" stroke-width="0.5"/>
<circle cx="208.2" cy="564.5" r="1.2" fill="#28e0e0"/><path d="M206.7,564.5H209.7M208.2,563.0V566.0" stroke="#28e0e0" stroke-width="0.5"/>
<circle cx="216.0" cy="564.6" r="1.2" fill="#28e0e0"/><path d="M214.5,564.6H217.5M216.0,563.1V566.1" stroke="#28e0e0" stroke-width="0.5"/>
<circle cx="223.7" cy="564.7" r="1.2" fill="#28e0e0"/><path d="M222.2,564.7H225.2M223.7,563.2V566.2" stroke="#28e0e0" stroke-width="0.5"/>
<circle cx="231.5" cy="564.8" r="1.2" fill="#28e0e0"/><path d="M230.0,564.8H233.0M231.5,563.3V566.3" stroke="#28e0e0" stroke-width="0.5"/>
<circle cx="239.2" cy="564.9" r="1.2" fill="#28e0e0"/><path d="M237.7,564.9H240.7M239.2,563.4V566.4" stroke="#28e0e0" stroke-width="0.5"/>
<circle cx="247.0" cy="565.0" r="1.2" fill="#28e0e0"/><path d="M245.5,565.0H248.5M247.0,563.5V566.5" stroke="#28e0e0" stroke-width="0.5"/>
<circle cx="254.7" cy="565.1" r="1.2" fill="#28e0e0"/><path d="M253.2,565.1H256.2M254.7,563.6V566.6" stroke="#28e0e0" stroke-width="0.5"/>
<circle cx="262.5" cy="565.2" r="1.2" fill="#28e0e0"/><path d="M261.0,565.2H264.0M262.5,563.7V566.7" stroke="#28e0e0" stroke-width="0.5"/>
<circle cx="270.2" cy="565.3" r="1.2" fill="#28e0e0"/><path d="M268.7,565.3H271.7M270.2,563.8V566.8" stroke="#28e0e0" stroke-width="0.5"/>
<path d="M123.0,496.1L130.7,519.8L138.5,519.8L146.2,522.7L154.0,522.7L161.7,528.0L169.5,531.3L177.2,537.0L185.0,543.0L192.7,543.5L200.5,545.8L231.5,545.8L239.2,549.2L247.0,550.0L254.7,550.6L262.5,551.5L270.2,551.5" fill="none" stroke="#d9a030" stroke-width="0.9" stroke-linejoin="round"/>
<path d="M121.1,496.1L123.0,494.2L124.9,496.1L123.0,498.0Z" fill="#e0b050" stroke="#d9a030" stroke-width="0.5"/>
<path d="M128.8,519.8L130.7,517.9L132.6,519.8L130.7,521.7Z" fill="#e0b050" stroke="#d9a030" stroke-width="0.5"/>
<path d="M136.6,519.8L138.5,517.9L140.4,519.8L138.5,521.7Z" fill="#e0b050" stroke="#d9a030" stroke-width="0.5"/>
<path d="M144.3,522.7L146.2,520.8L148.1,522.7L146.2,524.6Z" fill="#e0b050" stroke="#d9a030" stroke-width="0.5"/>
<path d="M152.1,522.7L154.0,520.8L155.9,522.7L154.0,524.6Z" fill="#e0b050" stroke="#d9a030" stroke-width="0.5"/>
<path d="M159.8,528.0L161.7,526.1L163.6,528.0L161.7,529.9Z" fill="#e0b050" stroke="#d9a030" stroke-width="0.5"/>
<path d="M167.6,531.3L169.5,529.4L171.4,531.3L169.5,533.2Z" fill="#e0b050" stroke="#d9a030" stroke-width="0.5"/>
<path d="M175.3,537.0L177.2,535.1L179.1,537.0L177.2,538.9Z" fill="#e0b050" stroke="#d9a030" stroke-width="0.5"/>
<path d="M183.1,543.0L185.0,541.1L186.9,543.0L185.0,544.9Z" fill="#e0b050" stroke="#d9a030" stroke-width="0.5"/>
<path d="M190.8,543.5L192.7,541.6L194.6,543.5L192.7,545.4Z" fill="#e0b050" stroke="#d9a030" stroke-width="0.5"/>
<path d="M198.6,545.8L200.5,543.9L202.4,545.8L200.5,547.7Z" fill="#e0b050" stroke="#d9a030" stroke-width="0.5"/>
<path d="M206.3,545.8L208.2,543.9L210.1,545.8L208.2,547.7Z" fill="#e0b050" stroke="#d9a030" stroke-width="0.5"/>
<path d="M214.1,545.8L216.0,543.9L217.9,545.8L216.0,547.7Z" fill="#e0b050" stroke="#d9a030" stroke-width="0.5"/>
<path d="M221.8,545.8L223.7,543.9L225.6,545.8L223.7,547.7Z" fill="#e0b050" stroke="#d9a030" stroke-width="0.5"/>
<path d="M229.6,545.8L231.5,543.9L233.4,545.8L231.5,547.7Z" fill="#e0b050" stroke="#d9a030" stroke-width="0.5"/>
<path d="M237.3,549.2L239.2,547.3L241.1,549.2L239.2,551.1Z" fill="#e0b050" stroke="#d9a030" stroke-width="0.5"/>
<path d="M245.1,550.0L247.0,548.1L248.9,550.0L247.0,551.9Z" fill="#e0b050" stroke="#d9a030" stroke-width="0.5"/>
<path d="M252.8,550.6L254.7,548.7L256.6,550.6L254.7,552.5Z" fill="#e0b050" stroke="#d9a030" stroke-width="0.5"/>
<path d="M260.6,551.5L262.5,549.6L264.4,551.5L262.5,553.4Z" fill="#e0b050" stroke="#d9a030" stroke-width="0.5"/>
<path d="M268.3,551.5L270.2,549.6L272.1,551.5L270.2,553.4Z" fill="#e0b050" stroke="#d9a030" stroke-width="0.5"/>
</g>
<text x="197.8" y="464" class="tt" text-anchor="middle">F28</text>
<rect x="227.2" y="469.8" width="38.5" height="43.400000000000034" fill="#fff" stroke="#9a9a9a" stroke-width="0.5"/>
<line x1="228.7" x2="243.4" y1="473.9" y2="473.9" stroke="#45d845" stroke-width="0.9"/>
<circle cx="236.0" cy="473.9" r="1.7" fill="#7ee87e" stroke="#45d845" stroke-width="0.6"/>
<text x="244.6" y="475.6" class="lg">M1SCSO</text>
<line x1="228.7" x2="243.4" y1="479.9" y2="479.9" stroke="#e84850" stroke-width="0.9"/>
<path d="M234.1,478.6L237.9,478.6L236.0,481.6Z" fill="#f07070" stroke="#e84850" stroke-width="0.5"/>
<text x="244.6" y="481.6" class="lg">SCSO</text>
<line x1="228.7" x2="243.4" y1="486.0" y2="486.0" stroke="#3a3a3a" stroke-width="0.9"/>
<path d="M234.1,487.3L237.9,487.3L236.0,484.2Z" fill="#777777" stroke="#3a3a3a" stroke-width="0.5"/>
<text x="244.6" y="487.7" class="lg">SMOA</text>
<line x1="228.7" x2="243.4" y1="492.0" y2="492.0" stroke="#e02ee0" stroke-width="0.9"/>
<circle cx="236.0" cy="492.0" r="1.4" fill="#e02ee0"/>
<text x="244.6" y="493.7" class="lg">WOA</text>
<line x1="228.7" x2="243.4" y1="498.0" y2="498.0" stroke="#3a3ae0" stroke-width="0.9"/>
<path d="M234.3,498.0L237.4,496.1L237.4,499.9Z" fill="#7070f0" stroke="#3a3ae0" stroke-width="0.5"/>
<text x="244.6" y="499.7" class="lg">BWO</text>
<line x1="228.7" x2="243.4" y1="504.0" y2="504.0" stroke="#28e0e0" stroke-width="0.9"/>
<circle cx="236.0" cy="504.0" r="1.2" fill="#28e0e0"/><path d="M234.5,504.0H237.5M236.0,502.5V505.5" stroke="#28e0e0" stroke-width="0.5"/>
<text x="244.6" y="505.7" class="lg">ACO</text>
<line x1="228.7" x2="243.4" y1="510.1" y2="510.1" stroke="#d9a030" stroke-width="0.9"/>
<path d="M234.1,510.1L236.0,508.2L237.9,510.1L236.0,512.0Z" fill="#e0b050" stroke="#d9a030" stroke-width="0.5"/>
<text x="244.6" y="511.8" class="lg">RSA</text>
<text transform="translate(106.0,525.5) scale(1.08,1) rotate(-90)" class="yl" text-anchor="middle">Mean of objective function values</text>
<text x="198" y="599.0" class="xl" text-anchor="middle">Iteration</text>
<text x="270.4" y="597.7" class="tag" text-anchor="middle">(j)</text>
<line x1="301.2" x2="448.5" y1="576.8" y2="576.8" stroke="#f1f1f1" stroke-width="0.5"/>
<line x1="301.2" x2="448.5" y1="573.4" y2="573.4" stroke="#f1f1f1" stroke-width="0.5"/>
<line x1="301.2" x2="448.5" y1="571.0" y2="571.0" stroke="#f1f1f1" stroke-width="0.5"/>
<line x1="301.2" x2="448.5" y1="569.1" y2="569.1" stroke="#f1f1f1" stroke-width="0.5"/>
<line x1="301.2" x2="448.5" y1="567.6" y2="567.6" stroke="#f1f1f1" stroke-width="0.5"/>
<line x1="301.2" x2="448.5" y1="566.3" y2="566.3" stroke="#f1f1f1" stroke-width="0.5"/>
<line x1="301.2" x2="448.5" y1="565.1" y2="565.1" stroke="#f1f1f1" stroke-width="0.5"/>
<line x1="301.2" x2="448.5" y1="564.2" y2="564.2" stroke="#f1f1f1" stroke-width="0.5"/>
<line x1="301.2" x2="448.5" y1="557.4" y2="557.4" stroke="#f1f1f1" stroke-width="0.5"/>
<line x1="301.2" x2="448.5" y1="554.0" y2="554.0" stroke="#f1f1f1" stroke-width="0.5"/>
<line x1="301.2" x2="448.5" y1="551.6" y2="551.6" stroke="#f1f1f1" stroke-width="0.5"/>
<line x1="301.2" x2="448.5" y1="549.8" y2="549.8" stroke="#f1f1f1" stroke-width="0.5"/>
<line x1="301.2" x2="448.5" y1="548.2" y2="548.2" stroke="#f1f1f1" stroke-width="0.5"/>
<line x1="301.2" x2="448.5" y1="546.9" y2="546.9" stroke="#f1f1f1" stroke-width="0.5"/>
<line x1="301.2" x2="448.5" y1="545.8" y2="545.8" stroke="#f1f1f1" stroke-width="0.5"/>
<line x1="301.2" x2="448.5" y1="544.8" y2="544.8" stroke="#f1f1f1" stroke-width="0.5"/>
<line x1="301.2" x2="448.5" y1="538.1" y2="538.1" stroke="#f1f1f1" stroke-width="0.5"/>
<line x1="301.2" x2="448.5" y1="534.7" y2="534.7" stroke="#f1f1f1" stroke-width="0.5"/>
<line x1="301.2" x2="448.5" y1="532.3" y2="532.3" stroke="#f1f1f1" stroke-width="0.5"/>
<line x1="301.2" x2="448.5" y1="530.4" y2="530.4" stroke="#f1f1f1" stroke-width="0.5"/>
<line x1="301.2" x2="448.5" y1="528.9" y2="528.9" stroke="#f1f1f1" stroke-width="0.5"/>
<line x1="301.2" x2="448.5" y1="527.6" y2="527.6" stroke="#f1f1f1" stroke-width="0.5"/>
<line x1="301.2" x2="448.5" y1="526.5" y2="526.5" stroke="#f1f1f1" stroke-width="0.5"/>
<line x1="301.2" x2="448.5" y1="525.5" y2="525.5" stroke="#f1f1f1" stroke-width="0.5"/>
<line x1="301.2" x2="448.5" y1="518.8" y2="518.8" stroke="#f1f1f1" stroke-width="0.5"/>
<line x1="301.2" x2="448.5" y1="515.4" y2="515.4" stroke="#f1f1f1" stroke-width="0.5"/>
<line x1="301.2" x2="448.5" y1="513.0" y2="513.0" stroke="#f1f1f1" stroke-width="0.5"/>
<line x1="301.2" x2="448.5" y1="511.1" y2="511.1" stroke="#f1f1f1" stroke-width="0.5"/>
<line x1="301.2" x2="448.5" y1="509.6" y2="509.6" stroke="#f1f1f1" stroke-width="0.5"/>
<line x1="301.2" x2="448.5" y1="508.3" y2="508.3" stroke="#f1f1f1" stroke-width="0.5"/>
<line x1="301.2" x2="448.5" y1="507.1" y2="507.1" stroke="#f1f1f1" stroke-width="0.5"/>
<line x1="301.2" x2="448.5" y1="506.2" y2="506.2" stroke="#f1f1f1" stroke-width="0.5"/>
<line x1="301.2" x2="448.5" y1="499.4" y2="499.4" stroke="#f1f1f1" stroke-width="0.5"/>
<line x1="301.2" x2="448.5" y1="496.0" y2="496.0" stroke="#f1f1f1" stroke-width="0.5"/>
<line x1="301.2" x2="448.5" y1="493.6" y2="493.6" stroke="#f1f1f1" stroke-width="0.5"/>
<line x1="301.2" x2="448.5" y1="491.8" y2="491.8" stroke="#f1f1f1" stroke-width="0.5"/>
<line x1="301.2" x2="448.5" y1="490.2" y2="490.2" stroke="#f1f1f1" stroke-width="0.5"/>
<line x1="301.2" x2="448.5" y1="488.9" y2="488.9" stroke="#f1f1f1" stroke-width="0.5"/>
<line x1="301.2" x2="448.5" y1="487.8" y2="487.8" stroke="#f1f1f1" stroke-width="0.5"/>
<line x1="301.2" x2="448.5" y1="486.8" y2="486.8" stroke="#f1f1f1" stroke-width="0.5"/>
<line x1="301.2" x2="448.5" y1="480.1" y2="480.1" stroke="#f1f1f1" stroke-width="0.5"/>
<line x1="301.2" x2="448.5" y1="476.7" y2="476.7" stroke="#f1f1f1" stroke-width="0.5"/>
<line x1="301.2" x2="448.5" y1="474.3" y2="474.3" stroke="#f1f1f1" stroke-width="0.5"/>
<line x1="301.2" x2="448.5" y1="472.4" y2="472.4" stroke="#f1f1f1" stroke-width="0.5"/>
<line x1="301.2" x2="448.5" y1="470.9" y2="470.9" stroke="#f1f1f1" stroke-width="0.5"/>
<line x1="301.2" x2="448.5" y1="469.6" y2="469.6" stroke="#f1f1f1" stroke-width="0.5"/>
<line x1="301.2" x2="448.5" y1="468.5" y2="468.5" stroke="#f1f1f1" stroke-width="0.5"/>
<line x1="301.2" x2="448.5" y1="467.5" y2="467.5" stroke="#f1f1f1" stroke-width="0.5"/>
<line x1="301.2" x2="448.5" y1="582.6" y2="582.6" stroke="#e6e6e6" stroke-width="0.5"/>
<line x1="301.2" x2="448.5" y1="563.3" y2="563.3" stroke="#e6e6e6" stroke-width="0.5"/>
<line x1="301.2" x2="448.5" y1="543.9" y2="543.9" stroke="#e6e6e6" stroke-width="0.5"/>
<line x1="301.2" x2="448.5" y1="524.6" y2="524.6" stroke="#e6e6e6" stroke-width="0.5"/>
<line x1="301.2" x2="448.5" y1="505.3" y2="505.3" stroke="#e6e6e6" stroke-width="0.5"/>
<line x1="301.2" x2="448.5" y1="485.9" y2="485.9" stroke="#e6e6e6" stroke-width="0.5"/>
<line x1="301.2" x2="448.5" y1="466.6" y2="466.6" stroke="#e6e6e6" stroke-width="0.5"/>
<line x1="350.3" x2="350.3" y1="466.3" y2="582.3" stroke="#e6e6e6" stroke-width="0.5"/>
<line x1="399.4" x2="399.4" y1="466.3" y2="582.3" stroke="#e6e6e6" stroke-width="0.5"/>
<rect x="301.2" y="466.3" width="147.3" height="115.99999999999994" fill="none" stroke="#707070" stroke-width="0.7"/>
<line x1="301.2" x2="302.7" y1="582.6" y2="582.6" stroke="#777" stroke-width="0.5"/>
<line x1="447.0" x2="448.5" y1="582.6" y2="582.6" stroke="#777" stroke-width="0.5"/>
<text x="299.0" y="584.8" class="tk" text-anchor="end">10<tspan dy="-2.4" font-size="3.2">3</tspan></text>
<line x1="301.2" x2="302.7" y1="563.3" y2="563.3" stroke="#777" stroke-width="0.5"/>
<line x1="447.0" x2="448.5" y1="563.3" y2="563.3" stroke="#777" stroke-width="0.5"/>
<text x="299.0" y="565.5" class="tk" text-anchor="end">10<tspan dy="-2.4" font-size="3.2">4</tspan></text>
<line x1="301.2" x2="302.7" y1="543.9" y2="543.9" stroke="#777" stroke-width="0.5"/>
<line x1="447.0" x2="448.5" y1="543.9" y2="543.9" stroke="#777" stroke-width="0.5"/>
<text x="299.0" y="546.1" class="tk" text-anchor="end">10<tspan dy="-2.4" font-size="3.2">5</tspan></text>
<line x1="301.2" x2="302.7" y1="524.6" y2="524.6" stroke="#777" stroke-width="0.5"/>
<line x1="447.0" x2="448.5" y1="524.6" y2="524.6" stroke="#777" stroke-width="0.5"/>
<text x="299.0" y="526.8" class="tk" text-anchor="end">10<tspan dy="-2.4" font-size="3.2">6</tspan></text>
<line x1="301.2" x2="302.7" y1="505.3" y2="505.3" stroke="#777" stroke-width="0.5"/>
<line x1="447.0" x2="448.5" y1="505.3" y2="505.3" stroke="#777" stroke-width="0.5"/>
<text x="299.0" y="507.5" class="tk" text-anchor="end">10<tspan dy="-2.4" font-size="3.2">7</tspan></text>
<line x1="301.2" x2="302.7" y1="485.9" y2="485.9" stroke="#777" stroke-width="0.5"/>
<line x1="447.0" x2="448.5" y1="485.9" y2="485.9" stroke="#777" stroke-width="0.5"/>
<text x="299.0" y="488.1" class="tk" text-anchor="end">10<tspan dy="-2.4" font-size="3.2">8</tspan></text>
<line x1="301.2" x2="302.7" y1="466.6" y2="466.6" stroke="#777" stroke-width="0.5"/>
<line x1="447.0" x2="448.5" y1="466.6" y2="466.6" stroke="#777" stroke-width="0.5"/>
<text x="299.0" y="468.8" class="tk" text-anchor="end">10<tspan dy="-2.4" font-size="3.2">9</tspan></text>
<text x="301.2" y="588.5" class="tk" text-anchor="middle">0</text>
<line x1="350.3" x2="350.3" y1="580.8" y2="582.3" stroke="#777" stroke-width="0.5"/>
<line x1="350.3" x2="350.3" y1="466.3" y2="467.8" stroke="#777" stroke-width="0.5"/>
<text x="350.3" y="588.5" class="tk" text-anchor="middle">500</text>
<line x1="399.4" x2="399.4" y1="580.8" y2="582.3" stroke="#777" stroke-width="0.5"/>
<line x1="399.4" x2="399.4" y1="466.3" y2="467.8" stroke="#777" stroke-width="0.5"/>
<text x="399.4" y="588.5" class="tk" text-anchor="middle">1000</text>
<text x="448.5" y="588.5" class="tk" text-anchor="middle">1500</text>
<clipPath id="clipk"><rect x="298.2" y="463.3" width="153.3" height="121.99999999999994"/></clipPath>
<g clip-path="url(#clipk)">
<path d="M301.2,506.0L309.0,568.6L316.7,569.6L448.5,570.4" fill="none" stroke="#45d845" stroke-width="0.9" stroke-linejoin="round"/>
<circle cx="301.2" cy="506.0" r="1.7" fill="#7ee87e" stroke="#45d845" stroke-width="0.6"/>
<circle cx="309.0" cy="568.6" r="1.7" fill="#7ee87e" stroke="#45d845" stroke-width="0.6"/>
<circle cx="316.7" cy="569.6" r="1.7" fill="#7ee87e" stroke="#45d845" stroke-width="0.6"/>
<circle cx="324.5" cy="569.6" r="1.7" fill="#7ee87e" stroke="#45d845" stroke-width="0.6"/>
<circle cx="332.2" cy="569.7" r="1.7" fill="#7ee87e" stroke="#45d845" stroke-width="0.6"/>
<circle cx="340.0" cy="569.7" r="1.7" fill="#7ee87e" stroke="#45d845" stroke-width="0.6"/>
<circle cx="347.7" cy="569.8" r="1.7" fill="#7ee87e" stroke="#45d845" stroke-width="0.6"/>
<circle cx="355.5" cy="569.8" r="1.7" fill="#7ee87e" stroke="#45d845" stroke-width="0.6"/>
<circle cx="363.2" cy="569.9" r="1.7" fill="#7ee87e" stroke="#45d845" stroke-width="0.6"/>
<circle cx="371.0" cy="569.9" r="1.7" fill="#7ee87e" stroke="#45d845" stroke-width="0.6"/>
<circle cx="378.7" cy="570.0" r="1.7" fill="#7ee87e" stroke="#45d845" stroke-width="0.6"/>
<circle cx="386.5" cy="570.0" r="1.7" fill="#7ee87e" stroke="#45d845" stroke-width="0.6"/>
<circle cx="394.2" cy="570.1" r="1.7" fill="#7ee87e" stroke="#45d845" stroke-width="0.6"/>
<circle cx="402.0" cy="570.1" r="1.7" fill="#7ee87e" stroke="#45d845" stroke-width="0.6"/>
<circle cx="409.7" cy="570.2" r="1.7" fill="#7ee87e" stroke="#45d845" stroke-width="0.6"/>
<circle cx="417.5" cy="570.2" r="1.7" fill="#7ee87e" stroke="#45d845" stroke-width="0.6"/>
<circle cx="425.2" cy="570.3" r="1.7" fill="#7ee87e" stroke="#45d845" stroke-width="0.6"/>
<circle cx="433.0" cy="570.3" r="1.7" fill="#7ee87e" stroke="#45d845" stroke-width="0.6"/>
<circle cx="440.7" cy="570.4" r="1.7" fill="#7ee87e" stroke="#45d845" stroke-width="0.6"/>
<circle cx="448.5" cy="570.4" r="1.7" fill="#7ee87e" stroke="#45d845" stroke-width="0.6"/>
<path d="M301.2,482.0L309.0,525.3L316.7,531.4L324.5,532.1L347.7,532.5L400.0,533.3L448.5,534.2" fill="none" stroke="#e84850" stroke-width="0.9" stroke-linejoin="round"/>
<path d="M299.3,480.7L303.1,480.7L301.2,483.7Z" fill="#f07070" stroke="#e84850" stroke-width="0.5"/>
<path d="M307.1,524.0L310.9,524.0L309.0,527.0Z" fill="#f07070" stroke="#e84850" stroke-width="0.5"/>
<path d="M314.8,530.1L318.6,530.1L316.7,533.1Z" fill="#f07070" stroke="#e84850" stroke-width="0.5"/>
<path d="M322.6,530.8L326.4,530.8L324.5,533.8Z" fill="#f07070" stroke="#e84850" stroke-width="0.5"/>
<path d="M330.3,530.9L334.1,530.9L332.2,533.9Z" fill="#f07070" stroke="#e84850" stroke-width="0.5"/>
<path d="M338.1,531.0L341.9,531.0L340.0,534.1Z" fill="#f07070" stroke="#e84850" stroke-width="0.5"/>
<path d="M345.8,531.2L349.6,531.2L347.7,534.2Z" fill="#f07070" stroke="#e84850" stroke-width="0.5"/>
<path d="M353.6,531.3L357.4,531.3L355.5,534.3Z" fill="#f07070" stroke="#e84850" stroke-width="0.5"/>
<path d="M361.3,531.4L365.1,531.4L363.2,534.4Z" fill="#f07070" stroke="#e84850" stroke-width="0.5"/>
<path d="M369.1,531.5L372.9,531.5L371.0,534.6Z" fill="#f07070" stroke="#e84850" stroke-width="0.5"/>
<path d="M376.8,531.6L380.6,531.6L378.7,534.7Z" fill="#f07070" stroke="#e84850" stroke-width="0.5"/>
<path d="M384.6,531.8L388.4,531.8L386.5,534.8Z" fill="#f07070" stroke="#e84850" stroke-width="0.5"/>
<path d="M392.3,531.9L396.1,531.9L394.2,534.9Z" fill="#f07070" stroke="#e84850" stroke-width="0.5"/>
<path d="M400.1,532.0L403.9,532.0L402.0,535.0Z" fill="#f07070" stroke="#e84850" stroke-width="0.5"/>
<path d="M407.8,532.2L411.6,532.2L409.7,535.2Z" fill="#f07070" stroke="#e84850" stroke-width="0.5"/>
<path d="M415.6,532.3L419.4,532.3L417.5,535.3Z" fill="#f07070" stroke="#e84850" stroke-width="0.5"/>
<path d="M423.3,532.4L427.1,532.4L425.2,535.5Z" fill="#f07070" stroke="#e84850" stroke-width="0.5"/>
<path d="M431.1,532.6L434.9,532.6L433.0,535.6Z" fill="#f07070" stroke="#e84850" stroke-width="0.5"/>
<path d="M438.8,532.7L442.6,532.7L440.7,535.8Z" fill="#f07070" stroke="#e84850" stroke-width="0.5"/>
<path d="M446.6,532.9L450.4,532.9L448.5,535.9Z" fill="#f07070" stroke="#e84850" stroke-width="0.5"/>
<path d="M301.2,486.0L309.0,545.6L316.7,549.3L324.5,550.3L332.2,565.3L340.0,566.3L347.7,566.3L355.5,569.2L363.2,569.6L448.5,570.8" fill="none" stroke="#3a3a3a" stroke-width="0.9" stroke-linejoin="round"/>
<path d="M299.3,487.3L303.1,487.3L301.2,484.3Z" fill="#777777" stroke="#3a3a3a" stroke-width="0.5"/>
<path d="M307.1,546.9L310.9,546.9L309.0,543.9Z" fill="#777777" stroke="#3a3a3a" stroke-width="0.5"/>
<path d="M314.8,550.6L318.6,550.6L316.7,547.6Z" fill="#777777" stroke="#3a3a3a" stroke-width="0.5"/>
<path d="M322.6,551.6L326.4,551.6L324.5,548.6Z" fill="#777777" stroke="#3a3a3a" stroke-width="0.5"/>
<path d="M330.3,566.6L334.1,566.6L332.2,563.6Z" fill="#777777" stroke="#3a3a3a" stroke-width="0.5"/>
<path d="M338.1,567.6L341.9,567.6L340.0,564.6Z" fill="#777777" stroke="#3a3a3a" stroke-width="0.5"/>
<path d="M345.8,567.6L349.6,567.6L347.7,564.6Z" fill="#777777" stroke="#3a3a3a" stroke-width="0.5"/>
<path d="M353.6,570.5L357.4,570.5L355.5,567.5Z" fill="#777777" stroke="#3a3a3a" stroke-width="0.5"/>
<path d="M361.3,570.9L365.1,570.9L363.2,567.9Z" fill="#777777" stroke="#3a3a3a" stroke-width="0.5"/>
<path d="M369.1,571.0L372.9,571.0L371.0,568.0Z" fill="#777777" stroke="#3a3a3a" stroke-width="0.5"/>
<path d="M376.8,571.1L380.6,571.1L378.7,568.1Z" fill="#777777" stroke="#3a3a3a" stroke-width="0.5"/>
<path d="M384.6,571.3L388.4,571.3L386.5,568.2Z" fill="#777777" stroke="#3a3a3a" stroke-width="0.5"/>
<path d="M392.3,571.4L396.1,571.4L394.2,568.3Z" fill="#777777" stroke="#3a3a3a" stroke-width="0.5"/>
<path d="M400.1,571.5L403.9,571.5L402.0,568.4Z" fill="#777777" stroke="#3a3a3a" stroke-width="0.5"/>
<path d="M407.8,571.6L411.6,571.6L409.7,568.5Z" fill="#777777" stroke="#3a3a3a" stroke-width="0.5"/>
<path d="M415.6,571.7L419.4,571.7L417.5,568.7Z" fill="#777777" stroke="#3a3a3a" stroke-width="0.5"/>
<path d="M423.3,571.8L427.1,571.8L425.2,568.8Z" fill="#777777" stroke="#3a3a3a" stroke-width="0.5"/>
<path d="M431.1,571.9L434.9,571.9L433.0,568.9Z" fill="#777777" stroke="#3a3a3a" stroke-width="0.5"/>
<path d="M438.8,572.0L442.6,572.0L440.7,569.0Z" fill="#777777" stroke="#3a3a3a" stroke-width="0.5"/>
<path d="M446.6,572.1L450.4,572.1L448.5,569.1Z" fill="#777777" stroke="#3a3a3a" stroke-width="0.5"/>
<path d="M301.2,486.0L309.0,517.9L316.7,519.4L324.5,519.8L347.7,520.8L448.5,521.0" fill="none" stroke="#e02ee0" stroke-width="0.9" stroke-linejoin="round"/>
<circle cx="301.2" cy="486.0" r="1.4" fill="#e02ee0"/>
<circle cx="309.0" cy="517.9" r="1.4" fill="#e02ee0"/>
<circle cx="316.7" cy="519.4" r="1.4" fill="#e02ee0"/>
<circle cx="324.5" cy="519.8" r="1.4" fill="#e02ee0"/>
<circle cx="332.2" cy="520.1" r="1.4" fill="#e02ee0"/>
<circle cx="340.0" cy="520.5" r="1.4" fill="#e02ee0"/>
<circle cx="347.7" cy="520.8" r="1.4" fill="#e02ee0"/>
<circle cx="355.5" cy="520.8" r="1.4" fill="#e02ee0"/>
<circle cx="363.2" cy="520.8" r="1.4" fill="#e02ee0"/>
<circle cx="371.0" cy="520.8" r="1.4" fill="#e02ee0"/>
<circle cx="378.7" cy="520.9" r="1.4" fill="#e02ee0"/>
<circle cx="386.5" cy="520.9" r="1.4" fill="#e02ee0"/>
<circle cx="394.2" cy="520.9" r="1.4" fill="#e02ee0"/>
<circle cx="402.0" cy="520.9" r="1.4" fill="#e02ee0"/>
<circle cx="409.7" cy="520.9" r="1.4" fill="#e02ee0"/>
<circle cx="417.5" cy="520.9" r="1.4" fill="#e02ee0"/>
<circle cx="425.2" cy="521.0" r="1.4" fill="#e02ee0"/>
<circle cx="433.0" cy="521.0" r="1.4" fill="#e02ee0"/>
<circle cx="440.7" cy="521.0" r="1.4" fill="#e02ee0"/>
<circle cx="448.5" cy="521.0" r="1.4" fill="#e02ee0"/>
<path d="M301.2,485.0L309.0,526.7L316.7,531.8L324.5,536.6L332.2,538.8L340.0,540.1L347.7,542.4L355.5,542.7L371.0,543.1L378.7,546.9L402.0,546.9L409.7,548.2L417.5,549.1L448.5,549.5" fill="none" stroke="#3a3ae0" stroke-width="0.9" stroke-linejoin="round"/>
<path d="M299.5,485.0L302.5,483.1L302.5,486.9Z" fill="#7070f0" stroke="#3a3ae0" stroke-width="0.5"/>
<path d="M307.2,526.7L310.3,524.8L310.3,528.6Z" fill="#7070f0" stroke="#3a3ae0" stroke-width="0.5"/>
<path d="M315.0,531.8L318.0,529.9L318.0,533.7Z" fill="#7070f0" stroke="#3a3ae0" stroke-width="0.5"/>
<path d="M322.7,536.6L325.8,534.7L325.8,538.5Z" fill="#7070f0" stroke="#3a3ae0" stroke-width="0.5"/>
<path d="M330.5,538.8L333.5,536.9L333.5,540.7Z" fill="#7070f0" stroke="#3a3ae0" stroke-width="0.5"/>
<path d="M338.3,540.1L341.3,538.2L341.3,542.0Z" fill="#7070f0" stroke="#3a3ae0" stroke-width="0.5"/>
<path d="M346.0,542.4L349.0,540.5L349.0,544.3Z" fill="#7070f0" stroke="#3a3ae0" stroke-width="0.5"/>
<path d="M353.8,542.7L356.8,540.8L356.8,544.6Z" fill="#7070f0" stroke="#3a3ae0" stroke-width="0.5"/>
<path d="M361.5,542.9L364.6,541.0L364.6,544.8Z" fill="#7070f0" stroke="#3a3ae0" stroke-width="0.5"/>
<path d="M369.3,543.1L372.3,541.2L372.3,545.0Z" fill="#7070f0" stroke="#3a3ae0" stroke-width="0.5"/>
<path d="M377.0,546.9L380.1,545.0L380.1,548.8Z" fill="#7070f0" stroke="#3a3ae0" stroke-width="0.5"/>
<path d="M384.8,546.9L387.8,545.0L387.8,548.8Z" fill="#7070f0" stroke="#3a3ae0" stroke-width="0.5"/>
<path d="M392.5,546.9L395.6,545.0L395.6,548.8Z" fill="#7070f0" stroke="#3a3ae0" stroke-width="0.5"/>
<path d="M400.3,546.9L403.3,545.0L403.3,548.8Z" fill="#7070f0" stroke="#3a3ae0" stroke-width="0.5"/>
<path d="M408.0,548.2L411.1,546.3L411.1,550.1Z" fill="#7070f0" stroke="#3a3ae0" stroke-width="0.5"/>
<path d="M415.8,549.1L418.8,547.2L418.8,551.0Z" fill="#7070f0" stroke="#3a3ae0" stroke-width="0.5"/>
<path d="M423.5,549.2L426.6,547.3L426.6,551.1Z" fill="#7070f0" stroke="#3a3ae0" stroke-width="0.5"/>
<path d="M431.3,549.3L434.3,547.4L434.3,551.2Z" fill="#7070f0" stroke="#3a3ae0" stroke-width="0.5"/>
<path d="M439.0,549.4L442.1,547.5L442.1,551.3Z" fill="#7070f0" stroke="#3a3ae0" stroke-width="0.5"/>
<path d="M446.8,549.5L449.8,547.6L449.8,551.4Z" fill="#7070f0" stroke="#3a3ae0" stroke-width="0.5"/>
<path d="M301.2,485.5L309.0,548.5L316.7,553.6L324.5,555.5L332.2,557.3L340.0,558.0L347.7,558.7L355.5,560.2L371.0,560.4L378.7,561.5L409.7,561.5L417.5,562.7L448.5,564.0" fill="none" stroke="#28e0e0" stroke-width="0.9" stroke-linejoin="round"/>
<circle cx="301.2" cy="485.5" r="1.2" fill="#28e0e0"/><path d="M299.7,485.5H302.7M301.2,484.0V487.0" stroke="#28e0e0" stroke-width="0.5"/>
<circle cx="309.0" cy="548.5" r="1.2" fill="#28e0e0"/><path d="M307.5,548.5H310.5M309.0,547.0V550.0" stroke="#28e0e0" stroke-width="0.5"/>
<circle cx="316.7" cy="553.6" r="1.2" fill="#28e0e0"/><path d="M315.2,553.6H318.2M316.7,552.1V555.1" stroke="#28e0e0" stroke-width="0.5"/>
<circle cx="324.5" cy="555.5" r="1.2" fill="#28e0e0"/><path d="M323.0,555.5H326.0M324.5,554.0V557.0" stroke="#28e0e0" stroke-width="0.5"/>
<circle cx="332.2" cy="557.3" r="1.2" fill="#28e0e0"/><path d="M330.7,557.3H333.7M332.2,555.8V558.8" stroke="#28e0e0" stroke-width="0.5"/>
<circle cx="340.0" cy="558.0" r="1.2" fill="#28e0e0"/><path d="M338.5,558.0H341.5M340.0,556.5V559.5" stroke="#28e0e0" stroke-width="0.5"/>
<circle cx="347.7" cy="558.7" r="1.2" fill="#28e0e0"/><path d="M346.2,558.7H349.2M347.7,557.2V560.2" stroke="#28e0e0" stroke-width="0.5"/>
<circle cx="355.5" cy="560.2" r="1.2" fill="#28e0e0"/><path d="M354.0,560.2H357.0M355.5,558.7V561.7" stroke="#28e0e0" stroke-width="0.5"/>
<circle cx="363.2" cy="560.3" r="1.2" fill="#28e0e0"/><path d="M361.7,560.3H364.7M363.2,558.8V561.8" stroke="#28e0e0" stroke-width="0.5"/>
<circle cx="371.0" cy="560.4" r="1.2" fill="#28e0e0"/><path d="M369.5,560.4H372.5M371.0,558.9V561.9" stroke="#28e0e0" stroke-width="0.5"/>
<circle cx="378.7" cy="561.5" r="1.2" fill="#28e0e0"/><path d="M377.2,561.5H380.2M378.7,560.0V563.0" stroke="#28e0e0" stroke-width="0.5"/>
<circle cx="386.5" cy="561.5" r="1.2" fill="#28e0e0"/><path d="M385.0,561.5H388.0M386.5,560.0V563.0" stroke="#28e0e0" stroke-width="0.5"/>
<circle cx="394.2" cy="561.5" r="1.2" fill="#28e0e0"/><path d="M392.7,561.5H395.7M394.2,560.0V563.0" stroke="#28e0e0" stroke-width="0.5"/>
<circle cx="402.0" cy="561.5" r="1.2" fill="#28e0e0"/><path d="M400.5,561.5H403.5M402.0,560.0V563.0" stroke="#28e0e0" stroke-width="0.5"/>
<circle cx="409.7" cy="561.5" r="1.2" fill="#28e0e0"/><path d="M408.2,561.5H411.2M409.7,560.0V563.0" stroke="#28e0e0" stroke-width="0.5"/>
<circle cx="417.5" cy="562.7" r="1.2" fill="#28e0e0"/><path d="M416.0,562.7H419.0M417.5,561.2V564.2" stroke="#28e0e0" stroke-width="0.5"/>
<circle cx="425.2" cy="563.0" r="1.2" fill="#28e0e0"/><path d="M423.7,563.0H426.7M425.2,561.5V564.5" stroke="#28e0e0" stroke-width="0.5"/>
<circle cx="433.0" cy="563.4" r="1.2" fill="#28e0e0"/><path d="M431.5,563.4H434.5M433.0,561.9V564.9" stroke="#28e0e0" stroke-width="0.5"/>
<circle cx="440.7" cy="563.7" r="1.2" fill="#28e0e0"/><path d="M439.2,563.7H442.2M440.7,562.2V565.2" stroke="#28e0e0" stroke-width="0.5"/>
<circle cx="448.5" cy="564.0" r="1.2" fill="#28e0e0"/><path d="M447.0,564.0H450.0M448.5,562.5V565.5" stroke="#28e0e0" stroke-width="0.5"/>
<path d="M301.2,487.1L309.0,487.1L316.7,491.7L324.5,492.2L332.2,491.7L340.0,495.8L347.7,505.3L448.5,505.8" fill="none" stroke="#d9a030" stroke-width="0.9" stroke-linejoin="round"/>
<path d="M299.3,487.1L301.2,485.2L303.1,487.1L301.2,489.0Z" fill="#e0b050" stroke="#d9a030" stroke-width="0.5"/>
<path d="M307.1,487.1L309.0,485.2L310.9,487.1L309.0,489.0Z" fill="#e0b050" stroke="#d9a030" stroke-width="0.5"/>
<path d="M314.8,491.7L316.7,489.8L318.6,491.7L316.7,493.6Z" fill="#e0b050" stroke="#d9a030" stroke-width="0.5"/>
<path d="M322.6,492.2L324.5,490.3L326.4,492.2L324.5,494.1Z" fill="#e0b050" stroke="#d9a030" stroke-width="0.5"/>
<path d="M330.3,491.7L332.2,489.8L334.1,491.7L332.2,493.6Z" fill="#e0b050" stroke="#d9a030" stroke-width="0.5"/>
<path d="M338.1,495.8L340.0,493.9L341.9,495.8L340.0,497.7Z" fill="#e0b050" stroke="#d9a030" stroke-width="0.5"/>
<path d="M345.8,505.3L347.7,503.4L349.6,505.3L347.7,507.2Z" fill="#e0b050" stroke="#d9a030" stroke-width="0.5"/>
<path d="M353.6,505.3L355.5,503.4L357.4,505.3L355.5,507.2Z" fill="#e0b050" stroke="#d9a030" stroke-width="0.5"/>
<path d="M361.3,505.4L363.2,503.5L365.1,505.4L363.2,507.3Z" fill="#e0b050" stroke="#d9a030" stroke-width="0.5"/>
<path d="M369.1,505.4L371.0,503.5L372.9,505.4L371.0,507.3Z" fill="#e0b050" stroke="#d9a030" stroke-width="0.5"/>
<path d="M376.8,505.5L378.7,503.6L380.6,505.5L378.7,507.4Z" fill="#e0b050" stroke="#d9a030" stroke-width="0.5"/>
<path d="M384.6,505.5L386.5,503.6L388.4,505.5L386.5,507.4Z" fill="#e0b050" stroke="#d9a030" stroke-width="0.5"/>
<path d="M392.3,505.5L394.2,503.6L396.1,505.5L394.2,507.4Z" fill="#e0b050" stroke="#d9a030" stroke-width="0.5"/>
<path d="M400.1,505.6L402.0,503.7L403.9,505.6L402.0,507.5Z" fill="#e0b050" stroke="#d9a030" stroke-width="0.5"/>
<path d="M407.8,505.6L409.7,503.7L411.6,505.6L409.7,507.5Z" fill="#e0b050" stroke="#d9a030" stroke-width="0.5"/>
<path d="M415.6,505.6L417.5,503.7L419.4,505.6L417.5,507.5Z" fill="#e0b050" stroke="#d9a030" stroke-width="0.5"/>
<path d="M423.3,505.7L425.2,503.8L427.1,505.7L425.2,507.6Z" fill="#e0b050" stroke="#d9a030" stroke-width="0.5"/>
<path d="M431.1,505.7L433.0,503.8L434.9,505.7L433.0,507.6Z" fill="#e0b050" stroke="#d9a030" stroke-width="0.5"/>
<path d="M438.8,505.8L440.7,503.9L442.6,505.8L440.7,507.7Z" fill="#e0b050" stroke="#d9a030" stroke-width="0.5"/>
<path d="M446.6,505.8L448.5,503.9L450.4,505.8L448.5,507.7Z" fill="#e0b050" stroke="#d9a030" stroke-width="0.5"/>
</g>
<text x="372.6" y="463.2" class="tt" text-anchor="middle">F29</text>
<rect x="406.4" y="469.5" width="38.60000000000002" height="43.60000000000002" fill="#fff" stroke="#9a9a9a" stroke-width="0.5"/>
<line x1="407.9" x2="422.6" y1="473.6" y2="473.6" stroke="#45d845" stroke-width="0.9"/>
<circle cx="415.3" cy="473.6" r="1.7" fill="#7ee87e" stroke="#45d845" stroke-width="0.6"/>
<text x="423.8" y="475.3" class="lg">M1SCSO</text>
<line x1="407.9" x2="422.6" y1="479.7" y2="479.7" stroke="#e84850" stroke-width="0.9"/>
<path d="M413.4,478.3L417.2,478.3L415.3,481.4Z" fill="#f07070" stroke="#e84850" stroke-width="0.5"/>
<text x="423.8" y="481.4" class="lg">SCSO</text>
<line x1="407.9" x2="422.6" y1="485.7" y2="485.7" stroke="#3a3a3a" stroke-width="0.9"/>
<path d="M413.4,487.1L417.2,487.1L415.3,484.0Z" fill="#777777" stroke="#3a3a3a" stroke-width="0.5"/>
<text x="423.8" y="487.4" class="lg">SMOA</text>
<line x1="407.9" x2="422.6" y1="491.8" y2="491.8" stroke="#e02ee0" stroke-width="0.9"/>
<circle cx="415.3" cy="491.8" r="1.4" fill="#e02ee0"/>
<text x="423.8" y="493.5" class="lg">WOA</text>
<line x1="407.9" x2="422.6" y1="497.8" y2="497.8" stroke="#3a3ae0" stroke-width="0.9"/>
<path d="M413.5,497.8L416.6,495.9L416.6,499.7Z" fill="#7070f0" stroke="#3a3ae0" stroke-width="0.5"/>
<text x="423.8" y="499.5" class="lg">BWO</text>
<line x1="407.9" x2="422.6" y1="503.9" y2="503.9" stroke="#28e0e0" stroke-width="0.9"/>
<circle cx="415.3" cy="503.9" r="1.2" fill="#28e0e0"/><path d="M413.8,503.9H416.8M415.3,502.4V505.4" stroke="#28e0e0" stroke-width="0.5"/>
<text x="423.8" y="505.6" class="lg">ACO</text>
<line x1="407.9" x2="422.6" y1="510.0" y2="510.0" stroke="#d9a030" stroke-width="0.9"/>
<path d="M413.4,510.0L415.3,508.1L417.2,510.0L415.3,511.9Z" fill="#e0b050" stroke="#d9a030" stroke-width="0.5"/>
<text x="423.8" y="511.7" class="lg">RSA</text>
<text transform="translate(285.3,526.1) scale(1.08,1) rotate(-90)" class="yl" text-anchor="middle">Mean of objective function values</text>
<text x="372.5" y="599.1" class="xl" text-anchor="middle">Iteration</text>
<text x="451.8" y="597.7" class="tag" text-anchor="middle">(k)</text>
</svg>
</body></html>
